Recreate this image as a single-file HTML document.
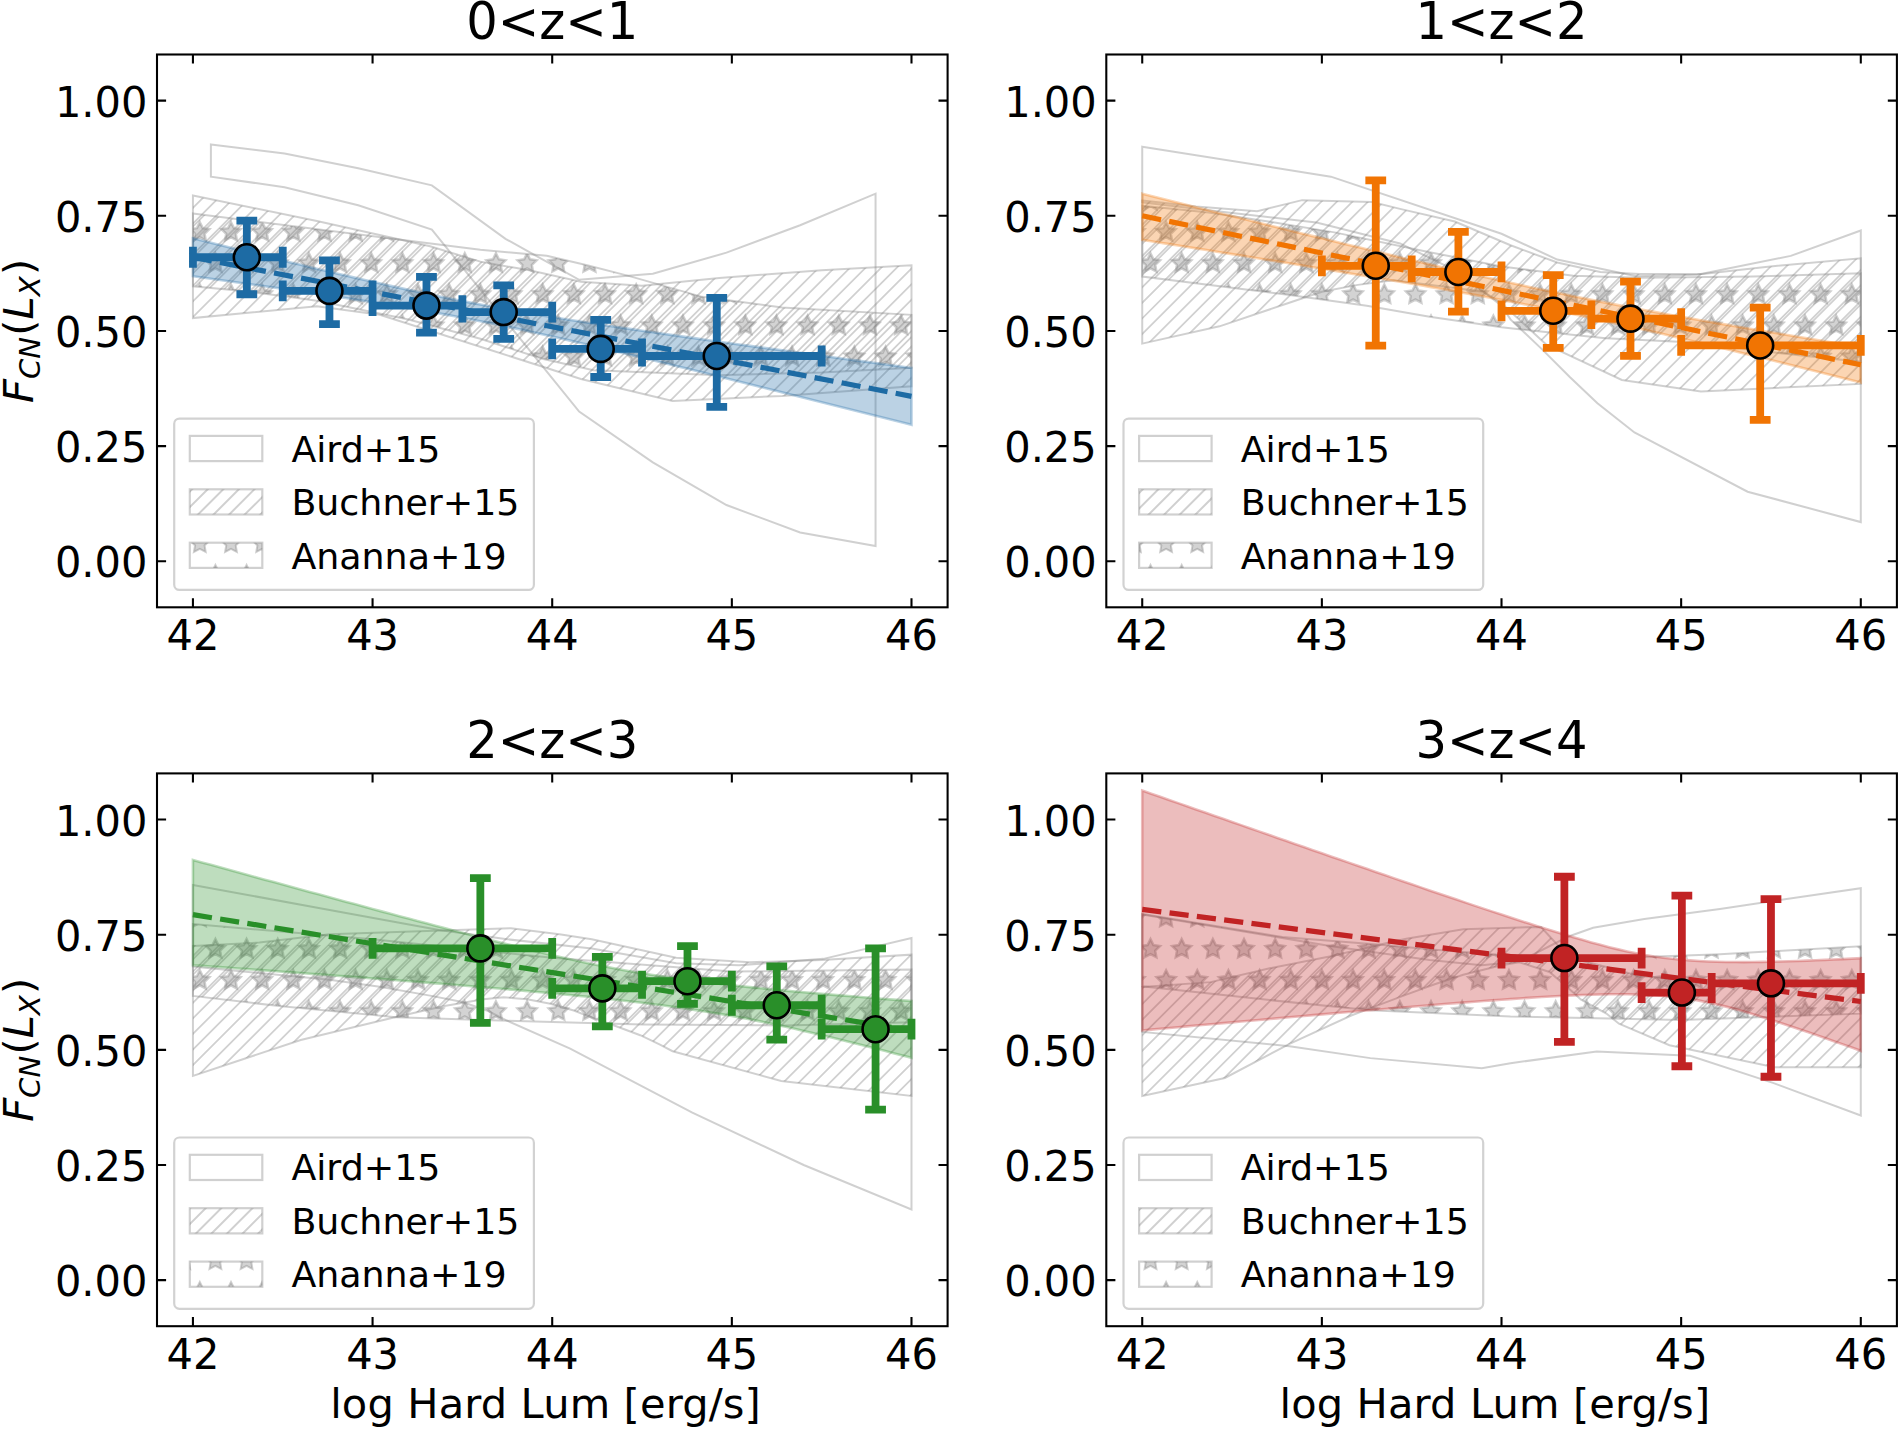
<!DOCTYPE html>
<html lang="en"><head><meta charset="utf-8"><title>F_CN(L_X) vs log Hard Lum</title>
<style>html,body{margin:0;padding:0;background:#fff}svg{display:block}text{font-family:"DejaVu Sans","Liberation Sans",sans-serif;fill:#000}</style>
</head><body>
<svg width="1900" height="1430" viewBox="0 0 1900 1430">
<rect width="1900" height="1430" fill="#fff"/>
<g id="panel0">
<clipPath id="c0"><rect x="157" y="54.5" width="790.6" height="552.8"/></clipPath>
<g clip-path="url(#c0)">
<polygon points="210.89,144.4 284.54,153.61 358.2,168.35 431.85,185.39 505.5,238.82 579.15,279.81 652.81,273.83 726.46,252.64 800.11,225.23 875.56,193.68 875.56,546.04 800.11,532.45 726.46,505.05 652.81,462.44 579.15,411.54 505.5,320.58 431.85,229.61 358.2,205.2 284.54,187.23 210.89,176.64" fill="none" stroke="rgb(128,128,128)" stroke-opacity="0.37" stroke-width="2.0" stroke-linejoin="miter"/>
<clipPath id="c0b"><polygon points="192.93,195.52 316.88,221.04 430.05,246.33 480.35,261.62 530.65,270.6 580.95,281.84 642.03,285.8 719.27,277.97 821.67,270.14 911.49,265.21 911.49,386.21 782.15,395.88 672.57,400.95 580.95,378.98 485.74,348.44 379.75,314.82 316.88,306.3 192.93,318.04"/></clipPath>
<path clip-path="url(#c0b)" d="M190.93,163.15 L913.49,-559.41 M190.93,178.74 L913.49,-543.82 M190.93,194.32 L913.49,-528.24 M190.93,209.91 L913.49,-512.65 M190.93,225.49 L913.49,-497.07 M190.93,241.08 L913.49,-481.48 M190.93,256.66 L913.49,-465.9 M190.93,272.25 L913.49,-450.31 M190.93,287.83 L913.49,-434.73 M190.93,303.42 L913.49,-419.14 M190.93,319 L913.49,-403.56 M190.93,334.59 L913.49,-387.97 M190.93,350.17 L913.49,-372.39 M190.93,365.76 L913.49,-356.8 M190.93,381.34 L913.49,-341.22 M190.93,396.93 L913.49,-325.63 M190.93,412.51 L913.49,-310.05 M190.93,428.1 L913.49,-294.46 M190.93,443.68 L913.49,-278.88 M190.93,459.27 L913.49,-263.29 M190.93,474.85 L913.49,-247.71 M190.93,490.44 L913.49,-232.12 M190.93,506.02 L913.49,-216.54 M190.93,521.61 L913.49,-200.95 M190.93,537.19 L913.49,-185.37 M190.93,552.78 L913.49,-169.78 M190.93,568.36 L913.49,-154.2 M190.93,583.95 L913.49,-138.61 M190.93,599.53 L913.49,-123.03 M190.93,615.12 L913.49,-107.44 M190.93,630.7 L913.49,-91.86 M190.93,646.29 L913.49,-76.27 M190.93,661.87 L913.49,-60.69 M190.93,677.46 L913.49,-45.1 M190.93,693.04 L913.49,-29.52 M190.93,708.63 L913.49,-13.93 M190.93,724.21 L913.49,1.65 M190.93,739.8 L913.49,17.24 M190.93,755.38 L913.49,32.82 M190.93,770.97 L913.49,48.41 M190.93,786.55 L913.49,63.99 M190.93,802.14 L913.49,79.58 M190.93,817.72 L913.49,95.16 M190.93,833.31 L913.49,110.75 M190.93,848.89 L913.49,126.33 M190.93,864.48 L913.49,141.92 M190.93,880.06 L913.49,157.5 M190.93,895.65 L913.49,173.09 M190.93,911.23 L913.49,188.67 M190.93,926.82 L913.49,204.26 M190.93,942.4 L913.49,219.84 M190.93,957.99 L913.49,235.43 M190.93,973.57 L913.49,251.01 M190.93,989.16 L913.49,266.6 M190.93,1004.74 L913.49,282.18 M190.93,1020.33 L913.49,297.77 M190.93,1035.91 L913.49,313.35 M190.93,1051.5 L913.49,328.94 M190.93,1067.08 L913.49,344.52 M190.93,1082.67 L913.49,360.11 M190.93,1098.25 L913.49,375.69 M190.93,1113.84 L913.49,391.28 M190.93,1129.42 L913.49,406.86 M190.93,1145.01 L913.49,422.45" fill="none" stroke="rgb(128,128,128)" stroke-opacity="0.37" stroke-width="1.75"/>
<polygon points="192.93,195.52 316.88,221.04 430.05,246.33 480.35,261.62 530.65,270.6 580.95,281.84 642.03,285.8 719.27,277.97 821.67,270.14 911.49,265.21 911.49,386.21 782.15,395.88 672.57,400.95 580.95,378.98 485.74,348.44 379.75,314.82 316.88,306.3 192.93,318.04" fill="none" stroke="rgb(128,128,128)" stroke-opacity="0.37" stroke-width="2.0"/>
<clipPath id="c0a"><polygon points="192.93,213.49 480.35,249.64 546.82,255.86 588.14,265.53 629.45,276.13 702.21,296.86 782.15,307.45 911.49,314.82 911.49,367.79 821.67,372.39 719.27,375.34 593.53,370.28 543.23,359.04 480.35,338.77 408.5,319.42 318.68,301 282.75,295.93 237.84,290.41 192.93,286.26"/></clipPath>
<g clip-path="url(#c0b)"><g clip-path="url(#c0a)"><path d="M190.93,165.94 L913.49,-556.62 M190.93,181.58 L913.49,-540.98 M190.93,197.22 L913.49,-525.34 M190.93,212.86 L913.49,-509.7 M190.93,228.51 L913.49,-494.05 M190.93,244.15 L913.49,-478.41 M190.93,259.79 L913.49,-462.77 M190.93,275.43 L913.49,-447.13 M190.93,291.07 L913.49,-431.49 M190.93,306.72 L913.49,-415.84 M190.93,322.36 L913.49,-400.2 M190.93,338 L913.49,-384.56 M190.93,353.64 L913.49,-368.92 M190.93,369.29 L913.49,-353.27 M190.93,384.93 L913.49,-337.63 M190.93,400.57 L913.49,-321.99 M190.93,416.21 L913.49,-306.35 M190.93,431.86 L913.49,-290.7 M190.93,447.5 L913.49,-275.06 M190.93,463.14 L913.49,-259.42 M190.93,478.78 L913.49,-243.78 M190.93,494.43 L913.49,-228.13 M190.93,510.07 L913.49,-212.49 M190.93,525.71 L913.49,-196.85 M190.93,541.35 L913.49,-181.21 M190.93,556.99 L913.49,-165.57 M190.93,572.64 L913.49,-149.92 M190.93,588.28 L913.49,-134.28 M190.93,603.92 L913.49,-118.64 M190.93,619.56 L913.49,-103 M190.93,635.21 L913.49,-87.35 M190.93,650.85 L913.49,-71.71 M190.93,666.49 L913.49,-56.07 M190.93,682.13 L913.49,-40.43 M190.93,697.78 L913.49,-24.78 M190.93,713.42 L913.49,-9.14 M190.93,729.06 L913.49,6.5 M190.93,744.7 L913.49,22.14 M190.93,760.35 L913.49,37.79 M190.93,775.99 L913.49,53.43 M190.93,791.63 L913.49,69.07 M190.93,807.27 L913.49,84.71 M190.93,822.91 L913.49,100.35 M190.93,838.56 L913.49,116 M190.93,854.2 L913.49,131.64 M190.93,869.84 L913.49,147.28 M190.93,885.48 L913.49,162.92 M190.93,901.13 L913.49,178.57 M190.93,916.77 L913.49,194.21 M190.93,932.41 L913.49,209.85 M190.93,948.05 L913.49,225.49 M190.93,963.7 L913.49,241.14 M190.93,979.34 L913.49,256.78 M190.93,994.98 L913.49,272.42 M190.93,1010.62 L913.49,288.06 M190.93,1026.27 L913.49,303.71 M190.93,1041.91 L913.49,319.35 M190.93,1057.55 L913.49,334.99 M190.93,1073.19 L913.49,350.63 M190.93,1088.83 L913.49,366.27 M190.93,1104.48 L913.49,381.92 M190.93,1120.12 L913.49,397.56 M190.93,1135.76 L913.49,413.2 M190.93,1151.4 L913.49,428.84" fill="none" stroke="rgb(128,128,128)" stroke-opacity="0.37" stroke-width="1.75"/></g></g>
<path clip-path="url(#c0a)" d="M137.47,159.85L140.41,165.8L146.99,166.76L142.23,171.4L143.35,177.94L137.47,174.85L131.6,177.94L132.72,171.4L127.96,166.76L134.54,165.8ZM168.64,159.85L171.58,165.8L178.16,166.76L173.4,171.4L174.52,177.94L168.64,174.85L162.77,177.94L163.89,171.4L159.13,166.76L165.71,165.8ZM199.81,159.85L202.75,165.8L209.33,166.76L204.57,171.4L205.69,177.94L199.81,174.85L193.94,177.94L195.06,171.4L190.3,166.76L196.88,165.8ZM230.99,159.85L233.92,165.8L240.5,166.76L235.74,171.4L236.86,177.94L230.99,174.85L225.11,177.94L226.23,171.4L221.47,166.76L228.05,165.8ZM262.15,159.85L265.09,165.8L271.67,166.76L266.91,171.4L268.03,177.94L262.15,174.85L256.28,177.94L257.4,171.4L252.64,166.76L259.22,165.8ZM293.33,159.85L296.26,165.8L302.84,166.76L298.08,171.4L299.2,177.94L293.33,174.85L287.45,177.94L288.57,171.4L283.81,166.76L290.39,165.8ZM324.5,159.85L327.43,165.8L334.01,166.76L329.25,171.4L330.37,177.94L324.5,174.85L318.62,177.94L319.74,171.4L314.98,166.76L321.56,165.8ZM355.66,159.85L358.6,165.8L365.18,166.76L360.42,171.4L361.54,177.94L355.66,174.85L349.79,177.94L350.91,171.4L346.15,166.76L352.73,165.8ZM386.84,159.85L389.77,165.8L396.35,166.76L391.59,171.4L392.71,177.94L386.84,174.85L380.96,177.94L382.08,171.4L377.32,166.76L383.9,165.8ZM418,159.85L420.94,165.8L427.52,166.76L422.76,171.4L423.88,177.94L418,174.85L412.13,177.94L413.25,171.4L408.49,166.76L415.07,165.8ZM449.17,159.85L452.11,165.8L458.69,166.76L453.93,171.4L455.05,177.94L449.17,174.85L443.3,177.94L444.42,171.4L439.66,166.76L446.24,165.8ZM480.35,159.85L483.28,165.8L489.86,166.76L485.1,171.4L486.22,177.94L480.35,174.85L474.47,177.94L475.59,171.4L470.83,166.76L477.41,165.8ZM511.51,159.85L514.45,165.8L521.03,166.76L516.27,171.4L517.39,177.94L511.51,174.85L505.64,177.94L506.76,171.4L502,166.76L508.58,165.8ZM542.68,159.85L545.62,165.8L552.2,166.76L547.44,171.4L548.56,177.94L542.68,174.85L536.81,177.94L537.93,171.4L533.17,166.76L539.75,165.8ZM573.86,159.85L576.79,165.8L583.37,166.76L578.61,171.4L579.73,177.94L573.86,174.85L567.98,177.94L569.1,171.4L564.34,166.76L570.92,165.8ZM605.02,159.85L607.96,165.8L614.54,166.76L609.78,171.4L610.9,177.94L605.02,174.85L599.15,177.94L600.27,171.4L595.51,166.76L602.09,165.8ZM636.2,159.85L639.13,165.8L645.71,166.76L640.95,171.4L642.07,177.94L636.2,174.85L630.32,177.94L631.44,171.4L626.68,166.76L633.26,165.8ZM667.37,159.85L670.3,165.8L676.88,166.76L672.12,171.4L673.24,177.94L667.37,174.85L661.49,177.94L662.61,171.4L657.85,166.76L664.43,165.8ZM698.54,159.85L701.47,165.8L708.05,166.76L703.29,171.4L704.41,177.94L698.54,174.85L692.66,177.94L693.78,171.4L689.02,166.76L695.6,165.8ZM729.71,159.85L732.64,165.8L739.22,166.76L734.46,171.4L735.58,177.94L729.71,174.85L723.83,177.94L724.95,171.4L720.19,166.76L726.77,165.8ZM760.88,159.85L763.81,165.8L770.39,166.76L765.63,171.4L766.75,177.94L760.88,174.85L755,177.94L756.12,171.4L751.36,166.76L757.94,165.8ZM792.05,159.85L794.98,165.8L801.56,166.76L796.8,171.4L797.92,177.94L792.05,174.85L786.17,177.94L787.29,171.4L782.53,166.76L789.11,165.8ZM823.22,159.85L826.15,165.8L832.73,166.76L827.97,171.4L829.09,177.94L823.22,174.85L817.34,177.94L818.46,171.4L813.7,166.76L820.28,165.8ZM854.38,159.85L857.32,165.8L863.9,166.76L859.14,171.4L860.26,177.94L854.38,174.85L848.51,177.94L849.63,171.4L844.87,166.76L851.45,165.8ZM885.56,159.85L888.49,165.8L895.07,166.76L890.31,171.4L891.43,177.94L885.56,174.85L879.68,177.94L880.8,171.4L876.04,166.76L882.62,165.8ZM916.73,159.85L919.66,165.8L926.24,166.76L921.48,171.4L922.6,177.94L916.73,174.85L910.85,177.94L911.97,171.4L907.21,166.76L913.79,165.8ZM947.89,159.85L950.83,165.8L957.41,166.76L952.65,171.4L953.77,177.94L947.89,174.85L942.02,177.94L943.14,171.4L938.38,166.76L944.96,165.8ZM153.06,191.02L156,196.97L162.57,197.93L157.82,202.57L158.94,209.11L153.06,206.02L147.18,209.11L148.3,202.57L143.55,197.93L150.12,196.97ZM184.23,191.02L187.17,196.97L193.74,197.93L188.99,202.57L190.11,209.11L184.23,206.02L178.35,209.11L179.47,202.57L174.72,197.93L181.29,196.97ZM215.4,191.02L218.34,196.97L224.91,197.93L220.16,202.57L221.28,209.11L215.4,206.02L209.52,209.11L210.64,202.57L205.89,197.93L212.46,196.97ZM246.57,191.02L249.51,196.97L256.08,197.93L251.33,202.57L252.45,209.11L246.57,206.02L240.69,209.11L241.81,202.57L237.06,197.93L243.63,196.97ZM277.74,191.02L280.68,196.97L287.25,197.93L282.5,202.57L283.62,209.11L277.74,206.02L271.86,209.11L272.98,202.57L268.23,197.93L274.8,196.97ZM308.91,191.02L311.85,196.97L318.42,197.93L313.67,202.57L314.79,209.11L308.91,206.02L303.03,209.11L304.15,202.57L299.4,197.93L305.97,196.97ZM340.08,191.02L343.02,196.97L349.59,197.93L344.84,202.57L345.96,209.11L340.08,206.02L334.2,209.11L335.32,202.57L330.57,197.93L337.14,196.97ZM371.25,191.02L374.19,196.97L380.76,197.93L376.01,202.57L377.13,209.11L371.25,206.02L365.37,209.11L366.49,202.57L361.74,197.93L368.31,196.97ZM402.42,191.02L405.36,196.97L411.93,197.93L407.18,202.57L408.3,209.11L402.42,206.02L396.54,209.11L397.66,202.57L392.91,197.93L399.48,196.97ZM433.59,191.02L436.53,196.97L443.1,197.93L438.35,202.57L439.47,209.11L433.59,206.02L427.71,209.11L428.83,202.57L424.08,197.93L430.65,196.97ZM464.76,191.02L467.7,196.97L474.27,197.93L469.52,202.57L470.64,209.11L464.76,206.02L458.88,209.11L460,202.57L455.25,197.93L461.82,196.97ZM495.93,191.02L498.87,196.97L505.44,197.93L500.69,202.57L501.81,209.11L495.93,206.02L490.05,209.11L491.17,202.57L486.42,197.93L492.99,196.97ZM527.1,191.02L530.04,196.97L536.61,197.93L531.86,202.57L532.98,209.11L527.1,206.02L521.22,209.11L522.34,202.57L517.59,197.93L524.16,196.97ZM558.27,191.02L561.21,196.97L567.78,197.93L563.03,202.57L564.15,209.11L558.27,206.02L552.39,209.11L553.51,202.57L548.76,197.93L555.33,196.97ZM589.44,191.02L592.38,196.97L598.95,197.93L594.2,202.57L595.32,209.11L589.44,206.02L583.56,209.11L584.68,202.57L579.93,197.93L586.5,196.97ZM620.61,191.02L623.55,196.97L630.12,197.93L625.37,202.57L626.49,209.11L620.61,206.02L614.73,209.11L615.85,202.57L611.1,197.93L617.67,196.97ZM651.78,191.02L654.72,196.97L661.29,197.93L656.54,202.57L657.66,209.11L651.78,206.02L645.9,209.11L647.02,202.57L642.27,197.93L648.84,196.97ZM682.95,191.02L685.89,196.97L692.46,197.93L687.71,202.57L688.83,209.11L682.95,206.02L677.07,209.11L678.19,202.57L673.44,197.93L680.01,196.97ZM714.12,191.02L717.06,196.97L723.63,197.93L718.88,202.57L720,209.11L714.12,206.02L708.24,209.11L709.36,202.57L704.61,197.93L711.18,196.97ZM745.29,191.02L748.23,196.97L754.8,197.93L750.05,202.57L751.17,209.11L745.29,206.02L739.41,209.11L740.53,202.57L735.78,197.93L742.35,196.97ZM776.46,191.02L779.4,196.97L785.97,197.93L781.22,202.57L782.34,209.11L776.46,206.02L770.58,209.11L771.7,202.57L766.95,197.93L773.52,196.97ZM807.63,191.02L810.57,196.97L817.14,197.93L812.39,202.57L813.51,209.11L807.63,206.02L801.75,209.11L802.87,202.57L798.12,197.93L804.69,196.97ZM838.8,191.02L841.74,196.97L848.31,197.93L843.56,202.57L844.68,209.11L838.8,206.02L832.92,209.11L834.04,202.57L829.29,197.93L835.86,196.97ZM869.97,191.02L872.91,196.97L879.48,197.93L874.73,202.57L875.85,209.11L869.97,206.02L864.09,209.11L865.21,202.57L860.46,197.93L867.03,196.97ZM901.14,191.02L904.08,196.97L910.65,197.93L905.9,202.57L907.02,209.11L901.14,206.02L895.26,209.11L896.38,202.57L891.63,197.93L898.2,196.97ZM932.31,191.02L935.25,196.97L941.82,197.93L937.07,202.57L938.19,209.11L932.31,206.02L926.43,209.11L927.55,202.57L922.8,197.93L929.37,196.97ZM963.48,191.02L966.42,196.97L972.99,197.93L968.24,202.57L969.36,209.11L963.48,206.02L957.6,209.11L958.72,202.57L953.97,197.93L960.54,196.97ZM137.47,222.19L140.41,228.14L146.99,229.1L142.23,233.74L143.35,240.28L137.47,237.19L131.6,240.28L132.72,233.74L127.96,229.1L134.54,228.14ZM168.64,222.19L171.58,228.14L178.16,229.1L173.4,233.74L174.52,240.28L168.64,237.19L162.77,240.28L163.89,233.74L159.13,229.1L165.71,228.14ZM199.81,222.19L202.75,228.14L209.33,229.1L204.57,233.74L205.69,240.28L199.81,237.19L193.94,240.28L195.06,233.74L190.3,229.1L196.88,228.14ZM230.99,222.19L233.92,228.14L240.5,229.1L235.74,233.74L236.86,240.28L230.99,237.19L225.11,240.28L226.23,233.74L221.47,229.1L228.05,228.14ZM262.15,222.19L265.09,228.14L271.67,229.1L266.91,233.74L268.03,240.28L262.15,237.19L256.28,240.28L257.4,233.74L252.64,229.1L259.22,228.14ZM293.33,222.19L296.26,228.14L302.84,229.1L298.08,233.74L299.2,240.28L293.33,237.19L287.45,240.28L288.57,233.74L283.81,229.1L290.39,228.14ZM324.5,222.19L327.43,228.14L334.01,229.1L329.25,233.74L330.37,240.28L324.5,237.19L318.62,240.28L319.74,233.74L314.98,229.1L321.56,228.14ZM355.66,222.19L358.6,228.14L365.18,229.1L360.42,233.74L361.54,240.28L355.66,237.19L349.79,240.28L350.91,233.74L346.15,229.1L352.73,228.14ZM386.84,222.19L389.77,228.14L396.35,229.1L391.59,233.74L392.71,240.28L386.84,237.19L380.96,240.28L382.08,233.74L377.32,229.1L383.9,228.14ZM418,222.19L420.94,228.14L427.52,229.1L422.76,233.74L423.88,240.28L418,237.19L412.13,240.28L413.25,233.74L408.49,229.1L415.07,228.14ZM449.17,222.19L452.11,228.14L458.69,229.1L453.93,233.74L455.05,240.28L449.17,237.19L443.3,240.28L444.42,233.74L439.66,229.1L446.24,228.14ZM480.35,222.19L483.28,228.14L489.86,229.1L485.1,233.74L486.22,240.28L480.35,237.19L474.47,240.28L475.59,233.74L470.83,229.1L477.41,228.14ZM511.51,222.19L514.45,228.14L521.03,229.1L516.27,233.74L517.39,240.28L511.51,237.19L505.64,240.28L506.76,233.74L502,229.1L508.58,228.14ZM542.68,222.19L545.62,228.14L552.2,229.1L547.44,233.74L548.56,240.28L542.68,237.19L536.81,240.28L537.93,233.74L533.17,229.1L539.75,228.14ZM573.86,222.19L576.79,228.14L583.37,229.1L578.61,233.74L579.73,240.28L573.86,237.19L567.98,240.28L569.1,233.74L564.34,229.1L570.92,228.14ZM605.02,222.19L607.96,228.14L614.54,229.1L609.78,233.74L610.9,240.28L605.02,237.19L599.15,240.28L600.27,233.74L595.51,229.1L602.09,228.14ZM636.2,222.19L639.13,228.14L645.71,229.1L640.95,233.74L642.07,240.28L636.2,237.19L630.32,240.28L631.44,233.74L626.68,229.1L633.26,228.14ZM667.37,222.19L670.3,228.14L676.88,229.1L672.12,233.74L673.24,240.28L667.37,237.19L661.49,240.28L662.61,233.74L657.85,229.1L664.43,228.14ZM698.54,222.19L701.47,228.14L708.05,229.1L703.29,233.74L704.41,240.28L698.54,237.19L692.66,240.28L693.78,233.74L689.02,229.1L695.6,228.14ZM729.71,222.19L732.64,228.14L739.22,229.1L734.46,233.74L735.58,240.28L729.71,237.19L723.83,240.28L724.95,233.74L720.19,229.1L726.77,228.14ZM760.88,222.19L763.81,228.14L770.39,229.1L765.63,233.74L766.75,240.28L760.88,237.19L755,240.28L756.12,233.74L751.36,229.1L757.94,228.14ZM792.05,222.19L794.98,228.14L801.56,229.1L796.8,233.74L797.92,240.28L792.05,237.19L786.17,240.28L787.29,233.74L782.53,229.1L789.11,228.14ZM823.22,222.19L826.15,228.14L832.73,229.1L827.97,233.74L829.09,240.28L823.22,237.19L817.34,240.28L818.46,233.74L813.7,229.1L820.28,228.14ZM854.38,222.19L857.32,228.14L863.9,229.1L859.14,233.74L860.26,240.28L854.38,237.19L848.51,240.28L849.63,233.74L844.87,229.1L851.45,228.14ZM885.56,222.19L888.49,228.14L895.07,229.1L890.31,233.74L891.43,240.28L885.56,237.19L879.68,240.28L880.8,233.74L876.04,229.1L882.62,228.14ZM916.73,222.19L919.66,228.14L926.24,229.1L921.48,233.74L922.6,240.28L916.73,237.19L910.85,240.28L911.97,233.74L907.21,229.1L913.79,228.14ZM947.89,222.19L950.83,228.14L957.41,229.1L952.65,233.74L953.77,240.28L947.89,237.19L942.02,240.28L943.14,233.74L938.38,229.1L944.96,228.14ZM153.06,253.36L156,259.31L162.57,260.27L157.82,264.91L158.94,271.45L153.06,268.36L147.18,271.45L148.3,264.91L143.55,260.27L150.12,259.31ZM184.23,253.36L187.17,259.31L193.74,260.27L188.99,264.91L190.11,271.45L184.23,268.36L178.35,271.45L179.47,264.91L174.72,260.27L181.29,259.31ZM215.4,253.36L218.34,259.31L224.91,260.27L220.16,264.91L221.28,271.45L215.4,268.36L209.52,271.45L210.64,264.91L205.89,260.27L212.46,259.31ZM246.57,253.36L249.51,259.31L256.08,260.27L251.33,264.91L252.45,271.45L246.57,268.36L240.69,271.45L241.81,264.91L237.06,260.27L243.63,259.31ZM277.74,253.36L280.68,259.31L287.25,260.27L282.5,264.91L283.62,271.45L277.74,268.36L271.86,271.45L272.98,264.91L268.23,260.27L274.8,259.31ZM308.91,253.36L311.85,259.31L318.42,260.27L313.67,264.91L314.79,271.45L308.91,268.36L303.03,271.45L304.15,264.91L299.4,260.27L305.97,259.31ZM340.08,253.36L343.02,259.31L349.59,260.27L344.84,264.91L345.96,271.45L340.08,268.36L334.2,271.45L335.32,264.91L330.57,260.27L337.14,259.31ZM371.25,253.36L374.19,259.31L380.76,260.27L376.01,264.91L377.13,271.45L371.25,268.36L365.37,271.45L366.49,264.91L361.74,260.27L368.31,259.31ZM402.42,253.36L405.36,259.31L411.93,260.27L407.18,264.91L408.3,271.45L402.42,268.36L396.54,271.45L397.66,264.91L392.91,260.27L399.48,259.31ZM433.59,253.36L436.53,259.31L443.1,260.27L438.35,264.91L439.47,271.45L433.59,268.36L427.71,271.45L428.83,264.91L424.08,260.27L430.65,259.31ZM464.76,253.36L467.7,259.31L474.27,260.27L469.52,264.91L470.64,271.45L464.76,268.36L458.88,271.45L460,264.91L455.25,260.27L461.82,259.31ZM495.93,253.36L498.87,259.31L505.44,260.27L500.69,264.91L501.81,271.45L495.93,268.36L490.05,271.45L491.17,264.91L486.42,260.27L492.99,259.31ZM527.1,253.36L530.04,259.31L536.61,260.27L531.86,264.91L532.98,271.45L527.1,268.36L521.22,271.45L522.34,264.91L517.59,260.27L524.16,259.31ZM558.27,253.36L561.21,259.31L567.78,260.27L563.03,264.91L564.15,271.45L558.27,268.36L552.39,271.45L553.51,264.91L548.76,260.27L555.33,259.31ZM589.44,253.36L592.38,259.31L598.95,260.27L594.2,264.91L595.32,271.45L589.44,268.36L583.56,271.45L584.68,264.91L579.93,260.27L586.5,259.31ZM620.61,253.36L623.55,259.31L630.12,260.27L625.37,264.91L626.49,271.45L620.61,268.36L614.73,271.45L615.85,264.91L611.1,260.27L617.67,259.31ZM651.78,253.36L654.72,259.31L661.29,260.27L656.54,264.91L657.66,271.45L651.78,268.36L645.9,271.45L647.02,264.91L642.27,260.27L648.84,259.31ZM682.95,253.36L685.89,259.31L692.46,260.27L687.71,264.91L688.83,271.45L682.95,268.36L677.07,271.45L678.19,264.91L673.44,260.27L680.01,259.31ZM714.12,253.36L717.06,259.31L723.63,260.27L718.88,264.91L720,271.45L714.12,268.36L708.24,271.45L709.36,264.91L704.61,260.27L711.18,259.31ZM745.29,253.36L748.23,259.31L754.8,260.27L750.05,264.91L751.17,271.45L745.29,268.36L739.41,271.45L740.53,264.91L735.78,260.27L742.35,259.31ZM776.46,253.36L779.4,259.31L785.97,260.27L781.22,264.91L782.34,271.45L776.46,268.36L770.58,271.45L771.7,264.91L766.95,260.27L773.52,259.31ZM807.63,253.36L810.57,259.31L817.14,260.27L812.39,264.91L813.51,271.45L807.63,268.36L801.75,271.45L802.87,264.91L798.12,260.27L804.69,259.31ZM838.8,253.36L841.74,259.31L848.31,260.27L843.56,264.91L844.68,271.45L838.8,268.36L832.92,271.45L834.04,264.91L829.29,260.27L835.86,259.31ZM869.97,253.36L872.91,259.31L879.48,260.27L874.73,264.91L875.85,271.45L869.97,268.36L864.09,271.45L865.21,264.91L860.46,260.27L867.03,259.31ZM901.14,253.36L904.08,259.31L910.65,260.27L905.9,264.91L907.02,271.45L901.14,268.36L895.26,271.45L896.38,264.91L891.63,260.27L898.2,259.31ZM932.31,253.36L935.25,259.31L941.82,260.27L937.07,264.91L938.19,271.45L932.31,268.36L926.43,271.45L927.55,264.91L922.8,260.27L929.37,259.31ZM963.48,253.36L966.42,259.31L972.99,260.27L968.24,264.91L969.36,271.45L963.48,268.36L957.6,271.45L958.72,264.91L953.97,260.27L960.54,259.31ZM137.47,284.53L140.41,290.48L146.99,291.44L142.23,296.08L143.35,302.62L137.47,299.53L131.6,302.62L132.72,296.08L127.96,291.44L134.54,290.48ZM168.64,284.53L171.58,290.48L178.16,291.44L173.4,296.08L174.52,302.62L168.64,299.53L162.77,302.62L163.89,296.08L159.13,291.44L165.71,290.48ZM199.81,284.53L202.75,290.48L209.33,291.44L204.57,296.08L205.69,302.62L199.81,299.53L193.94,302.62L195.06,296.08L190.3,291.44L196.88,290.48ZM230.99,284.53L233.92,290.48L240.5,291.44L235.74,296.08L236.86,302.62L230.99,299.53L225.11,302.62L226.23,296.08L221.47,291.44L228.05,290.48ZM262.15,284.53L265.09,290.48L271.67,291.44L266.91,296.08L268.03,302.62L262.15,299.53L256.28,302.62L257.4,296.08L252.64,291.44L259.22,290.48ZM293.33,284.53L296.26,290.48L302.84,291.44L298.08,296.08L299.2,302.62L293.33,299.53L287.45,302.62L288.57,296.08L283.81,291.44L290.39,290.48ZM324.5,284.53L327.43,290.48L334.01,291.44L329.25,296.08L330.37,302.62L324.5,299.53L318.62,302.62L319.74,296.08L314.98,291.44L321.56,290.48ZM355.66,284.53L358.6,290.48L365.18,291.44L360.42,296.08L361.54,302.62L355.66,299.53L349.79,302.62L350.91,296.08L346.15,291.44L352.73,290.48ZM386.84,284.53L389.77,290.48L396.35,291.44L391.59,296.08L392.71,302.62L386.84,299.53L380.96,302.62L382.08,296.08L377.32,291.44L383.9,290.48ZM418,284.53L420.94,290.48L427.52,291.44L422.76,296.08L423.88,302.62L418,299.53L412.13,302.62L413.25,296.08L408.49,291.44L415.07,290.48ZM449.17,284.53L452.11,290.48L458.69,291.44L453.93,296.08L455.05,302.62L449.17,299.53L443.3,302.62L444.42,296.08L439.66,291.44L446.24,290.48ZM480.35,284.53L483.28,290.48L489.86,291.44L485.1,296.08L486.22,302.62L480.35,299.53L474.47,302.62L475.59,296.08L470.83,291.44L477.41,290.48ZM511.51,284.53L514.45,290.48L521.03,291.44L516.27,296.08L517.39,302.62L511.51,299.53L505.64,302.62L506.76,296.08L502,291.44L508.58,290.48ZM542.68,284.53L545.62,290.48L552.2,291.44L547.44,296.08L548.56,302.62L542.68,299.53L536.81,302.62L537.93,296.08L533.17,291.44L539.75,290.48ZM573.86,284.53L576.79,290.48L583.37,291.44L578.61,296.08L579.73,302.62L573.86,299.53L567.98,302.62L569.1,296.08L564.34,291.44L570.92,290.48ZM605.02,284.53L607.96,290.48L614.54,291.44L609.78,296.08L610.9,302.62L605.02,299.53L599.15,302.62L600.27,296.08L595.51,291.44L602.09,290.48ZM636.2,284.53L639.13,290.48L645.71,291.44L640.95,296.08L642.07,302.62L636.2,299.53L630.32,302.62L631.44,296.08L626.68,291.44L633.26,290.48ZM667.37,284.53L670.3,290.48L676.88,291.44L672.12,296.08L673.24,302.62L667.37,299.53L661.49,302.62L662.61,296.08L657.85,291.44L664.43,290.48ZM698.54,284.53L701.47,290.48L708.05,291.44L703.29,296.08L704.41,302.62L698.54,299.53L692.66,302.62L693.78,296.08L689.02,291.44L695.6,290.48ZM729.71,284.53L732.64,290.48L739.22,291.44L734.46,296.08L735.58,302.62L729.71,299.53L723.83,302.62L724.95,296.08L720.19,291.44L726.77,290.48ZM760.88,284.53L763.81,290.48L770.39,291.44L765.63,296.08L766.75,302.62L760.88,299.53L755,302.62L756.12,296.08L751.36,291.44L757.94,290.48ZM792.05,284.53L794.98,290.48L801.56,291.44L796.8,296.08L797.92,302.62L792.05,299.53L786.17,302.62L787.29,296.08L782.53,291.44L789.11,290.48ZM823.22,284.53L826.15,290.48L832.73,291.44L827.97,296.08L829.09,302.62L823.22,299.53L817.34,302.62L818.46,296.08L813.7,291.44L820.28,290.48ZM854.38,284.53L857.32,290.48L863.9,291.44L859.14,296.08L860.26,302.62L854.38,299.53L848.51,302.62L849.63,296.08L844.87,291.44L851.45,290.48ZM885.56,284.53L888.49,290.48L895.07,291.44L890.31,296.08L891.43,302.62L885.56,299.53L879.68,302.62L880.8,296.08L876.04,291.44L882.62,290.48ZM916.73,284.53L919.66,290.48L926.24,291.44L921.48,296.08L922.6,302.62L916.73,299.53L910.85,302.62L911.97,296.08L907.21,291.44L913.79,290.48ZM947.89,284.53L950.83,290.48L957.41,291.44L952.65,296.08L953.77,302.62L947.89,299.53L942.02,302.62L943.14,296.08L938.38,291.44L944.96,290.48ZM153.06,315.7L156,321.65L162.57,322.61L157.82,327.25L158.94,333.79L153.06,330.7L147.18,333.79L148.3,327.25L143.55,322.61L150.12,321.65ZM184.23,315.7L187.17,321.65L193.74,322.61L188.99,327.25L190.11,333.79L184.23,330.7L178.35,333.79L179.47,327.25L174.72,322.61L181.29,321.65ZM215.4,315.7L218.34,321.65L224.91,322.61L220.16,327.25L221.28,333.79L215.4,330.7L209.52,333.79L210.64,327.25L205.89,322.61L212.46,321.65ZM246.57,315.7L249.51,321.65L256.08,322.61L251.33,327.25L252.45,333.79L246.57,330.7L240.69,333.79L241.81,327.25L237.06,322.61L243.63,321.65ZM277.74,315.7L280.68,321.65L287.25,322.61L282.5,327.25L283.62,333.79L277.74,330.7L271.86,333.79L272.98,327.25L268.23,322.61L274.8,321.65ZM308.91,315.7L311.85,321.65L318.42,322.61L313.67,327.25L314.79,333.79L308.91,330.7L303.03,333.79L304.15,327.25L299.4,322.61L305.97,321.65ZM340.08,315.7L343.02,321.65L349.59,322.61L344.84,327.25L345.96,333.79L340.08,330.7L334.2,333.79L335.32,327.25L330.57,322.61L337.14,321.65ZM371.25,315.7L374.19,321.65L380.76,322.61L376.01,327.25L377.13,333.79L371.25,330.7L365.37,333.79L366.49,327.25L361.74,322.61L368.31,321.65ZM402.42,315.7L405.36,321.65L411.93,322.61L407.18,327.25L408.3,333.79L402.42,330.7L396.54,333.79L397.66,327.25L392.91,322.61L399.48,321.65ZM433.59,315.7L436.53,321.65L443.1,322.61L438.35,327.25L439.47,333.79L433.59,330.7L427.71,333.79L428.83,327.25L424.08,322.61L430.65,321.65ZM464.76,315.7L467.7,321.65L474.27,322.61L469.52,327.25L470.64,333.79L464.76,330.7L458.88,333.79L460,327.25L455.25,322.61L461.82,321.65ZM495.93,315.7L498.87,321.65L505.44,322.61L500.69,327.25L501.81,333.79L495.93,330.7L490.05,333.79L491.17,327.25L486.42,322.61L492.99,321.65ZM527.1,315.7L530.04,321.65L536.61,322.61L531.86,327.25L532.98,333.79L527.1,330.7L521.22,333.79L522.34,327.25L517.59,322.61L524.16,321.65ZM558.27,315.7L561.21,321.65L567.78,322.61L563.03,327.25L564.15,333.79L558.27,330.7L552.39,333.79L553.51,327.25L548.76,322.61L555.33,321.65ZM589.44,315.7L592.38,321.65L598.95,322.61L594.2,327.25L595.32,333.79L589.44,330.7L583.56,333.79L584.68,327.25L579.93,322.61L586.5,321.65ZM620.61,315.7L623.55,321.65L630.12,322.61L625.37,327.25L626.49,333.79L620.61,330.7L614.73,333.79L615.85,327.25L611.1,322.61L617.67,321.65ZM651.78,315.7L654.72,321.65L661.29,322.61L656.54,327.25L657.66,333.79L651.78,330.7L645.9,333.79L647.02,327.25L642.27,322.61L648.84,321.65ZM682.95,315.7L685.89,321.65L692.46,322.61L687.71,327.25L688.83,333.79L682.95,330.7L677.07,333.79L678.19,327.25L673.44,322.61L680.01,321.65ZM714.12,315.7L717.06,321.65L723.63,322.61L718.88,327.25L720,333.79L714.12,330.7L708.24,333.79L709.36,327.25L704.61,322.61L711.18,321.65ZM745.29,315.7L748.23,321.65L754.8,322.61L750.05,327.25L751.17,333.79L745.29,330.7L739.41,333.79L740.53,327.25L735.78,322.61L742.35,321.65ZM776.46,315.7L779.4,321.65L785.97,322.61L781.22,327.25L782.34,333.79L776.46,330.7L770.58,333.79L771.7,327.25L766.95,322.61L773.52,321.65ZM807.63,315.7L810.57,321.65L817.14,322.61L812.39,327.25L813.51,333.79L807.63,330.7L801.75,333.79L802.87,327.25L798.12,322.61L804.69,321.65ZM838.8,315.7L841.74,321.65L848.31,322.61L843.56,327.25L844.68,333.79L838.8,330.7L832.92,333.79L834.04,327.25L829.29,322.61L835.86,321.65ZM869.97,315.7L872.91,321.65L879.48,322.61L874.73,327.25L875.85,333.79L869.97,330.7L864.09,333.79L865.21,327.25L860.46,322.61L867.03,321.65ZM901.14,315.7L904.08,321.65L910.65,322.61L905.9,327.25L907.02,333.79L901.14,330.7L895.26,333.79L896.38,327.25L891.63,322.61L898.2,321.65ZM932.31,315.7L935.25,321.65L941.82,322.61L937.07,327.25L938.19,333.79L932.31,330.7L926.43,333.79L927.55,327.25L922.8,322.61L929.37,321.65ZM963.48,315.7L966.42,321.65L972.99,322.61L968.24,327.25L969.36,333.79L963.48,330.7L957.6,333.79L958.72,327.25L953.97,322.61L960.54,321.65ZM137.47,346.87L140.41,352.82L146.99,353.78L142.23,358.42L143.35,364.96L137.47,361.87L131.6,364.96L132.72,358.42L127.96,353.78L134.54,352.82ZM168.64,346.87L171.58,352.82L178.16,353.78L173.4,358.42L174.52,364.96L168.64,361.87L162.77,364.96L163.89,358.42L159.13,353.78L165.71,352.82ZM199.81,346.87L202.75,352.82L209.33,353.78L204.57,358.42L205.69,364.96L199.81,361.87L193.94,364.96L195.06,358.42L190.3,353.78L196.88,352.82ZM230.99,346.87L233.92,352.82L240.5,353.78L235.74,358.42L236.86,364.96L230.99,361.87L225.11,364.96L226.23,358.42L221.47,353.78L228.05,352.82ZM262.15,346.87L265.09,352.82L271.67,353.78L266.91,358.42L268.03,364.96L262.15,361.87L256.28,364.96L257.4,358.42L252.64,353.78L259.22,352.82ZM293.33,346.87L296.26,352.82L302.84,353.78L298.08,358.42L299.2,364.96L293.33,361.87L287.45,364.96L288.57,358.42L283.81,353.78L290.39,352.82ZM324.5,346.87L327.43,352.82L334.01,353.78L329.25,358.42L330.37,364.96L324.5,361.87L318.62,364.96L319.74,358.42L314.98,353.78L321.56,352.82ZM355.66,346.87L358.6,352.82L365.18,353.78L360.42,358.42L361.54,364.96L355.66,361.87L349.79,364.96L350.91,358.42L346.15,353.78L352.73,352.82ZM386.84,346.87L389.77,352.82L396.35,353.78L391.59,358.42L392.71,364.96L386.84,361.87L380.96,364.96L382.08,358.42L377.32,353.78L383.9,352.82ZM418,346.87L420.94,352.82L427.52,353.78L422.76,358.42L423.88,364.96L418,361.87L412.13,364.96L413.25,358.42L408.49,353.78L415.07,352.82ZM449.17,346.87L452.11,352.82L458.69,353.78L453.93,358.42L455.05,364.96L449.17,361.87L443.3,364.96L444.42,358.42L439.66,353.78L446.24,352.82ZM480.35,346.87L483.28,352.82L489.86,353.78L485.1,358.42L486.22,364.96L480.35,361.87L474.47,364.96L475.59,358.42L470.83,353.78L477.41,352.82ZM511.51,346.87L514.45,352.82L521.03,353.78L516.27,358.42L517.39,364.96L511.51,361.87L505.64,364.96L506.76,358.42L502,353.78L508.58,352.82ZM542.68,346.87L545.62,352.82L552.2,353.78L547.44,358.42L548.56,364.96L542.68,361.87L536.81,364.96L537.93,358.42L533.17,353.78L539.75,352.82ZM573.86,346.87L576.79,352.82L583.37,353.78L578.61,358.42L579.73,364.96L573.86,361.87L567.98,364.96L569.1,358.42L564.34,353.78L570.92,352.82ZM605.02,346.87L607.96,352.82L614.54,353.78L609.78,358.42L610.9,364.96L605.02,361.87L599.15,364.96L600.27,358.42L595.51,353.78L602.09,352.82ZM636.2,346.87L639.13,352.82L645.71,353.78L640.95,358.42L642.07,364.96L636.2,361.87L630.32,364.96L631.44,358.42L626.68,353.78L633.26,352.82ZM667.37,346.87L670.3,352.82L676.88,353.78L672.12,358.42L673.24,364.96L667.37,361.87L661.49,364.96L662.61,358.42L657.85,353.78L664.43,352.82ZM698.54,346.87L701.47,352.82L708.05,353.78L703.29,358.42L704.41,364.96L698.54,361.87L692.66,364.96L693.78,358.42L689.02,353.78L695.6,352.82ZM729.71,346.87L732.64,352.82L739.22,353.78L734.46,358.42L735.58,364.96L729.71,361.87L723.83,364.96L724.95,358.42L720.19,353.78L726.77,352.82ZM760.88,346.87L763.81,352.82L770.39,353.78L765.63,358.42L766.75,364.96L760.88,361.87L755,364.96L756.12,358.42L751.36,353.78L757.94,352.82ZM792.05,346.87L794.98,352.82L801.56,353.78L796.8,358.42L797.92,364.96L792.05,361.87L786.17,364.96L787.29,358.42L782.53,353.78L789.11,352.82ZM823.22,346.87L826.15,352.82L832.73,353.78L827.97,358.42L829.09,364.96L823.22,361.87L817.34,364.96L818.46,358.42L813.7,353.78L820.28,352.82ZM854.38,346.87L857.32,352.82L863.9,353.78L859.14,358.42L860.26,364.96L854.38,361.87L848.51,364.96L849.63,358.42L844.87,353.78L851.45,352.82ZM885.56,346.87L888.49,352.82L895.07,353.78L890.31,358.42L891.43,364.96L885.56,361.87L879.68,364.96L880.8,358.42L876.04,353.78L882.62,352.82ZM916.73,346.87L919.66,352.82L926.24,353.78L921.48,358.42L922.6,364.96L916.73,361.87L910.85,364.96L911.97,358.42L907.21,353.78L913.79,352.82ZM947.89,346.87L950.83,352.82L957.41,353.78L952.65,358.42L953.77,364.96L947.89,361.87L942.02,364.96L943.14,358.42L938.38,353.78L944.96,352.82ZM153.06,378.04L156,383.99L162.57,384.95L157.82,389.59L158.94,396.13L153.06,393.04L147.18,396.13L148.3,389.59L143.55,384.95L150.12,383.99ZM184.23,378.04L187.17,383.99L193.74,384.95L188.99,389.59L190.11,396.13L184.23,393.04L178.35,396.13L179.47,389.59L174.72,384.95L181.29,383.99ZM215.4,378.04L218.34,383.99L224.91,384.95L220.16,389.59L221.28,396.13L215.4,393.04L209.52,396.13L210.64,389.59L205.89,384.95L212.46,383.99ZM246.57,378.04L249.51,383.99L256.08,384.95L251.33,389.59L252.45,396.13L246.57,393.04L240.69,396.13L241.81,389.59L237.06,384.95L243.63,383.99ZM277.74,378.04L280.68,383.99L287.25,384.95L282.5,389.59L283.62,396.13L277.74,393.04L271.86,396.13L272.98,389.59L268.23,384.95L274.8,383.99ZM308.91,378.04L311.85,383.99L318.42,384.95L313.67,389.59L314.79,396.13L308.91,393.04L303.03,396.13L304.15,389.59L299.4,384.95L305.97,383.99ZM340.08,378.04L343.02,383.99L349.59,384.95L344.84,389.59L345.96,396.13L340.08,393.04L334.2,396.13L335.32,389.59L330.57,384.95L337.14,383.99ZM371.25,378.04L374.19,383.99L380.76,384.95L376.01,389.59L377.13,396.13L371.25,393.04L365.37,396.13L366.49,389.59L361.74,384.95L368.31,383.99ZM402.42,378.04L405.36,383.99L411.93,384.95L407.18,389.59L408.3,396.13L402.42,393.04L396.54,396.13L397.66,389.59L392.91,384.95L399.48,383.99ZM433.59,378.04L436.53,383.99L443.1,384.95L438.35,389.59L439.47,396.13L433.59,393.04L427.71,396.13L428.83,389.59L424.08,384.95L430.65,383.99ZM464.76,378.04L467.7,383.99L474.27,384.95L469.52,389.59L470.64,396.13L464.76,393.04L458.88,396.13L460,389.59L455.25,384.95L461.82,383.99ZM495.93,378.04L498.87,383.99L505.44,384.95L500.69,389.59L501.81,396.13L495.93,393.04L490.05,396.13L491.17,389.59L486.42,384.95L492.99,383.99ZM527.1,378.04L530.04,383.99L536.61,384.95L531.86,389.59L532.98,396.13L527.1,393.04L521.22,396.13L522.34,389.59L517.59,384.95L524.16,383.99ZM558.27,378.04L561.21,383.99L567.78,384.95L563.03,389.59L564.15,396.13L558.27,393.04L552.39,396.13L553.51,389.59L548.76,384.95L555.33,383.99ZM589.44,378.04L592.38,383.99L598.95,384.95L594.2,389.59L595.32,396.13L589.44,393.04L583.56,396.13L584.68,389.59L579.93,384.95L586.5,383.99ZM620.61,378.04L623.55,383.99L630.12,384.95L625.37,389.59L626.49,396.13L620.61,393.04L614.73,396.13L615.85,389.59L611.1,384.95L617.67,383.99ZM651.78,378.04L654.72,383.99L661.29,384.95L656.54,389.59L657.66,396.13L651.78,393.04L645.9,396.13L647.02,389.59L642.27,384.95L648.84,383.99ZM682.95,378.04L685.89,383.99L692.46,384.95L687.71,389.59L688.83,396.13L682.95,393.04L677.07,396.13L678.19,389.59L673.44,384.95L680.01,383.99ZM714.12,378.04L717.06,383.99L723.63,384.95L718.88,389.59L720,396.13L714.12,393.04L708.24,396.13L709.36,389.59L704.61,384.95L711.18,383.99ZM745.29,378.04L748.23,383.99L754.8,384.95L750.05,389.59L751.17,396.13L745.29,393.04L739.41,396.13L740.53,389.59L735.78,384.95L742.35,383.99ZM776.46,378.04L779.4,383.99L785.97,384.95L781.22,389.59L782.34,396.13L776.46,393.04L770.58,396.13L771.7,389.59L766.95,384.95L773.52,383.99ZM807.63,378.04L810.57,383.99L817.14,384.95L812.39,389.59L813.51,396.13L807.63,393.04L801.75,396.13L802.87,389.59L798.12,384.95L804.69,383.99ZM838.8,378.04L841.74,383.99L848.31,384.95L843.56,389.59L844.68,396.13L838.8,393.04L832.92,396.13L834.04,389.59L829.29,384.95L835.86,383.99ZM869.97,378.04L872.91,383.99L879.48,384.95L874.73,389.59L875.85,396.13L869.97,393.04L864.09,396.13L865.21,389.59L860.46,384.95L867.03,383.99ZM901.14,378.04L904.08,383.99L910.65,384.95L905.9,389.59L907.02,396.13L901.14,393.04L895.26,396.13L896.38,389.59L891.63,384.95L898.2,383.99ZM932.31,378.04L935.25,383.99L941.82,384.95L937.07,389.59L938.19,396.13L932.31,393.04L926.43,396.13L927.55,389.59L922.8,384.95L929.37,383.99ZM963.48,378.04L966.42,383.99L972.99,384.95L968.24,389.59L969.36,396.13L963.48,393.04L957.6,396.13L958.72,389.59L953.97,384.95L960.54,383.99ZM137.47,409.21L140.41,415.16L146.99,416.12L142.23,420.76L143.35,427.3L137.47,424.21L131.6,427.3L132.72,420.76L127.96,416.12L134.54,415.16ZM168.64,409.21L171.58,415.16L178.16,416.12L173.4,420.76L174.52,427.3L168.64,424.21L162.77,427.3L163.89,420.76L159.13,416.12L165.71,415.16ZM199.81,409.21L202.75,415.16L209.33,416.12L204.57,420.76L205.69,427.3L199.81,424.21L193.94,427.3L195.06,420.76L190.3,416.12L196.88,415.16ZM230.99,409.21L233.92,415.16L240.5,416.12L235.74,420.76L236.86,427.3L230.99,424.21L225.11,427.3L226.23,420.76L221.47,416.12L228.05,415.16ZM262.15,409.21L265.09,415.16L271.67,416.12L266.91,420.76L268.03,427.3L262.15,424.21L256.28,427.3L257.4,420.76L252.64,416.12L259.22,415.16ZM293.33,409.21L296.26,415.16L302.84,416.12L298.08,420.76L299.2,427.3L293.33,424.21L287.45,427.3L288.57,420.76L283.81,416.12L290.39,415.16ZM324.5,409.21L327.43,415.16L334.01,416.12L329.25,420.76L330.37,427.3L324.5,424.21L318.62,427.3L319.74,420.76L314.98,416.12L321.56,415.16ZM355.66,409.21L358.6,415.16L365.18,416.12L360.42,420.76L361.54,427.3L355.66,424.21L349.79,427.3L350.91,420.76L346.15,416.12L352.73,415.16ZM386.84,409.21L389.77,415.16L396.35,416.12L391.59,420.76L392.71,427.3L386.84,424.21L380.96,427.3L382.08,420.76L377.32,416.12L383.9,415.16ZM418,409.21L420.94,415.16L427.52,416.12L422.76,420.76L423.88,427.3L418,424.21L412.13,427.3L413.25,420.76L408.49,416.12L415.07,415.16ZM449.17,409.21L452.11,415.16L458.69,416.12L453.93,420.76L455.05,427.3L449.17,424.21L443.3,427.3L444.42,420.76L439.66,416.12L446.24,415.16ZM480.35,409.21L483.28,415.16L489.86,416.12L485.1,420.76L486.22,427.3L480.35,424.21L474.47,427.3L475.59,420.76L470.83,416.12L477.41,415.16ZM511.51,409.21L514.45,415.16L521.03,416.12L516.27,420.76L517.39,427.3L511.51,424.21L505.64,427.3L506.76,420.76L502,416.12L508.58,415.16ZM542.68,409.21L545.62,415.16L552.2,416.12L547.44,420.76L548.56,427.3L542.68,424.21L536.81,427.3L537.93,420.76L533.17,416.12L539.75,415.16ZM573.86,409.21L576.79,415.16L583.37,416.12L578.61,420.76L579.73,427.3L573.86,424.21L567.98,427.3L569.1,420.76L564.34,416.12L570.92,415.16ZM605.02,409.21L607.96,415.16L614.54,416.12L609.78,420.76L610.9,427.3L605.02,424.21L599.15,427.3L600.27,420.76L595.51,416.12L602.09,415.16ZM636.2,409.21L639.13,415.16L645.71,416.12L640.95,420.76L642.07,427.3L636.2,424.21L630.32,427.3L631.44,420.76L626.68,416.12L633.26,415.16ZM667.37,409.21L670.3,415.16L676.88,416.12L672.12,420.76L673.24,427.3L667.37,424.21L661.49,427.3L662.61,420.76L657.85,416.12L664.43,415.16ZM698.54,409.21L701.47,415.16L708.05,416.12L703.29,420.76L704.41,427.3L698.54,424.21L692.66,427.3L693.78,420.76L689.02,416.12L695.6,415.16ZM729.71,409.21L732.64,415.16L739.22,416.12L734.46,420.76L735.58,427.3L729.71,424.21L723.83,427.3L724.95,420.76L720.19,416.12L726.77,415.16ZM760.88,409.21L763.81,415.16L770.39,416.12L765.63,420.76L766.75,427.3L760.88,424.21L755,427.3L756.12,420.76L751.36,416.12L757.94,415.16ZM792.05,409.21L794.98,415.16L801.56,416.12L796.8,420.76L797.92,427.3L792.05,424.21L786.17,427.3L787.29,420.76L782.53,416.12L789.11,415.16ZM823.22,409.21L826.15,415.16L832.73,416.12L827.97,420.76L829.09,427.3L823.22,424.21L817.34,427.3L818.46,420.76L813.7,416.12L820.28,415.16ZM854.38,409.21L857.32,415.16L863.9,416.12L859.14,420.76L860.26,427.3L854.38,424.21L848.51,427.3L849.63,420.76L844.87,416.12L851.45,415.16ZM885.56,409.21L888.49,415.16L895.07,416.12L890.31,420.76L891.43,427.3L885.56,424.21L879.68,427.3L880.8,420.76L876.04,416.12L882.62,415.16ZM916.73,409.21L919.66,415.16L926.24,416.12L921.48,420.76L922.6,427.3L916.73,424.21L910.85,427.3L911.97,420.76L907.21,416.12L913.79,415.16ZM947.89,409.21L950.83,415.16L957.41,416.12L952.65,420.76L953.77,427.3L947.89,424.21L942.02,427.3L943.14,420.76L938.38,416.12L944.96,415.16Z" fill="rgb(128,128,128)" fill-opacity="0.35" stroke="rgb(128,128,128)" stroke-opacity="0.37" stroke-width="2.5" stroke-linejoin="miter"/>
<polygon points="192.93,213.49 480.35,249.64 546.82,255.86 588.14,265.53 629.45,276.13 702.21,296.86 782.15,307.45 911.49,314.82 911.49,367.79 821.67,372.39 719.27,375.34 593.53,370.28 543.23,359.04 480.35,338.77 408.5,319.42 318.68,301 282.75,295.93 237.84,290.41 192.93,286.26" fill="none" stroke="rgb(128,128,128)" stroke-opacity="0.37" stroke-width="2.0"/>
<polygon points="192.93,238.31 201.91,240.54 210.89,242.77 219.87,245 228.86,247.22 237.84,249.44 246.82,251.66 255.8,253.87 264.78,256.07 273.77,258.27 282.75,260.46 291.73,262.64 300.71,264.82 309.69,266.98 318.68,269.14 327.66,271.28 336.64,273.42 345.62,275.54 354.6,277.64 363.59,279.73 372.57,281.8 381.55,283.85 390.53,285.88 399.51,287.89 408.5,289.87 417.48,291.82 426.46,293.75 435.44,295.64 444.42,297.5 453.41,299.32 462.39,301.1 471.37,302.85 480.35,304.57 489.33,306.24 498.32,307.88 507.3,309.49 516.28,311.06 525.26,312.61 534.24,314.12 543.23,315.61 552.21,317.07 561.19,318.51 570.17,319.93 579.15,321.32 588.14,322.71 597.12,324.07 606.1,325.42 615.08,326.76 624.06,328.09 633.05,329.41 642.03,330.72 651.01,332.01 659.99,333.31 668.97,334.59 677.96,335.87 686.94,337.14 695.92,338.41 704.9,339.67 713.88,340.92 722.87,342.18 731.85,343.43 740.83,344.67 749.81,345.91 758.79,347.15 767.78,348.39 776.76,349.62 785.74,350.85 794.72,352.08 803.7,353.31 812.69,354.54 821.67,355.76 830.65,356.98 839.63,358.2 848.61,359.42 857.6,360.64 866.58,361.85 875.56,363.07 884.54,364.28 893.52,365.49 902.51,366.71 911.49,367.92 911.49,424.77 902.51,422.51 893.52,420.24 884.54,417.98 875.56,415.71 866.58,413.45 857.6,411.19 848.61,408.93 839.63,406.67 830.65,404.41 821.67,402.16 812.69,399.9 803.7,397.65 794.72,395.4 785.74,393.15 776.76,390.9 767.78,388.66 758.79,386.42 749.81,384.18 740.83,381.95 731.85,379.71 722.87,377.49 713.88,375.26 704.9,373.04 695.92,370.82 686.94,368.61 677.96,366.41 668.97,364.21 659.99,362.01 651.01,359.83 642.03,357.65 633.05,355.48 624.06,353.32 615.08,351.17 606.1,349.03 597.12,346.91 588.14,344.79 579.15,342.7 570.17,340.62 561.19,338.56 552.21,336.52 543.23,334.5 534.24,332.51 525.26,330.55 516.28,328.61 507.3,326.71 498.32,324.84 489.33,323 480.35,321.2 471.37,319.44 462.39,317.71 453.41,316.02 444.42,314.36 435.44,312.74 426.46,311.16 417.48,309.6 408.5,308.08 399.51,306.58 390.53,305.11 381.55,303.66 372.57,302.24 363.59,300.83 354.6,299.44 345.62,298.07 336.64,296.71 327.66,295.37 318.68,294.04 309.69,292.71 300.71,291.4 291.73,290.1 282.75,288.81 273.77,287.52 264.78,286.24 255.8,284.96 246.82,283.7 237.84,282.43 228.86,281.17 219.87,279.92 210.89,278.67 201.91,277.42 192.93,276.18" fill="#1d6ba4" fill-opacity="0.3" stroke="#1d6ba4" stroke-opacity="0.3" stroke-width="2.6"/>
<line x1="192.93" y1="257.24" x2="911.49" y2="396.35" stroke="#1d6ba4" stroke-width="5.19" stroke-dasharray="19.22 8.31"/>
<path d="M192.93,257.24 H282.75 M246.82,294.23 V220.58 M192.93,246.86 V267.63 M282.75,246.86 V267.63 M236.43,294.23 H257.21 M236.43,220.58 H257.21 M282.75,290.87 H372.57 M329.45,324.03 V260.47 M282.75,280.48 V301.26 M372.57,280.48 V301.26 M319.07,324.03 H339.84 M319.07,260.47 H339.84 M372.57,305.61 H462.39 M426.46,332.55 V276.82 M372.57,295.22 V315.99 M462.39,295.22 V315.99 M416.07,332.55 H436.85 M416.07,276.82 H436.85 M462.39,312.06 H552.21 M503.71,338.86 V285.34 M462.39,301.67 V322.44 M552.21,301.67 V322.44 M493.32,338.86 H514.09 M493.32,285.34 H514.09 M552.21,348.9 H642.03 M600.71,377 V319.89 M552.21,338.52 V359.29 M642.03,338.52 V359.29 M590.32,377 H611.1 M590.32,319.89 H611.1 M642.03,356 H821.67 M716.76,406.94 V297.96 M642.03,345.61 V366.38 M821.67,345.61 V366.38 M706.37,406.94 H727.15 M706.37,297.96 H727.15" fill="none" stroke="#1d6ba4" stroke-width="7.79"/>
<circle cx="246.82" cy="257.24" r="12.98" fill="#1d6ba4" stroke="#000" stroke-width="2.6"/>
<circle cx="329.45" cy="290.87" r="12.98" fill="#1d6ba4" stroke="#000" stroke-width="2.6"/>
<circle cx="426.46" cy="305.61" r="12.98" fill="#1d6ba4" stroke="#000" stroke-width="2.6"/>
<circle cx="503.71" cy="312.06" r="12.98" fill="#1d6ba4" stroke="#000" stroke-width="2.6"/>
<circle cx="600.71" cy="348.9" r="12.98" fill="#1d6ba4" stroke="#000" stroke-width="2.6"/>
<circle cx="716.76" cy="356" r="12.98" fill="#1d6ba4" stroke="#000" stroke-width="2.6"/>
</g>
<rect x="174.2" y="418.6" width="359.7" height="171.3" rx="5.2" ry="5.2" fill="#fff" fill-opacity="0.8" stroke="#cacaca" stroke-opacity="0.85" stroke-width="2.2"/>
<rect x="189.8" y="435.9" width="72.5" height="25.2" fill="none" stroke="rgb(128,128,128)" stroke-opacity="0.37" stroke-width="2.2"/>
<text x="291.39" y="461.5" font-size="36.36">Aird+15</text>
<clipPath id="c0h1"><rect x="189.8" y="489.3" width="72.5" height="25.2"/></clipPath>
<path clip-path="url(#c0h1)" d="M187.8,462.39 L264.3,385.89 M187.8,477.98 L264.3,401.48 M187.8,493.56 L264.3,417.06 M187.8,509.15 L264.3,432.65 M187.8,524.73 L264.3,448.23 M187.8,540.32 L264.3,463.82 M187.8,555.9 L264.3,479.4 M187.8,571.49 L264.3,494.99 M187.8,587.07 L264.3,510.57 M187.8,602.66 L264.3,526.16 M187.8,618.24 L264.3,541.74" fill="none" stroke="rgb(128,128,128)" stroke-opacity="0.37" stroke-width="2.0"/>
<rect x="189.8" y="489.3" width="72.5" height="25.2" fill="none" stroke="rgb(128,128,128)" stroke-opacity="0.37" stroke-width="2.2"/>
<text x="291.39" y="515" font-size="36.36">Buchner+15</text>
<clipPath id="c0h2"><rect x="189.8" y="542.7" width="72.5" height="25.2"/></clipPath>
<path clip-path="url(#c0h2)" d="M137.47,471.55L140.41,477.5L146.99,478.46L142.23,483.1L143.35,489.64L137.47,486.55L131.6,489.64L132.72,483.1L127.96,478.46L134.54,477.5ZM168.64,471.55L171.58,477.5L178.16,478.46L173.4,483.1L174.52,489.64L168.64,486.55L162.77,489.64L163.89,483.1L159.13,478.46L165.71,477.5ZM199.81,471.55L202.75,477.5L209.33,478.46L204.57,483.1L205.69,489.64L199.81,486.55L193.94,489.64L195.06,483.1L190.3,478.46L196.88,477.5ZM230.99,471.55L233.92,477.5L240.5,478.46L235.74,483.1L236.86,489.64L230.99,486.55L225.11,489.64L226.23,483.1L221.47,478.46L228.05,477.5ZM262.15,471.55L265.09,477.5L271.67,478.46L266.91,483.1L268.03,489.64L262.15,486.55L256.28,489.64L257.4,483.1L252.64,478.46L259.22,477.5ZM293.33,471.55L296.26,477.5L302.84,478.46L298.08,483.1L299.2,489.64L293.33,486.55L287.45,489.64L288.57,483.1L283.81,478.46L290.39,477.5ZM324.5,471.55L327.43,477.5L334.01,478.46L329.25,483.1L330.37,489.64L324.5,486.55L318.62,489.64L319.74,483.1L314.98,478.46L321.56,477.5ZM153.06,502.72L156,508.67L162.57,509.63L157.82,514.27L158.94,520.81L153.06,517.72L147.18,520.81L148.3,514.27L143.55,509.63L150.12,508.67ZM184.23,502.72L187.17,508.67L193.74,509.63L188.99,514.27L190.11,520.81L184.23,517.72L178.35,520.81L179.47,514.27L174.72,509.63L181.29,508.67ZM215.4,502.72L218.34,508.67L224.91,509.63L220.16,514.27L221.28,520.81L215.4,517.72L209.52,520.81L210.64,514.27L205.89,509.63L212.46,508.67ZM246.57,502.72L249.51,508.67L256.08,509.63L251.33,514.27L252.45,520.81L246.57,517.72L240.69,520.81L241.81,514.27L237.06,509.63L243.63,508.67ZM277.74,502.72L280.68,508.67L287.25,509.63L282.5,514.27L283.62,520.81L277.74,517.72L271.86,520.81L272.98,514.27L268.23,509.63L274.8,508.67ZM308.91,502.72L311.85,508.67L318.42,509.63L313.67,514.27L314.79,520.81L308.91,517.72L303.03,520.81L304.15,514.27L299.4,509.63L305.97,508.67ZM137.47,533.89L140.41,539.84L146.99,540.8L142.23,545.44L143.35,551.98L137.47,548.89L131.6,551.98L132.72,545.44L127.96,540.8L134.54,539.84ZM168.64,533.89L171.58,539.84L178.16,540.8L173.4,545.44L174.52,551.98L168.64,548.89L162.77,551.98L163.89,545.44L159.13,540.8L165.71,539.84ZM199.81,533.89L202.75,539.84L209.33,540.8L204.57,545.44L205.69,551.98L199.81,548.89L193.94,551.98L195.06,545.44L190.3,540.8L196.88,539.84ZM230.99,533.89L233.92,539.84L240.5,540.8L235.74,545.44L236.86,551.98L230.99,548.89L225.11,551.98L226.23,545.44L221.47,540.8L228.05,539.84ZM262.15,533.89L265.09,539.84L271.67,540.8L266.91,545.44L268.03,551.98L262.15,548.89L256.28,551.98L257.4,545.44L252.64,540.8L259.22,539.84ZM293.33,533.89L296.26,539.84L302.84,540.8L298.08,545.44L299.2,551.98L293.33,548.89L287.45,551.98L288.57,545.44L283.81,540.8L290.39,539.84ZM324.5,533.89L327.43,539.84L334.01,540.8L329.25,545.44L330.37,551.98L324.5,548.89L318.62,551.98L319.74,545.44L314.98,540.8L321.56,539.84ZM153.06,565.06L156,571.01L162.57,571.97L157.82,576.61L158.94,583.15L153.06,580.06L147.18,583.15L148.3,576.61L143.55,571.97L150.12,571.01ZM184.23,565.06L187.17,571.01L193.74,571.97L188.99,576.61L190.11,583.15L184.23,580.06L178.35,583.15L179.47,576.61L174.72,571.97L181.29,571.01ZM215.4,565.06L218.34,571.01L224.91,571.97L220.16,576.61L221.28,583.15L215.4,580.06L209.52,583.15L210.64,576.61L205.89,571.97L212.46,571.01ZM246.57,565.06L249.51,571.01L256.08,571.97L251.33,576.61L252.45,583.15L246.57,580.06L240.69,583.15L241.81,576.61L237.06,571.97L243.63,571.01ZM277.74,565.06L280.68,571.01L287.25,571.97L282.5,576.61L283.62,583.15L277.74,580.06L271.86,583.15L272.98,576.61L268.23,571.97L274.8,571.01ZM308.91,565.06L311.85,571.01L318.42,571.97L313.67,576.61L314.79,583.15L308.91,580.06L303.03,583.15L304.15,576.61L299.4,571.97L305.97,571.01ZM137.47,596.23L140.41,602.18L146.99,603.14L142.23,607.78L143.35,614.32L137.47,611.23L131.6,614.32L132.72,607.78L127.96,603.14L134.54,602.18ZM168.64,596.23L171.58,602.18L178.16,603.14L173.4,607.78L174.52,614.32L168.64,611.23L162.77,614.32L163.89,607.78L159.13,603.14L165.71,602.18ZM199.81,596.23L202.75,602.18L209.33,603.14L204.57,607.78L205.69,614.32L199.81,611.23L193.94,614.32L195.06,607.78L190.3,603.14L196.88,602.18ZM230.99,596.23L233.92,602.18L240.5,603.14L235.74,607.78L236.86,614.32L230.99,611.23L225.11,614.32L226.23,607.78L221.47,603.14L228.05,602.18ZM262.15,596.23L265.09,602.18L271.67,603.14L266.91,607.78L268.03,614.32L262.15,611.23L256.28,614.32L257.4,607.78L252.64,603.14L259.22,602.18ZM293.33,596.23L296.26,602.18L302.84,603.14L298.08,607.78L299.2,614.32L293.33,611.23L287.45,614.32L288.57,607.78L283.81,603.14L290.39,602.18ZM324.5,596.23L327.43,602.18L334.01,603.14L329.25,607.78L330.37,614.32L324.5,611.23L318.62,614.32L319.74,607.78L314.98,603.14L321.56,602.18Z" fill="rgb(128,128,128)" fill-opacity="0.35" stroke="rgb(128,128,128)" stroke-opacity="0.37" stroke-width="2.0"/>
<rect x="189.8" y="542.7" width="72.5" height="25.2" fill="none" stroke="rgb(128,128,128)" stroke-opacity="0.37" stroke-width="2.2"/>
<text x="291.39" y="568.5" font-size="36.36">Ananna+19</text>
<path d="M192.93,607.3 v-9.09 M192.93,54.5 v9.09 M372.57,607.3 v-9.09 M372.57,54.5 v9.09 M552.21,607.3 v-9.09 M552.21,54.5 v9.09 M731.85,607.3 v-9.09 M731.85,54.5 v9.09 M911.49,607.3 v-9.09 M911.49,54.5 v9.09 M157,561.24 h9.09 M947.6,561.24 h-9.09 M157,446.09 h9.09 M947.6,446.09 h-9.09 M157,330.94 h9.09 M947.6,330.94 h-9.09 M157,215.79 h9.09 M947.6,215.79 h-9.09 M157,100.64 h9.09 M947.6,100.64 h-9.09" fill="none" stroke="#000" stroke-width="2.08"/>
<rect x="157" y="54.5" width="790.6" height="552.8" fill="none" stroke="#000" stroke-width="2.08"/>
<text transform="translate(192.93,649.9) scale(1,1.04)" font-size="41.55" text-anchor="middle">42</text>
<text transform="translate(372.57,649.9) scale(1,1.04)" font-size="41.55" text-anchor="middle">43</text>
<text transform="translate(552.21,649.9) scale(1,1.04)" font-size="41.55" text-anchor="middle">44</text>
<text transform="translate(731.85,649.9) scale(1,1.04)" font-size="41.55" text-anchor="middle">45</text>
<text transform="translate(911.49,649.9) scale(1,1.04)" font-size="41.55" text-anchor="middle">46</text>
<text transform="translate(147.41,577.24) scale(1,1.04)" font-size="41.55" text-anchor="end">0.00</text>
<text transform="translate(147.41,462.09) scale(1,1.04)" font-size="41.55" text-anchor="end">0.25</text>
<text transform="translate(147.41,346.94) scale(1,1.04)" font-size="41.55" text-anchor="end">0.50</text>
<text transform="translate(147.41,231.79) scale(1,1.04)" font-size="41.55" text-anchor="end">0.75</text>
<text transform="translate(147.41,116.64) scale(1,1.04)" font-size="41.55" text-anchor="end">1.00</text>
<text transform="translate(552.3,39.3) scale(1,1.05)" font-size="49.56" text-anchor="middle">0&lt;z&lt;1</text>
<text transform="translate(33.3,330.9) rotate(-90)" font-size="41.55" text-anchor="middle"><tspan font-style="italic">F</tspan><tspan font-style="italic" font-size="29.08" dy="6.8">CN</tspan><tspan dy="-6.8" dx="1.3">(</tspan><tspan font-style="italic">L</tspan><tspan font-style="italic" font-size="29.08" dy="6.8">X</tspan><tspan dy="-6.8" dx="1.3">)</tspan></text>
</g>
<g id="panel1">
<clipPath id="c1"><rect x="1106.3" y="54.5" width="790.6" height="552.8"/></clipPath>
<g clip-path="url(#c1)">
<polygon points="1142.23,146.7 1330.85,176.64 1501.51,233.75 1557.2,259.55 1636.24,276.13 1697.32,274.75 1790.73,255.86 1860.79,230.53 1860.79,522.09 1747.61,491.69 1634.44,432.46 1597.44,403.25 1569.77,377 1542.11,349.36 1510.49,319.42 1501.51,305.61 1456.6,271.06 1400.01,243.43 1316.48,222.56 1230.25,212.66 1142.23,202.43" fill="none" stroke="rgb(128,128,128)" stroke-opacity="0.37" stroke-width="2.0" stroke-linejoin="miter"/>
<clipPath id="c1b"><polygon points="1142.23,200.59 1196.12,206.58 1257.2,211.18 1302.11,200.13 1372.17,201.97 1400.01,208.88 1454.8,221.55 1510.49,245.27 1557.2,262.54 1600.31,271.98 1639.83,273.96 1702.7,273.96 1765.58,266.92 1860.79,258.26 1860.79,383.91 1700.91,391.51 1621.87,379.95 1546.42,344.76 1501.51,303.3 1483.54,291.79 1393.72,280.27 1357.8,284.88 1321.87,291.79 1287.74,303.3 1219.47,326.33 1142.23,343.61"/></clipPath>
<path clip-path="url(#c1b)" d="M1140.23,180.12 L1862.79,-542.44 M1140.23,195.71 L1862.79,-526.85 M1140.23,211.29 L1862.79,-511.27 M1140.23,226.88 L1862.79,-495.68 M1140.23,242.46 L1862.79,-480.1 M1140.23,258.05 L1862.79,-464.51 M1140.23,273.63 L1862.79,-448.93 M1140.23,289.22 L1862.79,-433.34 M1140.23,304.8 L1862.79,-417.76 M1140.23,320.39 L1862.79,-402.17 M1140.23,335.97 L1862.79,-386.59 M1140.23,351.56 L1862.79,-371 M1140.23,367.14 L1862.79,-355.42 M1140.23,382.73 L1862.79,-339.83 M1140.23,398.31 L1862.79,-324.25 M1140.23,413.9 L1862.79,-308.66 M1140.23,429.48 L1862.79,-293.08 M1140.23,445.07 L1862.79,-277.49 M1140.23,460.65 L1862.79,-261.91 M1140.23,476.24 L1862.79,-246.32 M1140.23,491.82 L1862.79,-230.74 M1140.23,507.41 L1862.79,-215.15 M1140.23,522.99 L1862.79,-199.57 M1140.23,538.58 L1862.79,-183.98 M1140.23,554.16 L1862.79,-168.4 M1140.23,569.75 L1862.79,-152.81 M1140.23,585.33 L1862.79,-137.23 M1140.23,600.92 L1862.79,-121.64 M1140.23,616.5 L1862.79,-106.06 M1140.23,632.09 L1862.79,-90.47 M1140.23,647.67 L1862.79,-74.89 M1140.23,663.26 L1862.79,-59.3 M1140.23,678.84 L1862.79,-43.72 M1140.23,694.43 L1862.79,-28.13 M1140.23,710.01 L1862.79,-12.55 M1140.23,725.6 L1862.79,3.04 M1140.23,741.18 L1862.79,18.62 M1140.23,756.77 L1862.79,34.21 M1140.23,772.35 L1862.79,49.79 M1140.23,787.94 L1862.79,65.38 M1140.23,803.52 L1862.79,80.96 M1140.23,819.11 L1862.79,96.55 M1140.23,834.69 L1862.79,112.13 M1140.23,850.28 L1862.79,127.72 M1140.23,865.86 L1862.79,143.3 M1140.23,881.45 L1862.79,158.89 M1140.23,897.03 L1862.79,174.47 M1140.23,912.62 L1862.79,190.06 M1140.23,928.2 L1862.79,205.64 M1140.23,943.79 L1862.79,221.23 M1140.23,959.37 L1862.79,236.81 M1140.23,974.96 L1862.79,252.4 M1140.23,990.54 L1862.79,267.98 M1140.23,1006.13 L1862.79,283.57 M1140.23,1021.71 L1862.79,299.15 M1140.23,1037.3 L1862.79,314.74 M1140.23,1052.88 L1862.79,330.32 M1140.23,1068.47 L1862.79,345.91 M1140.23,1084.05 L1862.79,361.49 M1140.23,1099.64 L1862.79,377.08 M1140.23,1115.22 L1862.79,392.66 M1140.23,1130.81 L1862.79,408.25 M1140.23,1146.39 L1862.79,423.83" fill="none" stroke="rgb(128,128,128)" stroke-opacity="0.37" stroke-width="1.75"/>
<polygon points="1142.23,200.59 1196.12,206.58 1257.2,211.18 1302.11,200.13 1372.17,201.97 1400.01,208.88 1454.8,221.55 1510.49,245.27 1557.2,262.54 1600.31,271.98 1639.83,273.96 1702.7,273.96 1765.58,266.92 1860.79,258.26 1860.79,383.91 1700.91,391.51 1621.87,379.95 1546.42,344.76 1501.51,303.3 1483.54,291.79 1393.72,280.27 1357.8,284.88 1321.87,291.79 1287.74,303.3 1219.47,326.33 1142.23,343.61" fill="none" stroke="rgb(128,128,128)" stroke-opacity="0.37" stroke-width="2.0"/>
<clipPath id="c1a"><polygon points="1142.23,205.66 1208.69,212.57 1271.57,222.01 1334.44,232.37 1429.65,252.18 1501.51,266.46 1573.36,275.67 1639.83,277.83 1753,276.59 1860.79,273.36 1860.79,361.8 1772.76,352.36 1699.11,342.69 1605.7,338.31 1501.51,327.35 1429.65,316.75 1366.78,305.75 1287.74,294.69 1142.23,276.59"/></clipPath>
<g clip-path="url(#c1b)"><g clip-path="url(#c1a)"><path d="M1140.23,167.84 L1862.79,-554.72 M1140.23,183.42 L1862.79,-539.14 M1140.23,199.01 L1862.79,-523.55 M1140.23,214.59 L1862.79,-507.97 M1140.23,230.18 L1862.79,-492.38 M1140.23,245.76 L1862.79,-476.8 M1140.23,261.35 L1862.79,-461.21 M1140.23,276.93 L1862.79,-445.63 M1140.23,292.52 L1862.79,-430.04 M1140.23,308.1 L1862.79,-414.46 M1140.23,323.69 L1862.79,-398.87 M1140.23,339.27 L1862.79,-383.29 M1140.23,354.86 L1862.79,-367.7 M1140.23,370.44 L1862.79,-352.12 M1140.23,386.03 L1862.79,-336.53 M1140.23,401.61 L1862.79,-320.95 M1140.23,417.2 L1862.79,-305.36 M1140.23,432.78 L1862.79,-289.78 M1140.23,448.37 L1862.79,-274.19 M1140.23,463.95 L1862.79,-258.61 M1140.23,479.54 L1862.79,-243.02 M1140.23,495.12 L1862.79,-227.44 M1140.23,510.71 L1862.79,-211.85 M1140.23,526.29 L1862.79,-196.27 M1140.23,541.88 L1862.79,-180.68 M1140.23,557.46 L1862.79,-165.1 M1140.23,573.05 L1862.79,-149.51 M1140.23,588.63 L1862.79,-133.93 M1140.23,604.22 L1862.79,-118.34 M1140.23,619.8 L1862.79,-102.76 M1140.23,635.39 L1862.79,-87.17 M1140.23,650.97 L1862.79,-71.59 M1140.23,666.56 L1862.79,-56 M1140.23,682.14 L1862.79,-40.42 M1140.23,697.73 L1862.79,-24.83 M1140.23,713.31 L1862.79,-9.25 M1140.23,728.9 L1862.79,6.34 M1140.23,744.48 L1862.79,21.92 M1140.23,760.07 L1862.79,37.51 M1140.23,775.65 L1862.79,53.09 M1140.23,791.24 L1862.79,68.68 M1140.23,806.82 L1862.79,84.26 M1140.23,822.41 L1862.79,99.85 M1140.23,837.99 L1862.79,115.43 M1140.23,853.58 L1862.79,131.02 M1140.23,869.16 L1862.79,146.6 M1140.23,884.75 L1862.79,162.19 M1140.23,900.33 L1862.79,177.77 M1140.23,915.92 L1862.79,193.36 M1140.23,931.5 L1862.79,208.94 M1140.23,947.09 L1862.79,224.53 M1140.23,962.67 L1862.79,240.11 M1140.23,978.26 L1862.79,255.7 M1140.23,993.84 L1862.79,271.28 M1140.23,1009.43 L1862.79,286.87 M1140.23,1025.01 L1862.79,302.45 M1140.23,1040.6 L1862.79,318.04 M1140.23,1056.18 L1862.79,333.62 M1140.23,1071.77 L1862.79,349.21 M1140.23,1087.35 L1862.79,364.79 M1140.23,1102.94 L1862.79,380.38 M1140.23,1118.52 L1862.79,395.96 M1140.23,1134.11 L1862.79,411.55" fill="none" stroke="rgb(128,128,128)" stroke-opacity="0.37" stroke-width="1.75"/></g></g>
<path clip-path="url(#c1a)" d="M1103.75,159.85L1106.68,165.8L1113.26,166.76L1108.5,171.4L1109.62,177.94L1103.75,174.85L1097.87,177.94L1098.99,171.4L1094.23,166.76L1100.81,165.8ZM1134.91,159.85L1137.85,165.8L1144.43,166.76L1139.67,171.4L1140.79,177.94L1134.91,174.85L1129.04,177.94L1130.16,171.4L1125.4,166.76L1131.98,165.8ZM1166.09,159.85L1169.02,165.8L1175.6,166.76L1170.84,171.4L1171.96,177.94L1166.09,174.85L1160.21,177.94L1161.33,171.4L1156.57,166.76L1163.15,165.8ZM1197.26,159.85L1200.19,165.8L1206.77,166.76L1202.01,171.4L1203.13,177.94L1197.26,174.85L1191.38,177.94L1192.5,171.4L1187.74,166.76L1194.32,165.8ZM1228.42,159.85L1231.36,165.8L1237.94,166.76L1233.18,171.4L1234.3,177.94L1228.42,174.85L1222.55,177.94L1223.67,171.4L1218.91,166.76L1225.49,165.8ZM1259.6,159.85L1262.53,165.8L1269.11,166.76L1264.35,171.4L1265.47,177.94L1259.6,174.85L1253.72,177.94L1254.84,171.4L1250.08,166.76L1256.66,165.8ZM1290.77,159.85L1293.7,165.8L1300.28,166.76L1295.52,171.4L1296.64,177.94L1290.77,174.85L1284.89,177.94L1286.01,171.4L1281.25,166.76L1287.83,165.8ZM1321.93,159.85L1324.87,165.8L1331.45,166.76L1326.69,171.4L1327.81,177.94L1321.93,174.85L1316.06,177.94L1317.18,171.4L1312.42,166.76L1319,165.8ZM1353.11,159.85L1356.04,165.8L1362.62,166.76L1357.86,171.4L1358.98,177.94L1353.11,174.85L1347.23,177.94L1348.35,171.4L1343.59,166.76L1350.17,165.8ZM1384.28,159.85L1387.21,165.8L1393.79,166.76L1389.03,171.4L1390.15,177.94L1384.28,174.85L1378.4,177.94L1379.52,171.4L1374.76,166.76L1381.34,165.8ZM1415.45,159.85L1418.38,165.8L1424.96,166.76L1420.2,171.4L1421.32,177.94L1415.45,174.85L1409.57,177.94L1410.69,171.4L1405.93,166.76L1412.51,165.8ZM1446.62,159.85L1449.55,165.8L1456.13,166.76L1451.37,171.4L1452.49,177.94L1446.62,174.85L1440.74,177.94L1441.86,171.4L1437.1,166.76L1443.68,165.8ZM1477.79,159.85L1480.72,165.8L1487.3,166.76L1482.54,171.4L1483.66,177.94L1477.79,174.85L1471.91,177.94L1473.03,171.4L1468.27,166.76L1474.85,165.8ZM1508.95,159.85L1511.89,165.8L1518.47,166.76L1513.71,171.4L1514.83,177.94L1508.95,174.85L1503.08,177.94L1504.2,171.4L1499.44,166.76L1506.02,165.8ZM1540.12,159.85L1543.06,165.8L1549.64,166.76L1544.88,171.4L1546,177.94L1540.12,174.85L1534.25,177.94L1535.37,171.4L1530.61,166.76L1537.19,165.8ZM1571.3,159.85L1574.23,165.8L1580.81,166.76L1576.05,171.4L1577.17,177.94L1571.3,174.85L1565.42,177.94L1566.54,171.4L1561.78,166.76L1568.36,165.8ZM1602.47,159.85L1605.4,165.8L1611.98,166.76L1607.22,171.4L1608.34,177.94L1602.47,174.85L1596.59,177.94L1597.71,171.4L1592.95,166.76L1599.53,165.8ZM1633.63,159.85L1636.57,165.8L1643.15,166.76L1638.39,171.4L1639.51,177.94L1633.63,174.85L1627.76,177.94L1628.88,171.4L1624.12,166.76L1630.7,165.8ZM1664.81,159.85L1667.74,165.8L1674.32,166.76L1669.56,171.4L1670.68,177.94L1664.81,174.85L1658.93,177.94L1660.05,171.4L1655.29,166.76L1661.87,165.8ZM1695.97,159.85L1698.91,165.8L1705.49,166.76L1700.73,171.4L1701.85,177.94L1695.97,174.85L1690.1,177.94L1691.22,171.4L1686.46,166.76L1693.04,165.8ZM1727.14,159.85L1730.08,165.8L1736.66,166.76L1731.9,171.4L1733.02,177.94L1727.14,174.85L1721.27,177.94L1722.39,171.4L1717.63,166.76L1724.21,165.8ZM1758.32,159.85L1761.25,165.8L1767.83,166.76L1763.07,171.4L1764.19,177.94L1758.32,174.85L1752.44,177.94L1753.56,171.4L1748.8,166.76L1755.38,165.8ZM1789.49,159.85L1792.42,165.8L1799,166.76L1794.24,171.4L1795.36,177.94L1789.49,174.85L1783.61,177.94L1784.73,171.4L1779.97,166.76L1786.55,165.8ZM1820.66,159.85L1823.59,165.8L1830.17,166.76L1825.41,171.4L1826.53,177.94L1820.66,174.85L1814.78,177.94L1815.9,171.4L1811.14,166.76L1817.72,165.8ZM1851.83,159.85L1854.76,165.8L1861.34,166.76L1856.58,171.4L1857.7,177.94L1851.83,174.85L1845.95,177.94L1847.07,171.4L1842.31,166.76L1848.89,165.8ZM1883,159.85L1885.93,165.8L1892.51,166.76L1887.75,171.4L1888.87,177.94L1883,174.85L1877.12,177.94L1878.24,171.4L1873.48,166.76L1880.06,165.8ZM1914.16,159.85L1917.1,165.8L1923.68,166.76L1918.92,171.4L1920.04,177.94L1914.16,174.85L1908.29,177.94L1909.41,171.4L1904.65,166.76L1911.23,165.8ZM1088.16,191.02L1091.1,196.97L1097.67,197.93L1092.92,202.57L1094.04,209.11L1088.16,206.02L1082.28,209.11L1083.4,202.57L1078.65,197.93L1085.22,196.97ZM1119.33,191.02L1122.27,196.97L1128.84,197.93L1124.09,202.57L1125.21,209.11L1119.33,206.02L1113.45,209.11L1114.57,202.57L1109.82,197.93L1116.39,196.97ZM1150.5,191.02L1153.44,196.97L1160.01,197.93L1155.26,202.57L1156.38,209.11L1150.5,206.02L1144.62,209.11L1145.74,202.57L1140.99,197.93L1147.56,196.97ZM1181.67,191.02L1184.61,196.97L1191.18,197.93L1186.43,202.57L1187.55,209.11L1181.67,206.02L1175.79,209.11L1176.91,202.57L1172.16,197.93L1178.73,196.97ZM1212.84,191.02L1215.78,196.97L1222.35,197.93L1217.6,202.57L1218.72,209.11L1212.84,206.02L1206.96,209.11L1208.08,202.57L1203.33,197.93L1209.9,196.97ZM1244.01,191.02L1246.95,196.97L1253.52,197.93L1248.77,202.57L1249.89,209.11L1244.01,206.02L1238.13,209.11L1239.25,202.57L1234.5,197.93L1241.07,196.97ZM1275.18,191.02L1278.12,196.97L1284.69,197.93L1279.94,202.57L1281.06,209.11L1275.18,206.02L1269.3,209.11L1270.42,202.57L1265.67,197.93L1272.24,196.97ZM1306.35,191.02L1309.29,196.97L1315.86,197.93L1311.11,202.57L1312.23,209.11L1306.35,206.02L1300.47,209.11L1301.59,202.57L1296.84,197.93L1303.41,196.97ZM1337.52,191.02L1340.46,196.97L1347.03,197.93L1342.28,202.57L1343.4,209.11L1337.52,206.02L1331.64,209.11L1332.76,202.57L1328.01,197.93L1334.58,196.97ZM1368.69,191.02L1371.63,196.97L1378.2,197.93L1373.45,202.57L1374.57,209.11L1368.69,206.02L1362.81,209.11L1363.93,202.57L1359.18,197.93L1365.75,196.97ZM1399.86,191.02L1402.8,196.97L1409.37,197.93L1404.62,202.57L1405.74,209.11L1399.86,206.02L1393.98,209.11L1395.1,202.57L1390.35,197.93L1396.92,196.97ZM1431.03,191.02L1433.97,196.97L1440.54,197.93L1435.79,202.57L1436.91,209.11L1431.03,206.02L1425.15,209.11L1426.27,202.57L1421.52,197.93L1428.09,196.97ZM1462.2,191.02L1465.14,196.97L1471.71,197.93L1466.96,202.57L1468.08,209.11L1462.2,206.02L1456.32,209.11L1457.44,202.57L1452.69,197.93L1459.26,196.97ZM1493.37,191.02L1496.31,196.97L1502.88,197.93L1498.13,202.57L1499.25,209.11L1493.37,206.02L1487.49,209.11L1488.61,202.57L1483.86,197.93L1490.43,196.97ZM1524.54,191.02L1527.48,196.97L1534.05,197.93L1529.3,202.57L1530.42,209.11L1524.54,206.02L1518.66,209.11L1519.78,202.57L1515.03,197.93L1521.6,196.97ZM1555.71,191.02L1558.65,196.97L1565.22,197.93L1560.47,202.57L1561.59,209.11L1555.71,206.02L1549.83,209.11L1550.95,202.57L1546.2,197.93L1552.77,196.97ZM1586.88,191.02L1589.82,196.97L1596.39,197.93L1591.64,202.57L1592.76,209.11L1586.88,206.02L1581,209.11L1582.12,202.57L1577.37,197.93L1583.94,196.97ZM1618.05,191.02L1620.99,196.97L1627.56,197.93L1622.81,202.57L1623.93,209.11L1618.05,206.02L1612.17,209.11L1613.29,202.57L1608.54,197.93L1615.11,196.97ZM1649.22,191.02L1652.16,196.97L1658.73,197.93L1653.98,202.57L1655.1,209.11L1649.22,206.02L1643.34,209.11L1644.46,202.57L1639.71,197.93L1646.28,196.97ZM1680.39,191.02L1683.33,196.97L1689.9,197.93L1685.15,202.57L1686.27,209.11L1680.39,206.02L1674.51,209.11L1675.63,202.57L1670.88,197.93L1677.45,196.97ZM1711.56,191.02L1714.5,196.97L1721.07,197.93L1716.32,202.57L1717.44,209.11L1711.56,206.02L1705.68,209.11L1706.8,202.57L1702.05,197.93L1708.62,196.97ZM1742.73,191.02L1745.67,196.97L1752.24,197.93L1747.49,202.57L1748.61,209.11L1742.73,206.02L1736.85,209.11L1737.97,202.57L1733.22,197.93L1739.79,196.97ZM1773.9,191.02L1776.84,196.97L1783.41,197.93L1778.66,202.57L1779.78,209.11L1773.9,206.02L1768.02,209.11L1769.14,202.57L1764.39,197.93L1770.96,196.97ZM1805.07,191.02L1808.01,196.97L1814.58,197.93L1809.83,202.57L1810.95,209.11L1805.07,206.02L1799.19,209.11L1800.31,202.57L1795.56,197.93L1802.13,196.97ZM1836.24,191.02L1839.18,196.97L1845.75,197.93L1841,202.57L1842.12,209.11L1836.24,206.02L1830.36,209.11L1831.48,202.57L1826.73,197.93L1833.3,196.97ZM1867.41,191.02L1870.35,196.97L1876.92,197.93L1872.17,202.57L1873.29,209.11L1867.41,206.02L1861.53,209.11L1862.65,202.57L1857.9,197.93L1864.47,196.97ZM1898.58,191.02L1901.52,196.97L1908.09,197.93L1903.34,202.57L1904.46,209.11L1898.58,206.02L1892.7,209.11L1893.82,202.57L1889.07,197.93L1895.64,196.97ZM1103.75,222.19L1106.68,228.14L1113.26,229.1L1108.5,233.74L1109.62,240.28L1103.75,237.19L1097.87,240.28L1098.99,233.74L1094.23,229.1L1100.81,228.14ZM1134.91,222.19L1137.85,228.14L1144.43,229.1L1139.67,233.74L1140.79,240.28L1134.91,237.19L1129.04,240.28L1130.16,233.74L1125.4,229.1L1131.98,228.14ZM1166.09,222.19L1169.02,228.14L1175.6,229.1L1170.84,233.74L1171.96,240.28L1166.09,237.19L1160.21,240.28L1161.33,233.74L1156.57,229.1L1163.15,228.14ZM1197.26,222.19L1200.19,228.14L1206.77,229.1L1202.01,233.74L1203.13,240.28L1197.26,237.19L1191.38,240.28L1192.5,233.74L1187.74,229.1L1194.32,228.14ZM1228.42,222.19L1231.36,228.14L1237.94,229.1L1233.18,233.74L1234.3,240.28L1228.42,237.19L1222.55,240.28L1223.67,233.74L1218.91,229.1L1225.49,228.14ZM1259.6,222.19L1262.53,228.14L1269.11,229.1L1264.35,233.74L1265.47,240.28L1259.6,237.19L1253.72,240.28L1254.84,233.74L1250.08,229.1L1256.66,228.14ZM1290.77,222.19L1293.7,228.14L1300.28,229.1L1295.52,233.74L1296.64,240.28L1290.77,237.19L1284.89,240.28L1286.01,233.74L1281.25,229.1L1287.83,228.14ZM1321.93,222.19L1324.87,228.14L1331.45,229.1L1326.69,233.74L1327.81,240.28L1321.93,237.19L1316.06,240.28L1317.18,233.74L1312.42,229.1L1319,228.14ZM1353.11,222.19L1356.04,228.14L1362.62,229.1L1357.86,233.74L1358.98,240.28L1353.11,237.19L1347.23,240.28L1348.35,233.74L1343.59,229.1L1350.17,228.14ZM1384.28,222.19L1387.21,228.14L1393.79,229.1L1389.03,233.74L1390.15,240.28L1384.28,237.19L1378.4,240.28L1379.52,233.74L1374.76,229.1L1381.34,228.14ZM1415.45,222.19L1418.38,228.14L1424.96,229.1L1420.2,233.74L1421.32,240.28L1415.45,237.19L1409.57,240.28L1410.69,233.74L1405.93,229.1L1412.51,228.14ZM1446.62,222.19L1449.55,228.14L1456.13,229.1L1451.37,233.74L1452.49,240.28L1446.62,237.19L1440.74,240.28L1441.86,233.74L1437.1,229.1L1443.68,228.14ZM1477.79,222.19L1480.72,228.14L1487.3,229.1L1482.54,233.74L1483.66,240.28L1477.79,237.19L1471.91,240.28L1473.03,233.74L1468.27,229.1L1474.85,228.14ZM1508.95,222.19L1511.89,228.14L1518.47,229.1L1513.71,233.74L1514.83,240.28L1508.95,237.19L1503.08,240.28L1504.2,233.74L1499.44,229.1L1506.02,228.14ZM1540.12,222.19L1543.06,228.14L1549.64,229.1L1544.88,233.74L1546,240.28L1540.12,237.19L1534.25,240.28L1535.37,233.74L1530.61,229.1L1537.19,228.14ZM1571.3,222.19L1574.23,228.14L1580.81,229.1L1576.05,233.74L1577.17,240.28L1571.3,237.19L1565.42,240.28L1566.54,233.74L1561.78,229.1L1568.36,228.14ZM1602.47,222.19L1605.4,228.14L1611.98,229.1L1607.22,233.74L1608.34,240.28L1602.47,237.19L1596.59,240.28L1597.71,233.74L1592.95,229.1L1599.53,228.14ZM1633.63,222.19L1636.57,228.14L1643.15,229.1L1638.39,233.74L1639.51,240.28L1633.63,237.19L1627.76,240.28L1628.88,233.74L1624.12,229.1L1630.7,228.14ZM1664.81,222.19L1667.74,228.14L1674.32,229.1L1669.56,233.74L1670.68,240.28L1664.81,237.19L1658.93,240.28L1660.05,233.74L1655.29,229.1L1661.87,228.14ZM1695.97,222.19L1698.91,228.14L1705.49,229.1L1700.73,233.74L1701.85,240.28L1695.97,237.19L1690.1,240.28L1691.22,233.74L1686.46,229.1L1693.04,228.14ZM1727.14,222.19L1730.08,228.14L1736.66,229.1L1731.9,233.74L1733.02,240.28L1727.14,237.19L1721.27,240.28L1722.39,233.74L1717.63,229.1L1724.21,228.14ZM1758.32,222.19L1761.25,228.14L1767.83,229.1L1763.07,233.74L1764.19,240.28L1758.32,237.19L1752.44,240.28L1753.56,233.74L1748.8,229.1L1755.38,228.14ZM1789.49,222.19L1792.42,228.14L1799,229.1L1794.24,233.74L1795.36,240.28L1789.49,237.19L1783.61,240.28L1784.73,233.74L1779.97,229.1L1786.55,228.14ZM1820.66,222.19L1823.59,228.14L1830.17,229.1L1825.41,233.74L1826.53,240.28L1820.66,237.19L1814.78,240.28L1815.9,233.74L1811.14,229.1L1817.72,228.14ZM1851.83,222.19L1854.76,228.14L1861.34,229.1L1856.58,233.74L1857.7,240.28L1851.83,237.19L1845.95,240.28L1847.07,233.74L1842.31,229.1L1848.89,228.14ZM1883,222.19L1885.93,228.14L1892.51,229.1L1887.75,233.74L1888.87,240.28L1883,237.19L1877.12,240.28L1878.24,233.74L1873.48,229.1L1880.06,228.14ZM1914.16,222.19L1917.1,228.14L1923.68,229.1L1918.92,233.74L1920.04,240.28L1914.16,237.19L1908.29,240.28L1909.41,233.74L1904.65,229.1L1911.23,228.14ZM1088.16,253.36L1091.1,259.31L1097.67,260.27L1092.92,264.91L1094.04,271.45L1088.16,268.36L1082.28,271.45L1083.4,264.91L1078.65,260.27L1085.22,259.31ZM1119.33,253.36L1122.27,259.31L1128.84,260.27L1124.09,264.91L1125.21,271.45L1119.33,268.36L1113.45,271.45L1114.57,264.91L1109.82,260.27L1116.39,259.31ZM1150.5,253.36L1153.44,259.31L1160.01,260.27L1155.26,264.91L1156.38,271.45L1150.5,268.36L1144.62,271.45L1145.74,264.91L1140.99,260.27L1147.56,259.31ZM1181.67,253.36L1184.61,259.31L1191.18,260.27L1186.43,264.91L1187.55,271.45L1181.67,268.36L1175.79,271.45L1176.91,264.91L1172.16,260.27L1178.73,259.31ZM1212.84,253.36L1215.78,259.31L1222.35,260.27L1217.6,264.91L1218.72,271.45L1212.84,268.36L1206.96,271.45L1208.08,264.91L1203.33,260.27L1209.9,259.31ZM1244.01,253.36L1246.95,259.31L1253.52,260.27L1248.77,264.91L1249.89,271.45L1244.01,268.36L1238.13,271.45L1239.25,264.91L1234.5,260.27L1241.07,259.31ZM1275.18,253.36L1278.12,259.31L1284.69,260.27L1279.94,264.91L1281.06,271.45L1275.18,268.36L1269.3,271.45L1270.42,264.91L1265.67,260.27L1272.24,259.31ZM1306.35,253.36L1309.29,259.31L1315.86,260.27L1311.11,264.91L1312.23,271.45L1306.35,268.36L1300.47,271.45L1301.59,264.91L1296.84,260.27L1303.41,259.31ZM1337.52,253.36L1340.46,259.31L1347.03,260.27L1342.28,264.91L1343.4,271.45L1337.52,268.36L1331.64,271.45L1332.76,264.91L1328.01,260.27L1334.58,259.31ZM1368.69,253.36L1371.63,259.31L1378.2,260.27L1373.45,264.91L1374.57,271.45L1368.69,268.36L1362.81,271.45L1363.93,264.91L1359.18,260.27L1365.75,259.31ZM1399.86,253.36L1402.8,259.31L1409.37,260.27L1404.62,264.91L1405.74,271.45L1399.86,268.36L1393.98,271.45L1395.1,264.91L1390.35,260.27L1396.92,259.31ZM1431.03,253.36L1433.97,259.31L1440.54,260.27L1435.79,264.91L1436.91,271.45L1431.03,268.36L1425.15,271.45L1426.27,264.91L1421.52,260.27L1428.09,259.31ZM1462.2,253.36L1465.14,259.31L1471.71,260.27L1466.96,264.91L1468.08,271.45L1462.2,268.36L1456.32,271.45L1457.44,264.91L1452.69,260.27L1459.26,259.31ZM1493.37,253.36L1496.31,259.31L1502.88,260.27L1498.13,264.91L1499.25,271.45L1493.37,268.36L1487.49,271.45L1488.61,264.91L1483.86,260.27L1490.43,259.31ZM1524.54,253.36L1527.48,259.31L1534.05,260.27L1529.3,264.91L1530.42,271.45L1524.54,268.36L1518.66,271.45L1519.78,264.91L1515.03,260.27L1521.6,259.31ZM1555.71,253.36L1558.65,259.31L1565.22,260.27L1560.47,264.91L1561.59,271.45L1555.71,268.36L1549.83,271.45L1550.95,264.91L1546.2,260.27L1552.77,259.31ZM1586.88,253.36L1589.82,259.31L1596.39,260.27L1591.64,264.91L1592.76,271.45L1586.88,268.36L1581,271.45L1582.12,264.91L1577.37,260.27L1583.94,259.31ZM1618.05,253.36L1620.99,259.31L1627.56,260.27L1622.81,264.91L1623.93,271.45L1618.05,268.36L1612.17,271.45L1613.29,264.91L1608.54,260.27L1615.11,259.31ZM1649.22,253.36L1652.16,259.31L1658.73,260.27L1653.98,264.91L1655.1,271.45L1649.22,268.36L1643.34,271.45L1644.46,264.91L1639.71,260.27L1646.28,259.31ZM1680.39,253.36L1683.33,259.31L1689.9,260.27L1685.15,264.91L1686.27,271.45L1680.39,268.36L1674.51,271.45L1675.63,264.91L1670.88,260.27L1677.45,259.31ZM1711.56,253.36L1714.5,259.31L1721.07,260.27L1716.32,264.91L1717.44,271.45L1711.56,268.36L1705.68,271.45L1706.8,264.91L1702.05,260.27L1708.62,259.31ZM1742.73,253.36L1745.67,259.31L1752.24,260.27L1747.49,264.91L1748.61,271.45L1742.73,268.36L1736.85,271.45L1737.97,264.91L1733.22,260.27L1739.79,259.31ZM1773.9,253.36L1776.84,259.31L1783.41,260.27L1778.66,264.91L1779.78,271.45L1773.9,268.36L1768.02,271.45L1769.14,264.91L1764.39,260.27L1770.96,259.31ZM1805.07,253.36L1808.01,259.31L1814.58,260.27L1809.83,264.91L1810.95,271.45L1805.07,268.36L1799.19,271.45L1800.31,264.91L1795.56,260.27L1802.13,259.31ZM1836.24,253.36L1839.18,259.31L1845.75,260.27L1841,264.91L1842.12,271.45L1836.24,268.36L1830.36,271.45L1831.48,264.91L1826.73,260.27L1833.3,259.31ZM1867.41,253.36L1870.35,259.31L1876.92,260.27L1872.17,264.91L1873.29,271.45L1867.41,268.36L1861.53,271.45L1862.65,264.91L1857.9,260.27L1864.47,259.31ZM1898.58,253.36L1901.52,259.31L1908.09,260.27L1903.34,264.91L1904.46,271.45L1898.58,268.36L1892.7,271.45L1893.82,264.91L1889.07,260.27L1895.64,259.31ZM1103.75,284.53L1106.68,290.48L1113.26,291.44L1108.5,296.08L1109.62,302.62L1103.75,299.53L1097.87,302.62L1098.99,296.08L1094.23,291.44L1100.81,290.48ZM1134.91,284.53L1137.85,290.48L1144.43,291.44L1139.67,296.08L1140.79,302.62L1134.91,299.53L1129.04,302.62L1130.16,296.08L1125.4,291.44L1131.98,290.48ZM1166.09,284.53L1169.02,290.48L1175.6,291.44L1170.84,296.08L1171.96,302.62L1166.09,299.53L1160.21,302.62L1161.33,296.08L1156.57,291.44L1163.15,290.48ZM1197.26,284.53L1200.19,290.48L1206.77,291.44L1202.01,296.08L1203.13,302.62L1197.26,299.53L1191.38,302.62L1192.5,296.08L1187.74,291.44L1194.32,290.48ZM1228.42,284.53L1231.36,290.48L1237.94,291.44L1233.18,296.08L1234.3,302.62L1228.42,299.53L1222.55,302.62L1223.67,296.08L1218.91,291.44L1225.49,290.48ZM1259.6,284.53L1262.53,290.48L1269.11,291.44L1264.35,296.08L1265.47,302.62L1259.6,299.53L1253.72,302.62L1254.84,296.08L1250.08,291.44L1256.66,290.48ZM1290.77,284.53L1293.7,290.48L1300.28,291.44L1295.52,296.08L1296.64,302.62L1290.77,299.53L1284.89,302.62L1286.01,296.08L1281.25,291.44L1287.83,290.48ZM1321.93,284.53L1324.87,290.48L1331.45,291.44L1326.69,296.08L1327.81,302.62L1321.93,299.53L1316.06,302.62L1317.18,296.08L1312.42,291.44L1319,290.48ZM1353.11,284.53L1356.04,290.48L1362.62,291.44L1357.86,296.08L1358.98,302.62L1353.11,299.53L1347.23,302.62L1348.35,296.08L1343.59,291.44L1350.17,290.48ZM1384.28,284.53L1387.21,290.48L1393.79,291.44L1389.03,296.08L1390.15,302.62L1384.28,299.53L1378.4,302.62L1379.52,296.08L1374.76,291.44L1381.34,290.48ZM1415.45,284.53L1418.38,290.48L1424.96,291.44L1420.2,296.08L1421.32,302.62L1415.45,299.53L1409.57,302.62L1410.69,296.08L1405.93,291.44L1412.51,290.48ZM1446.62,284.53L1449.55,290.48L1456.13,291.44L1451.37,296.08L1452.49,302.62L1446.62,299.53L1440.74,302.62L1441.86,296.08L1437.1,291.44L1443.68,290.48ZM1477.79,284.53L1480.72,290.48L1487.3,291.44L1482.54,296.08L1483.66,302.62L1477.79,299.53L1471.91,302.62L1473.03,296.08L1468.27,291.44L1474.85,290.48ZM1508.95,284.53L1511.89,290.48L1518.47,291.44L1513.71,296.08L1514.83,302.62L1508.95,299.53L1503.08,302.62L1504.2,296.08L1499.44,291.44L1506.02,290.48ZM1540.12,284.53L1543.06,290.48L1549.64,291.44L1544.88,296.08L1546,302.62L1540.12,299.53L1534.25,302.62L1535.37,296.08L1530.61,291.44L1537.19,290.48ZM1571.3,284.53L1574.23,290.48L1580.81,291.44L1576.05,296.08L1577.17,302.62L1571.3,299.53L1565.42,302.62L1566.54,296.08L1561.78,291.44L1568.36,290.48ZM1602.47,284.53L1605.4,290.48L1611.98,291.44L1607.22,296.08L1608.34,302.62L1602.47,299.53L1596.59,302.62L1597.71,296.08L1592.95,291.44L1599.53,290.48ZM1633.63,284.53L1636.57,290.48L1643.15,291.44L1638.39,296.08L1639.51,302.62L1633.63,299.53L1627.76,302.62L1628.88,296.08L1624.12,291.44L1630.7,290.48ZM1664.81,284.53L1667.74,290.48L1674.32,291.44L1669.56,296.08L1670.68,302.62L1664.81,299.53L1658.93,302.62L1660.05,296.08L1655.29,291.44L1661.87,290.48ZM1695.97,284.53L1698.91,290.48L1705.49,291.44L1700.73,296.08L1701.85,302.62L1695.97,299.53L1690.1,302.62L1691.22,296.08L1686.46,291.44L1693.04,290.48ZM1727.14,284.53L1730.08,290.48L1736.66,291.44L1731.9,296.08L1733.02,302.62L1727.14,299.53L1721.27,302.62L1722.39,296.08L1717.63,291.44L1724.21,290.48ZM1758.32,284.53L1761.25,290.48L1767.83,291.44L1763.07,296.08L1764.19,302.62L1758.32,299.53L1752.44,302.62L1753.56,296.08L1748.8,291.44L1755.38,290.48ZM1789.49,284.53L1792.42,290.48L1799,291.44L1794.24,296.08L1795.36,302.62L1789.49,299.53L1783.61,302.62L1784.73,296.08L1779.97,291.44L1786.55,290.48ZM1820.66,284.53L1823.59,290.48L1830.17,291.44L1825.41,296.08L1826.53,302.62L1820.66,299.53L1814.78,302.62L1815.9,296.08L1811.14,291.44L1817.72,290.48ZM1851.83,284.53L1854.76,290.48L1861.34,291.44L1856.58,296.08L1857.7,302.62L1851.83,299.53L1845.95,302.62L1847.07,296.08L1842.31,291.44L1848.89,290.48ZM1883,284.53L1885.93,290.48L1892.51,291.44L1887.75,296.08L1888.87,302.62L1883,299.53L1877.12,302.62L1878.24,296.08L1873.48,291.44L1880.06,290.48ZM1914.16,284.53L1917.1,290.48L1923.68,291.44L1918.92,296.08L1920.04,302.62L1914.16,299.53L1908.29,302.62L1909.41,296.08L1904.65,291.44L1911.23,290.48ZM1088.16,315.7L1091.1,321.65L1097.67,322.61L1092.92,327.25L1094.04,333.79L1088.16,330.7L1082.28,333.79L1083.4,327.25L1078.65,322.61L1085.22,321.65ZM1119.33,315.7L1122.27,321.65L1128.84,322.61L1124.09,327.25L1125.21,333.79L1119.33,330.7L1113.45,333.79L1114.57,327.25L1109.82,322.61L1116.39,321.65ZM1150.5,315.7L1153.44,321.65L1160.01,322.61L1155.26,327.25L1156.38,333.79L1150.5,330.7L1144.62,333.79L1145.74,327.25L1140.99,322.61L1147.56,321.65ZM1181.67,315.7L1184.61,321.65L1191.18,322.61L1186.43,327.25L1187.55,333.79L1181.67,330.7L1175.79,333.79L1176.91,327.25L1172.16,322.61L1178.73,321.65ZM1212.84,315.7L1215.78,321.65L1222.35,322.61L1217.6,327.25L1218.72,333.79L1212.84,330.7L1206.96,333.79L1208.08,327.25L1203.33,322.61L1209.9,321.65ZM1244.01,315.7L1246.95,321.65L1253.52,322.61L1248.77,327.25L1249.89,333.79L1244.01,330.7L1238.13,333.79L1239.25,327.25L1234.5,322.61L1241.07,321.65ZM1275.18,315.7L1278.12,321.65L1284.69,322.61L1279.94,327.25L1281.06,333.79L1275.18,330.7L1269.3,333.79L1270.42,327.25L1265.67,322.61L1272.24,321.65ZM1306.35,315.7L1309.29,321.65L1315.86,322.61L1311.11,327.25L1312.23,333.79L1306.35,330.7L1300.47,333.79L1301.59,327.25L1296.84,322.61L1303.41,321.65ZM1337.52,315.7L1340.46,321.65L1347.03,322.61L1342.28,327.25L1343.4,333.79L1337.52,330.7L1331.64,333.79L1332.76,327.25L1328.01,322.61L1334.58,321.65ZM1368.69,315.7L1371.63,321.65L1378.2,322.61L1373.45,327.25L1374.57,333.79L1368.69,330.7L1362.81,333.79L1363.93,327.25L1359.18,322.61L1365.75,321.65ZM1399.86,315.7L1402.8,321.65L1409.37,322.61L1404.62,327.25L1405.74,333.79L1399.86,330.7L1393.98,333.79L1395.1,327.25L1390.35,322.61L1396.92,321.65ZM1431.03,315.7L1433.97,321.65L1440.54,322.61L1435.79,327.25L1436.91,333.79L1431.03,330.7L1425.15,333.79L1426.27,327.25L1421.52,322.61L1428.09,321.65ZM1462.2,315.7L1465.14,321.65L1471.71,322.61L1466.96,327.25L1468.08,333.79L1462.2,330.7L1456.32,333.79L1457.44,327.25L1452.69,322.61L1459.26,321.65ZM1493.37,315.7L1496.31,321.65L1502.88,322.61L1498.13,327.25L1499.25,333.79L1493.37,330.7L1487.49,333.79L1488.61,327.25L1483.86,322.61L1490.43,321.65ZM1524.54,315.7L1527.48,321.65L1534.05,322.61L1529.3,327.25L1530.42,333.79L1524.54,330.7L1518.66,333.79L1519.78,327.25L1515.03,322.61L1521.6,321.65ZM1555.71,315.7L1558.65,321.65L1565.22,322.61L1560.47,327.25L1561.59,333.79L1555.71,330.7L1549.83,333.79L1550.95,327.25L1546.2,322.61L1552.77,321.65ZM1586.88,315.7L1589.82,321.65L1596.39,322.61L1591.64,327.25L1592.76,333.79L1586.88,330.7L1581,333.79L1582.12,327.25L1577.37,322.61L1583.94,321.65ZM1618.05,315.7L1620.99,321.65L1627.56,322.61L1622.81,327.25L1623.93,333.79L1618.05,330.7L1612.17,333.79L1613.29,327.25L1608.54,322.61L1615.11,321.65ZM1649.22,315.7L1652.16,321.65L1658.73,322.61L1653.98,327.25L1655.1,333.79L1649.22,330.7L1643.34,333.79L1644.46,327.25L1639.71,322.61L1646.28,321.65ZM1680.39,315.7L1683.33,321.65L1689.9,322.61L1685.15,327.25L1686.27,333.79L1680.39,330.7L1674.51,333.79L1675.63,327.25L1670.88,322.61L1677.45,321.65ZM1711.56,315.7L1714.5,321.65L1721.07,322.61L1716.32,327.25L1717.44,333.79L1711.56,330.7L1705.68,333.79L1706.8,327.25L1702.05,322.61L1708.62,321.65ZM1742.73,315.7L1745.67,321.65L1752.24,322.61L1747.49,327.25L1748.61,333.79L1742.73,330.7L1736.85,333.79L1737.97,327.25L1733.22,322.61L1739.79,321.65ZM1773.9,315.7L1776.84,321.65L1783.41,322.61L1778.66,327.25L1779.78,333.79L1773.9,330.7L1768.02,333.79L1769.14,327.25L1764.39,322.61L1770.96,321.65ZM1805.07,315.7L1808.01,321.65L1814.58,322.61L1809.83,327.25L1810.95,333.79L1805.07,330.7L1799.19,333.79L1800.31,327.25L1795.56,322.61L1802.13,321.65ZM1836.24,315.7L1839.18,321.65L1845.75,322.61L1841,327.25L1842.12,333.79L1836.24,330.7L1830.36,333.79L1831.48,327.25L1826.73,322.61L1833.3,321.65ZM1867.41,315.7L1870.35,321.65L1876.92,322.61L1872.17,327.25L1873.29,333.79L1867.41,330.7L1861.53,333.79L1862.65,327.25L1857.9,322.61L1864.47,321.65ZM1898.58,315.7L1901.52,321.65L1908.09,322.61L1903.34,327.25L1904.46,333.79L1898.58,330.7L1892.7,333.79L1893.82,327.25L1889.07,322.61L1895.64,321.65ZM1103.75,346.87L1106.68,352.82L1113.26,353.78L1108.5,358.42L1109.62,364.96L1103.75,361.87L1097.87,364.96L1098.99,358.42L1094.23,353.78L1100.81,352.82ZM1134.91,346.87L1137.85,352.82L1144.43,353.78L1139.67,358.42L1140.79,364.96L1134.91,361.87L1129.04,364.96L1130.16,358.42L1125.4,353.78L1131.98,352.82ZM1166.09,346.87L1169.02,352.82L1175.6,353.78L1170.84,358.42L1171.96,364.96L1166.09,361.87L1160.21,364.96L1161.33,358.42L1156.57,353.78L1163.15,352.82ZM1197.26,346.87L1200.19,352.82L1206.77,353.78L1202.01,358.42L1203.13,364.96L1197.26,361.87L1191.38,364.96L1192.5,358.42L1187.74,353.78L1194.32,352.82ZM1228.42,346.87L1231.36,352.82L1237.94,353.78L1233.18,358.42L1234.3,364.96L1228.42,361.87L1222.55,364.96L1223.67,358.42L1218.91,353.78L1225.49,352.82ZM1259.6,346.87L1262.53,352.82L1269.11,353.78L1264.35,358.42L1265.47,364.96L1259.6,361.87L1253.72,364.96L1254.84,358.42L1250.08,353.78L1256.66,352.82ZM1290.77,346.87L1293.7,352.82L1300.28,353.78L1295.52,358.42L1296.64,364.96L1290.77,361.87L1284.89,364.96L1286.01,358.42L1281.25,353.78L1287.83,352.82ZM1321.93,346.87L1324.87,352.82L1331.45,353.78L1326.69,358.42L1327.81,364.96L1321.93,361.87L1316.06,364.96L1317.18,358.42L1312.42,353.78L1319,352.82ZM1353.11,346.87L1356.04,352.82L1362.62,353.78L1357.86,358.42L1358.98,364.96L1353.11,361.87L1347.23,364.96L1348.35,358.42L1343.59,353.78L1350.17,352.82ZM1384.28,346.87L1387.21,352.82L1393.79,353.78L1389.03,358.42L1390.15,364.96L1384.28,361.87L1378.4,364.96L1379.52,358.42L1374.76,353.78L1381.34,352.82ZM1415.45,346.87L1418.38,352.82L1424.96,353.78L1420.2,358.42L1421.32,364.96L1415.45,361.87L1409.57,364.96L1410.69,358.42L1405.93,353.78L1412.51,352.82ZM1446.62,346.87L1449.55,352.82L1456.13,353.78L1451.37,358.42L1452.49,364.96L1446.62,361.87L1440.74,364.96L1441.86,358.42L1437.1,353.78L1443.68,352.82ZM1477.79,346.87L1480.72,352.82L1487.3,353.78L1482.54,358.42L1483.66,364.96L1477.79,361.87L1471.91,364.96L1473.03,358.42L1468.27,353.78L1474.85,352.82ZM1508.95,346.87L1511.89,352.82L1518.47,353.78L1513.71,358.42L1514.83,364.96L1508.95,361.87L1503.08,364.96L1504.2,358.42L1499.44,353.78L1506.02,352.82ZM1540.12,346.87L1543.06,352.82L1549.64,353.78L1544.88,358.42L1546,364.96L1540.12,361.87L1534.25,364.96L1535.37,358.42L1530.61,353.78L1537.19,352.82ZM1571.3,346.87L1574.23,352.82L1580.81,353.78L1576.05,358.42L1577.17,364.96L1571.3,361.87L1565.42,364.96L1566.54,358.42L1561.78,353.78L1568.36,352.82ZM1602.47,346.87L1605.4,352.82L1611.98,353.78L1607.22,358.42L1608.34,364.96L1602.47,361.87L1596.59,364.96L1597.71,358.42L1592.95,353.78L1599.53,352.82ZM1633.63,346.87L1636.57,352.82L1643.15,353.78L1638.39,358.42L1639.51,364.96L1633.63,361.87L1627.76,364.96L1628.88,358.42L1624.12,353.78L1630.7,352.82ZM1664.81,346.87L1667.74,352.82L1674.32,353.78L1669.56,358.42L1670.68,364.96L1664.81,361.87L1658.93,364.96L1660.05,358.42L1655.29,353.78L1661.87,352.82ZM1695.97,346.87L1698.91,352.82L1705.49,353.78L1700.73,358.42L1701.85,364.96L1695.97,361.87L1690.1,364.96L1691.22,358.42L1686.46,353.78L1693.04,352.82ZM1727.14,346.87L1730.08,352.82L1736.66,353.78L1731.9,358.42L1733.02,364.96L1727.14,361.87L1721.27,364.96L1722.39,358.42L1717.63,353.78L1724.21,352.82ZM1758.32,346.87L1761.25,352.82L1767.83,353.78L1763.07,358.42L1764.19,364.96L1758.32,361.87L1752.44,364.96L1753.56,358.42L1748.8,353.78L1755.38,352.82ZM1789.49,346.87L1792.42,352.82L1799,353.78L1794.24,358.42L1795.36,364.96L1789.49,361.87L1783.61,364.96L1784.73,358.42L1779.97,353.78L1786.55,352.82ZM1820.66,346.87L1823.59,352.82L1830.17,353.78L1825.41,358.42L1826.53,364.96L1820.66,361.87L1814.78,364.96L1815.9,358.42L1811.14,353.78L1817.72,352.82ZM1851.83,346.87L1854.76,352.82L1861.34,353.78L1856.58,358.42L1857.7,364.96L1851.83,361.87L1845.95,364.96L1847.07,358.42L1842.31,353.78L1848.89,352.82ZM1883,346.87L1885.93,352.82L1892.51,353.78L1887.75,358.42L1888.87,364.96L1883,361.87L1877.12,364.96L1878.24,358.42L1873.48,353.78L1880.06,352.82ZM1914.16,346.87L1917.1,352.82L1923.68,353.78L1918.92,358.42L1920.04,364.96L1914.16,361.87L1908.29,364.96L1909.41,358.42L1904.65,353.78L1911.23,352.82ZM1088.16,378.04L1091.1,383.99L1097.67,384.95L1092.92,389.59L1094.04,396.13L1088.16,393.04L1082.28,396.13L1083.4,389.59L1078.65,384.95L1085.22,383.99ZM1119.33,378.04L1122.27,383.99L1128.84,384.95L1124.09,389.59L1125.21,396.13L1119.33,393.04L1113.45,396.13L1114.57,389.59L1109.82,384.95L1116.39,383.99ZM1150.5,378.04L1153.44,383.99L1160.01,384.95L1155.26,389.59L1156.38,396.13L1150.5,393.04L1144.62,396.13L1145.74,389.59L1140.99,384.95L1147.56,383.99ZM1181.67,378.04L1184.61,383.99L1191.18,384.95L1186.43,389.59L1187.55,396.13L1181.67,393.04L1175.79,396.13L1176.91,389.59L1172.16,384.95L1178.73,383.99ZM1212.84,378.04L1215.78,383.99L1222.35,384.95L1217.6,389.59L1218.72,396.13L1212.84,393.04L1206.96,396.13L1208.08,389.59L1203.33,384.95L1209.9,383.99ZM1244.01,378.04L1246.95,383.99L1253.52,384.95L1248.77,389.59L1249.89,396.13L1244.01,393.04L1238.13,396.13L1239.25,389.59L1234.5,384.95L1241.07,383.99ZM1275.18,378.04L1278.12,383.99L1284.69,384.95L1279.94,389.59L1281.06,396.13L1275.18,393.04L1269.3,396.13L1270.42,389.59L1265.67,384.95L1272.24,383.99ZM1306.35,378.04L1309.29,383.99L1315.86,384.95L1311.11,389.59L1312.23,396.13L1306.35,393.04L1300.47,396.13L1301.59,389.59L1296.84,384.95L1303.41,383.99ZM1337.52,378.04L1340.46,383.99L1347.03,384.95L1342.28,389.59L1343.4,396.13L1337.52,393.04L1331.64,396.13L1332.76,389.59L1328.01,384.95L1334.58,383.99ZM1368.69,378.04L1371.63,383.99L1378.2,384.95L1373.45,389.59L1374.57,396.13L1368.69,393.04L1362.81,396.13L1363.93,389.59L1359.18,384.95L1365.75,383.99ZM1399.86,378.04L1402.8,383.99L1409.37,384.95L1404.62,389.59L1405.74,396.13L1399.86,393.04L1393.98,396.13L1395.1,389.59L1390.35,384.95L1396.92,383.99ZM1431.03,378.04L1433.97,383.99L1440.54,384.95L1435.79,389.59L1436.91,396.13L1431.03,393.04L1425.15,396.13L1426.27,389.59L1421.52,384.95L1428.09,383.99ZM1462.2,378.04L1465.14,383.99L1471.71,384.95L1466.96,389.59L1468.08,396.13L1462.2,393.04L1456.32,396.13L1457.44,389.59L1452.69,384.95L1459.26,383.99ZM1493.37,378.04L1496.31,383.99L1502.88,384.95L1498.13,389.59L1499.25,396.13L1493.37,393.04L1487.49,396.13L1488.61,389.59L1483.86,384.95L1490.43,383.99ZM1524.54,378.04L1527.48,383.99L1534.05,384.95L1529.3,389.59L1530.42,396.13L1524.54,393.04L1518.66,396.13L1519.78,389.59L1515.03,384.95L1521.6,383.99ZM1555.71,378.04L1558.65,383.99L1565.22,384.95L1560.47,389.59L1561.59,396.13L1555.71,393.04L1549.83,396.13L1550.95,389.59L1546.2,384.95L1552.77,383.99ZM1586.88,378.04L1589.82,383.99L1596.39,384.95L1591.64,389.59L1592.76,396.13L1586.88,393.04L1581,396.13L1582.12,389.59L1577.37,384.95L1583.94,383.99ZM1618.05,378.04L1620.99,383.99L1627.56,384.95L1622.81,389.59L1623.93,396.13L1618.05,393.04L1612.17,396.13L1613.29,389.59L1608.54,384.95L1615.11,383.99ZM1649.22,378.04L1652.16,383.99L1658.73,384.95L1653.98,389.59L1655.1,396.13L1649.22,393.04L1643.34,396.13L1644.46,389.59L1639.71,384.95L1646.28,383.99ZM1680.39,378.04L1683.33,383.99L1689.9,384.95L1685.15,389.59L1686.27,396.13L1680.39,393.04L1674.51,396.13L1675.63,389.59L1670.88,384.95L1677.45,383.99ZM1711.56,378.04L1714.5,383.99L1721.07,384.95L1716.32,389.59L1717.44,396.13L1711.56,393.04L1705.68,396.13L1706.8,389.59L1702.05,384.95L1708.62,383.99ZM1742.73,378.04L1745.67,383.99L1752.24,384.95L1747.49,389.59L1748.61,396.13L1742.73,393.04L1736.85,396.13L1737.97,389.59L1733.22,384.95L1739.79,383.99ZM1773.9,378.04L1776.84,383.99L1783.41,384.95L1778.66,389.59L1779.78,396.13L1773.9,393.04L1768.02,396.13L1769.14,389.59L1764.39,384.95L1770.96,383.99ZM1805.07,378.04L1808.01,383.99L1814.58,384.95L1809.83,389.59L1810.95,396.13L1805.07,393.04L1799.19,396.13L1800.31,389.59L1795.56,384.95L1802.13,383.99ZM1836.24,378.04L1839.18,383.99L1845.75,384.95L1841,389.59L1842.12,396.13L1836.24,393.04L1830.36,396.13L1831.48,389.59L1826.73,384.95L1833.3,383.99ZM1867.41,378.04L1870.35,383.99L1876.92,384.95L1872.17,389.59L1873.29,396.13L1867.41,393.04L1861.53,396.13L1862.65,389.59L1857.9,384.95L1864.47,383.99ZM1898.58,378.04L1901.52,383.99L1908.09,384.95L1903.34,389.59L1904.46,396.13L1898.58,393.04L1892.7,396.13L1893.82,389.59L1889.07,384.95L1895.64,383.99ZM1103.75,409.21L1106.68,415.16L1113.26,416.12L1108.5,420.76L1109.62,427.3L1103.75,424.21L1097.87,427.3L1098.99,420.76L1094.23,416.12L1100.81,415.16ZM1134.91,409.21L1137.85,415.16L1144.43,416.12L1139.67,420.76L1140.79,427.3L1134.91,424.21L1129.04,427.3L1130.16,420.76L1125.4,416.12L1131.98,415.16ZM1166.09,409.21L1169.02,415.16L1175.6,416.12L1170.84,420.76L1171.96,427.3L1166.09,424.21L1160.21,427.3L1161.33,420.76L1156.57,416.12L1163.15,415.16ZM1197.26,409.21L1200.19,415.16L1206.77,416.12L1202.01,420.76L1203.13,427.3L1197.26,424.21L1191.38,427.3L1192.5,420.76L1187.74,416.12L1194.32,415.16ZM1228.42,409.21L1231.36,415.16L1237.94,416.12L1233.18,420.76L1234.3,427.3L1228.42,424.21L1222.55,427.3L1223.67,420.76L1218.91,416.12L1225.49,415.16ZM1259.6,409.21L1262.53,415.16L1269.11,416.12L1264.35,420.76L1265.47,427.3L1259.6,424.21L1253.72,427.3L1254.84,420.76L1250.08,416.12L1256.66,415.16ZM1290.77,409.21L1293.7,415.16L1300.28,416.12L1295.52,420.76L1296.64,427.3L1290.77,424.21L1284.89,427.3L1286.01,420.76L1281.25,416.12L1287.83,415.16ZM1321.93,409.21L1324.87,415.16L1331.45,416.12L1326.69,420.76L1327.81,427.3L1321.93,424.21L1316.06,427.3L1317.18,420.76L1312.42,416.12L1319,415.16ZM1353.11,409.21L1356.04,415.16L1362.62,416.12L1357.86,420.76L1358.98,427.3L1353.11,424.21L1347.23,427.3L1348.35,420.76L1343.59,416.12L1350.17,415.16ZM1384.28,409.21L1387.21,415.16L1393.79,416.12L1389.03,420.76L1390.15,427.3L1384.28,424.21L1378.4,427.3L1379.52,420.76L1374.76,416.12L1381.34,415.16ZM1415.45,409.21L1418.38,415.16L1424.96,416.12L1420.2,420.76L1421.32,427.3L1415.45,424.21L1409.57,427.3L1410.69,420.76L1405.93,416.12L1412.51,415.16ZM1446.62,409.21L1449.55,415.16L1456.13,416.12L1451.37,420.76L1452.49,427.3L1446.62,424.21L1440.74,427.3L1441.86,420.76L1437.1,416.12L1443.68,415.16ZM1477.79,409.21L1480.72,415.16L1487.3,416.12L1482.54,420.76L1483.66,427.3L1477.79,424.21L1471.91,427.3L1473.03,420.76L1468.27,416.12L1474.85,415.16ZM1508.95,409.21L1511.89,415.16L1518.47,416.12L1513.71,420.76L1514.83,427.3L1508.95,424.21L1503.08,427.3L1504.2,420.76L1499.44,416.12L1506.02,415.16ZM1540.12,409.21L1543.06,415.16L1549.64,416.12L1544.88,420.76L1546,427.3L1540.12,424.21L1534.25,427.3L1535.37,420.76L1530.61,416.12L1537.19,415.16ZM1571.3,409.21L1574.23,415.16L1580.81,416.12L1576.05,420.76L1577.17,427.3L1571.3,424.21L1565.42,427.3L1566.54,420.76L1561.78,416.12L1568.36,415.16ZM1602.47,409.21L1605.4,415.16L1611.98,416.12L1607.22,420.76L1608.34,427.3L1602.47,424.21L1596.59,427.3L1597.71,420.76L1592.95,416.12L1599.53,415.16ZM1633.63,409.21L1636.57,415.16L1643.15,416.12L1638.39,420.76L1639.51,427.3L1633.63,424.21L1627.76,427.3L1628.88,420.76L1624.12,416.12L1630.7,415.16ZM1664.81,409.21L1667.74,415.16L1674.32,416.12L1669.56,420.76L1670.68,427.3L1664.81,424.21L1658.93,427.3L1660.05,420.76L1655.29,416.12L1661.87,415.16ZM1695.97,409.21L1698.91,415.16L1705.49,416.12L1700.73,420.76L1701.85,427.3L1695.97,424.21L1690.1,427.3L1691.22,420.76L1686.46,416.12L1693.04,415.16ZM1727.14,409.21L1730.08,415.16L1736.66,416.12L1731.9,420.76L1733.02,427.3L1727.14,424.21L1721.27,427.3L1722.39,420.76L1717.63,416.12L1724.21,415.16ZM1758.32,409.21L1761.25,415.16L1767.83,416.12L1763.07,420.76L1764.19,427.3L1758.32,424.21L1752.44,427.3L1753.56,420.76L1748.8,416.12L1755.38,415.16ZM1789.49,409.21L1792.42,415.16L1799,416.12L1794.24,420.76L1795.36,427.3L1789.49,424.21L1783.61,427.3L1784.73,420.76L1779.97,416.12L1786.55,415.16ZM1820.66,409.21L1823.59,415.16L1830.17,416.12L1825.41,420.76L1826.53,427.3L1820.66,424.21L1814.78,427.3L1815.9,420.76L1811.14,416.12L1817.72,415.16ZM1851.83,409.21L1854.76,415.16L1861.34,416.12L1856.58,420.76L1857.7,427.3L1851.83,424.21L1845.95,427.3L1847.07,420.76L1842.31,416.12L1848.89,415.16ZM1883,409.21L1885.93,415.16L1892.51,416.12L1887.75,420.76L1888.87,427.3L1883,424.21L1877.12,427.3L1878.24,420.76L1873.48,416.12L1880.06,415.16ZM1914.16,409.21L1917.1,415.16L1923.68,416.12L1918.92,420.76L1920.04,427.3L1914.16,424.21L1908.29,427.3L1909.41,420.76L1904.65,416.12L1911.23,415.16Z" fill="rgb(128,128,128)" fill-opacity="0.35" stroke="rgb(128,128,128)" stroke-opacity="0.37" stroke-width="2.5" stroke-linejoin="miter"/>
<polygon points="1142.23,205.66 1208.69,212.57 1271.57,222.01 1334.44,232.37 1429.65,252.18 1501.51,266.46 1573.36,275.67 1639.83,277.83 1753,276.59 1860.79,273.36 1860.79,361.8 1772.76,352.36 1699.11,342.69 1605.7,338.31 1501.51,327.35 1429.65,316.75 1366.78,305.75 1287.74,294.69 1142.23,276.59" fill="none" stroke="rgb(128,128,128)" stroke-opacity="0.37" stroke-width="2.0"/>
<polygon points="1142.23,193.67 1151.21,195.92 1160.19,198.17 1169.17,200.42 1178.16,202.67 1187.14,204.92 1196.12,207.16 1205.1,209.41 1214.08,211.65 1223.07,213.89 1232.05,216.12 1241.03,218.36 1250.01,220.59 1258.99,222.82 1267.98,225.05 1276.96,227.27 1285.94,229.49 1294.92,231.7 1303.9,233.92 1312.89,236.13 1321.87,238.33 1330.85,240.53 1339.83,242.72 1348.81,244.91 1357.8,247.1 1366.78,249.27 1375.76,251.44 1384.74,253.61 1393.72,255.76 1402.71,257.91 1411.69,260.05 1420.67,262.18 1429.65,264.3 1438.63,266.41 1447.62,268.5 1456.6,270.59 1465.58,272.66 1474.56,274.72 1483.54,276.76 1492.53,278.79 1501.51,280.8 1510.49,282.79 1519.47,284.76 1528.45,286.72 1537.44,288.66 1546.42,290.57 1555.4,292.47 1564.38,294.35 1573.36,296.2 1582.35,298.03 1591.33,299.84 1600.31,301.63 1609.29,303.39 1618.27,305.13 1627.26,306.85 1636.24,308.55 1645.22,310.23 1654.2,311.89 1663.18,313.53 1672.17,315.16 1681.15,316.77 1690.13,318.37 1699.11,319.96 1708.09,321.53 1717.08,323.1 1726.06,324.65 1735.04,326.19 1744.02,327.73 1753,329.26 1761.99,330.77 1770.97,332.29 1779.95,333.79 1788.93,335.29 1797.91,336.78 1806.9,338.27 1815.88,339.76 1824.86,341.24 1833.84,342.71 1842.82,344.18 1851.81,345.65 1860.79,347.11 1860.79,382.47 1851.81,380.21 1842.82,377.96 1833.84,375.7 1824.86,373.45 1815.88,371.21 1806.9,368.96 1797.91,366.73 1788.93,364.5 1779.95,362.27 1770.97,360.05 1761.99,357.84 1753,355.63 1744.02,353.43 1735.04,351.24 1726.06,349.06 1717.08,346.89 1708.09,344.73 1699.11,342.58 1690.13,340.44 1681.15,338.31 1672.17,336.2 1663.18,334.1 1654.2,332.02 1645.22,329.96 1636.24,327.91 1627.26,325.89 1618.27,323.88 1609.29,321.9 1600.31,319.93 1591.33,317.99 1582.35,316.08 1573.36,314.18 1564.38,312.31 1555.4,310.47 1546.42,308.65 1537.44,306.85 1528.45,305.08 1519.47,303.33 1510.49,301.6 1501.51,299.9 1492.53,298.21 1483.54,296.54 1474.56,294.9 1465.58,293.26 1456.6,291.65 1447.62,290.05 1438.63,288.46 1429.65,286.89 1420.67,285.33 1411.69,283.77 1402.71,282.23 1393.72,280.7 1384.74,279.18 1375.76,277.66 1366.78,276.16 1357.8,274.66 1348.81,273.16 1339.83,271.67 1330.85,270.19 1321.87,268.71 1312.89,267.24 1303.9,265.77 1294.92,264.3 1285.94,262.84 1276.96,261.39 1267.98,259.93 1258.99,258.48 1250.01,257.03 1241.03,255.59 1232.05,254.14 1223.07,252.7 1214.08,251.26 1205.1,249.82 1196.12,248.39 1187.14,246.96 1178.16,245.53 1169.17,244.1 1160.19,242.67 1151.21,241.24 1142.23,239.82" fill="#f17402" fill-opacity="0.3" stroke="#f17402" stroke-opacity="0.3" stroke-width="2.6"/>
<line x1="1142.23" y1="215.79" x2="1860.79" y2="364.79" stroke="#f17402" stroke-width="5.19" stroke-dasharray="19.22 8.31"/>
<path d="M1321.87,265.77 H1411.69 M1375.76,345.68 V180.32 M1321.87,255.38 V276.15 M1411.69,255.38 V276.15 M1365.37,345.68 H1386.15 M1365.37,180.32 H1386.15 M1411.69,271.98 H1501.51 M1458.39,311.59 V231.77 M1411.69,261.6 V282.37 M1501.51,261.6 V282.37 M1448.01,311.59 H1468.78 M1448.01,231.77 H1468.78 M1501.51,310.77 H1591.33 M1553.24,347.84 V275.21 M1501.51,300.38 V321.15 M1591.33,300.38 V321.15 M1542.86,347.84 H1563.63 M1542.86,275.21 H1563.63 M1591.33,318.64 H1681.15 M1630.49,355.81 V281.66 M1591.33,308.25 V329.03 M1681.15,308.25 V329.03 M1620.1,355.81 H1640.88 M1620.1,281.66 H1640.88 M1681.15,345.45 H1860.79 M1760.19,419.93 V307.54 M1681.15,335.06 V355.84 M1860.79,335.06 V355.84 M1749.8,419.93 H1770.58 M1749.8,307.54 H1770.58" fill="none" stroke="#f17402" stroke-width="7.79"/>
<circle cx="1375.76" cy="265.77" r="12.98" fill="#f17402" stroke="#000" stroke-width="2.6"/>
<circle cx="1458.39" cy="271.98" r="12.98" fill="#f17402" stroke="#000" stroke-width="2.6"/>
<circle cx="1553.24" cy="310.77" r="12.98" fill="#f17402" stroke="#000" stroke-width="2.6"/>
<circle cx="1630.49" cy="318.64" r="12.98" fill="#f17402" stroke="#000" stroke-width="2.6"/>
<circle cx="1760.19" cy="345.45" r="12.98" fill="#f17402" stroke="#000" stroke-width="2.6"/>
</g>
<rect x="1123.5" y="418.6" width="359.7" height="171.3" rx="5.2" ry="5.2" fill="#fff" fill-opacity="0.8" stroke="#cacaca" stroke-opacity="0.85" stroke-width="2.2"/>
<rect x="1139.1" y="435.9" width="72.5" height="25.2" fill="none" stroke="rgb(128,128,128)" stroke-opacity="0.37" stroke-width="2.2"/>
<text x="1240.69" y="461.5" font-size="36.36">Aird+15</text>
<clipPath id="c1h1"><rect x="1139.1" y="489.3" width="72.5" height="25.2"/></clipPath>
<path clip-path="url(#c1h1)" d="M1137.1,463.78 L1213.6,387.28 M1137.1,479.37 L1213.6,402.87 M1137.1,494.95 L1213.6,418.45 M1137.1,510.53 L1213.6,434.03 M1137.1,526.12 L1213.6,449.62 M1137.1,541.7 L1213.6,465.2 M1137.1,557.29 L1213.6,480.79 M1137.1,572.88 L1213.6,496.38 M1137.1,588.46 L1213.6,511.96 M1137.1,604.05 L1213.6,527.55 M1137.1,619.63 L1213.6,543.13" fill="none" stroke="rgb(128,128,128)" stroke-opacity="0.37" stroke-width="2.0"/>
<rect x="1139.1" y="489.3" width="72.5" height="25.2" fill="none" stroke="rgb(128,128,128)" stroke-opacity="0.37" stroke-width="2.2"/>
<text x="1240.69" y="515" font-size="36.36">Buchner+15</text>
<clipPath id="c1h2"><rect x="1139.1" y="542.7" width="72.5" height="25.2"/></clipPath>
<path clip-path="url(#c1h2)" d="M1103.75,471.55L1106.68,477.5L1113.26,478.46L1108.5,483.1L1109.62,489.64L1103.75,486.55L1097.87,489.64L1098.99,483.1L1094.23,478.46L1100.81,477.5ZM1134.91,471.55L1137.85,477.5L1144.43,478.46L1139.67,483.1L1140.79,489.64L1134.91,486.55L1129.04,489.64L1130.16,483.1L1125.4,478.46L1131.98,477.5ZM1166.09,471.55L1169.02,477.5L1175.6,478.46L1170.84,483.1L1171.96,489.64L1166.09,486.55L1160.21,489.64L1161.33,483.1L1156.57,478.46L1163.15,477.5ZM1197.26,471.55L1200.19,477.5L1206.77,478.46L1202.01,483.1L1203.13,489.64L1197.26,486.55L1191.38,489.64L1192.5,483.1L1187.74,478.46L1194.32,477.5ZM1228.42,471.55L1231.36,477.5L1237.94,478.46L1233.18,483.1L1234.3,489.64L1228.42,486.55L1222.55,489.64L1223.67,483.1L1218.91,478.46L1225.49,477.5ZM1259.6,471.55L1262.53,477.5L1269.11,478.46L1264.35,483.1L1265.47,489.64L1259.6,486.55L1253.72,489.64L1254.84,483.1L1250.08,478.46L1256.66,477.5ZM1088.16,502.72L1091.1,508.67L1097.67,509.63L1092.92,514.27L1094.04,520.81L1088.16,517.72L1082.28,520.81L1083.4,514.27L1078.65,509.63L1085.22,508.67ZM1119.33,502.72L1122.27,508.67L1128.84,509.63L1124.09,514.27L1125.21,520.81L1119.33,517.72L1113.45,520.81L1114.57,514.27L1109.82,509.63L1116.39,508.67ZM1150.5,502.72L1153.44,508.67L1160.01,509.63L1155.26,514.27L1156.38,520.81L1150.5,517.72L1144.62,520.81L1145.74,514.27L1140.99,509.63L1147.56,508.67ZM1181.67,502.72L1184.61,508.67L1191.18,509.63L1186.43,514.27L1187.55,520.81L1181.67,517.72L1175.79,520.81L1176.91,514.27L1172.16,509.63L1178.73,508.67ZM1212.84,502.72L1215.78,508.67L1222.35,509.63L1217.6,514.27L1218.72,520.81L1212.84,517.72L1206.96,520.81L1208.08,514.27L1203.33,509.63L1209.9,508.67ZM1244.01,502.72L1246.95,508.67L1253.52,509.63L1248.77,514.27L1249.89,520.81L1244.01,517.72L1238.13,520.81L1239.25,514.27L1234.5,509.63L1241.07,508.67ZM1275.18,502.72L1278.12,508.67L1284.69,509.63L1279.94,514.27L1281.06,520.81L1275.18,517.72L1269.3,520.81L1270.42,514.27L1265.67,509.63L1272.24,508.67ZM1103.75,533.89L1106.68,539.84L1113.26,540.8L1108.5,545.44L1109.62,551.98L1103.75,548.89L1097.87,551.98L1098.99,545.44L1094.23,540.8L1100.81,539.84ZM1134.91,533.89L1137.85,539.84L1144.43,540.8L1139.67,545.44L1140.79,551.98L1134.91,548.89L1129.04,551.98L1130.16,545.44L1125.4,540.8L1131.98,539.84ZM1166.09,533.89L1169.02,539.84L1175.6,540.8L1170.84,545.44L1171.96,551.98L1166.09,548.89L1160.21,551.98L1161.33,545.44L1156.57,540.8L1163.15,539.84ZM1197.26,533.89L1200.19,539.84L1206.77,540.8L1202.01,545.44L1203.13,551.98L1197.26,548.89L1191.38,551.98L1192.5,545.44L1187.74,540.8L1194.32,539.84ZM1228.42,533.89L1231.36,539.84L1237.94,540.8L1233.18,545.44L1234.3,551.98L1228.42,548.89L1222.55,551.98L1223.67,545.44L1218.91,540.8L1225.49,539.84ZM1259.6,533.89L1262.53,539.84L1269.11,540.8L1264.35,545.44L1265.47,551.98L1259.6,548.89L1253.72,551.98L1254.84,545.44L1250.08,540.8L1256.66,539.84ZM1088.16,565.06L1091.1,571.01L1097.67,571.97L1092.92,576.61L1094.04,583.15L1088.16,580.06L1082.28,583.15L1083.4,576.61L1078.65,571.97L1085.22,571.01ZM1119.33,565.06L1122.27,571.01L1128.84,571.97L1124.09,576.61L1125.21,583.15L1119.33,580.06L1113.45,583.15L1114.57,576.61L1109.82,571.97L1116.39,571.01ZM1150.5,565.06L1153.44,571.01L1160.01,571.97L1155.26,576.61L1156.38,583.15L1150.5,580.06L1144.62,583.15L1145.74,576.61L1140.99,571.97L1147.56,571.01ZM1181.67,565.06L1184.61,571.01L1191.18,571.97L1186.43,576.61L1187.55,583.15L1181.67,580.06L1175.79,583.15L1176.91,576.61L1172.16,571.97L1178.73,571.01ZM1212.84,565.06L1215.78,571.01L1222.35,571.97L1217.6,576.61L1218.72,583.15L1212.84,580.06L1206.96,583.15L1208.08,576.61L1203.33,571.97L1209.9,571.01ZM1244.01,565.06L1246.95,571.01L1253.52,571.97L1248.77,576.61L1249.89,583.15L1244.01,580.06L1238.13,583.15L1239.25,576.61L1234.5,571.97L1241.07,571.01ZM1275.18,565.06L1278.12,571.01L1284.69,571.97L1279.94,576.61L1281.06,583.15L1275.18,580.06L1269.3,583.15L1270.42,576.61L1265.67,571.97L1272.24,571.01ZM1103.75,596.23L1106.68,602.18L1113.26,603.14L1108.5,607.78L1109.62,614.32L1103.75,611.23L1097.87,614.32L1098.99,607.78L1094.23,603.14L1100.81,602.18ZM1134.91,596.23L1137.85,602.18L1144.43,603.14L1139.67,607.78L1140.79,614.32L1134.91,611.23L1129.04,614.32L1130.16,607.78L1125.4,603.14L1131.98,602.18ZM1166.09,596.23L1169.02,602.18L1175.6,603.14L1170.84,607.78L1171.96,614.32L1166.09,611.23L1160.21,614.32L1161.33,607.78L1156.57,603.14L1163.15,602.18ZM1197.26,596.23L1200.19,602.18L1206.77,603.14L1202.01,607.78L1203.13,614.32L1197.26,611.23L1191.38,614.32L1192.5,607.78L1187.74,603.14L1194.32,602.18ZM1228.42,596.23L1231.36,602.18L1237.94,603.14L1233.18,607.78L1234.3,614.32L1228.42,611.23L1222.55,614.32L1223.67,607.78L1218.91,603.14L1225.49,602.18ZM1259.6,596.23L1262.53,602.18L1269.11,603.14L1264.35,607.78L1265.47,614.32L1259.6,611.23L1253.72,614.32L1254.84,607.78L1250.08,603.14L1256.66,602.18Z" fill="rgb(128,128,128)" fill-opacity="0.35" stroke="rgb(128,128,128)" stroke-opacity="0.37" stroke-width="2.0"/>
<rect x="1139.1" y="542.7" width="72.5" height="25.2" fill="none" stroke="rgb(128,128,128)" stroke-opacity="0.37" stroke-width="2.2"/>
<text x="1240.69" y="568.5" font-size="36.36">Ananna+19</text>
<path d="M1142.23,607.3 v-9.09 M1142.23,54.5 v9.09 M1321.87,607.3 v-9.09 M1321.87,54.5 v9.09 M1501.51,607.3 v-9.09 M1501.51,54.5 v9.09 M1681.15,607.3 v-9.09 M1681.15,54.5 v9.09 M1860.79,607.3 v-9.09 M1860.79,54.5 v9.09 M1106.3,561.24 h9.09 M1896.9,561.24 h-9.09 M1106.3,446.09 h9.09 M1896.9,446.09 h-9.09 M1106.3,330.94 h9.09 M1896.9,330.94 h-9.09 M1106.3,215.79 h9.09 M1896.9,215.79 h-9.09 M1106.3,100.64 h9.09 M1896.9,100.64 h-9.09" fill="none" stroke="#000" stroke-width="2.08"/>
<rect x="1106.3" y="54.5" width="790.6" height="552.8" fill="none" stroke="#000" stroke-width="2.08"/>
<text transform="translate(1142.23,649.9) scale(1,1.04)" font-size="41.55" text-anchor="middle">42</text>
<text transform="translate(1321.87,649.9) scale(1,1.04)" font-size="41.55" text-anchor="middle">43</text>
<text transform="translate(1501.51,649.9) scale(1,1.04)" font-size="41.55" text-anchor="middle">44</text>
<text transform="translate(1681.15,649.9) scale(1,1.04)" font-size="41.55" text-anchor="middle">45</text>
<text transform="translate(1860.79,649.9) scale(1,1.04)" font-size="41.55" text-anchor="middle">46</text>
<text transform="translate(1096.71,577.24) scale(1,1.04)" font-size="41.55" text-anchor="end">0.00</text>
<text transform="translate(1096.71,462.09) scale(1,1.04)" font-size="41.55" text-anchor="end">0.25</text>
<text transform="translate(1096.71,346.94) scale(1,1.04)" font-size="41.55" text-anchor="end">0.50</text>
<text transform="translate(1096.71,231.79) scale(1,1.04)" font-size="41.55" text-anchor="end">0.75</text>
<text transform="translate(1096.71,116.64) scale(1,1.04)" font-size="41.55" text-anchor="end">1.00</text>
<text transform="translate(1501.6,39.3) scale(1,1.05)" font-size="49.56" text-anchor="middle">1&lt;z&lt;2</text>
</g>
<g id="panel2">
<clipPath id="c2"><rect x="157" y="773.4" width="790.6" height="552.8"/></clipPath>
<g clip-path="url(#c2)">
<polygon points="192.93,884.95 318.68,907.98 439.03,930.08 507.3,939.3 591.73,948.51 676.16,963.25 739.03,965.27 823.46,958.87 911.49,937.91 911.49,1209.44 803.7,1164.99 692.33,1112.57 570.17,1048.64 506.4,1020.36 487.54,1010.69 462.39,1001.94 430.05,995.63 379.75,986.74 329.45,979.83 192.93,966.47" fill="none" stroke="rgb(128,128,128)" stroke-opacity="0.37" stroke-width="2.0" stroke-linejoin="miter"/>
<clipPath id="c2b"><polygon points="192.93,945.93 259.39,942.52 329.45,934.23 419.27,931.24 510.89,928.24 559.39,934.23 591.73,939.3 676.16,957.72 749.81,962.33 821.67,960.02 911.49,954.68 911.49,1095.9 781.25,1080.98 672.57,1051.22 659.99,1044.68 640.23,1035.19 612.21,1024.74 593.53,1018.15 573.76,1010.55 550.41,1003.78 527.06,999.17 503.71,997.33 483.41,999.17 444.42,1006.08 395.92,1016.95 300.71,1039.94 192.93,1075.91"/></clipPath>
<path clip-path="url(#c2b)" d="M190.93,895.65 L913.49,173.09 M190.93,911.23 L913.49,188.67 M190.93,926.82 L913.49,204.26 M190.93,942.4 L913.49,219.84 M190.93,957.99 L913.49,235.43 M190.93,973.57 L913.49,251.01 M190.93,989.16 L913.49,266.6 M190.93,1004.74 L913.49,282.18 M190.93,1020.33 L913.49,297.77 M190.93,1035.91 L913.49,313.35 M190.93,1051.5 L913.49,328.94 M190.93,1067.08 L913.49,344.52 M190.93,1082.67 L913.49,360.11 M190.93,1098.25 L913.49,375.69 M190.93,1113.84 L913.49,391.28 M190.93,1129.42 L913.49,406.86 M190.93,1145.01 L913.49,422.45 M190.93,1160.59 L913.49,438.03 M190.93,1176.18 L913.49,453.62 M190.93,1191.76 L913.49,469.2 M190.93,1207.35 L913.49,484.79 M190.93,1222.93 L913.49,500.37 M190.93,1238.52 L913.49,515.96 M190.93,1254.1 L913.49,531.54 M190.93,1269.69 L913.49,547.13 M190.93,1285.27 L913.49,562.71 M190.93,1300.86 L913.49,578.3 M190.93,1316.44 L913.49,593.88 M190.93,1332.03 L913.49,609.47 M190.93,1347.61 L913.49,625.05 M190.93,1363.2 L913.49,640.64 M190.93,1378.78 L913.49,656.22 M190.93,1394.37 L913.49,671.81 M190.93,1409.95 L913.49,687.39 M190.93,1425.54 L913.49,702.98 M190.93,1441.12 L913.49,718.56 M190.93,1456.71 L913.49,734.15 M190.93,1472.29 L913.49,749.73 M190.93,1487.88 L913.49,765.32 M190.93,1503.46 L913.49,780.9 M190.93,1519.05 L913.49,796.49 M190.93,1534.63 L913.49,812.07 M190.93,1550.22 L913.49,827.66 M190.93,1565.8 L913.49,843.24 M190.93,1581.39 L913.49,858.83 M190.93,1596.97 L913.49,874.41 M190.93,1612.56 L913.49,890 M190.93,1628.14 L913.49,905.58 M190.93,1643.73 L913.49,921.17 M190.93,1659.31 L913.49,936.75 M190.93,1674.9 L913.49,952.34 M190.93,1690.48 L913.49,967.92 M190.93,1706.07 L913.49,983.51 M190.93,1721.65 L913.49,999.09 M190.93,1737.24 L913.49,1014.68 M190.93,1752.82 L913.49,1030.26 M190.93,1768.41 L913.49,1045.85 M190.93,1783.99 L913.49,1061.43 M190.93,1799.58 L913.49,1077.02 M190.93,1815.16 L913.49,1092.6 M190.93,1830.75 L913.49,1108.19 M190.93,1846.33 L913.49,1123.77" fill="none" stroke="rgb(128,128,128)" stroke-opacity="0.37" stroke-width="1.75"/>
<polygon points="192.93,945.93 259.39,942.52 329.45,934.23 419.27,931.24 510.89,928.24 559.39,934.23 591.73,939.3 676.16,957.72 749.81,962.33 821.67,960.02 911.49,954.68 911.49,1095.9 781.25,1080.98 672.57,1051.22 659.99,1044.68 640.23,1035.19 612.21,1024.74 593.53,1018.15 573.76,1010.55 550.41,1003.78 527.06,999.17 503.71,997.33 483.41,999.17 444.42,1006.08 395.92,1016.95 300.71,1039.94 192.93,1075.91" fill="none" stroke="rgb(128,128,128)" stroke-opacity="0.37" stroke-width="2.0"/>
<clipPath id="c2a"><polygon points="192.93,924.1 372.57,939.3 552.21,957.72 731.85,971.54 911.49,969.42 911.49,1022.2 785.74,1025.43 642.03,1024.51 507.3,1020.82 395.92,1017.14 279.16,1006.08 192.93,995.95"/></clipPath>
<g clip-path="url(#c2b)"><g clip-path="url(#c2a)"><path d="M190.93,898.95 L913.49,176.39 M190.93,914.53 L913.49,191.97 M190.93,930.12 L913.49,207.56 M190.93,945.7 L913.49,223.14 M190.93,961.29 L913.49,238.73 M190.93,976.87 L913.49,254.31 M190.93,992.46 L913.49,269.9 M190.93,1008.04 L913.49,285.48 M190.93,1023.63 L913.49,301.07 M190.93,1039.21 L913.49,316.65 M190.93,1054.8 L913.49,332.24 M190.93,1070.38 L913.49,347.82 M190.93,1085.97 L913.49,363.41 M190.93,1101.55 L913.49,378.99 M190.93,1117.14 L913.49,394.58 M190.93,1132.72 L913.49,410.16 M190.93,1148.31 L913.49,425.75 M190.93,1163.89 L913.49,441.33 M190.93,1179.48 L913.49,456.92 M190.93,1195.06 L913.49,472.5 M190.93,1210.65 L913.49,488.09 M190.93,1226.23 L913.49,503.67 M190.93,1241.82 L913.49,519.26 M190.93,1257.4 L913.49,534.84 M190.93,1272.99 L913.49,550.43 M190.93,1288.57 L913.49,566.01 M190.93,1304.16 L913.49,581.6 M190.93,1319.74 L913.49,597.18 M190.93,1335.33 L913.49,612.77 M190.93,1350.91 L913.49,628.35 M190.93,1366.5 L913.49,643.94 M190.93,1382.08 L913.49,659.52 M190.93,1397.67 L913.49,675.11 M190.93,1413.25 L913.49,690.69 M190.93,1428.84 L913.49,706.28 M190.93,1444.42 L913.49,721.86 M190.93,1460.01 L913.49,737.45 M190.93,1475.59 L913.49,753.03 M190.93,1491.18 L913.49,768.62 M190.93,1506.76 L913.49,784.2 M190.93,1522.35 L913.49,799.79 M190.93,1537.93 L913.49,815.37 M190.93,1553.52 L913.49,830.96 M190.93,1569.1 L913.49,846.54 M190.93,1584.69 L913.49,862.13 M190.93,1600.27 L913.49,877.71 M190.93,1615.86 L913.49,893.3 M190.93,1631.44 L913.49,908.88 M190.93,1647.03 L913.49,924.47 M190.93,1662.61 L913.49,940.05 M190.93,1678.2 L913.49,955.64 M190.93,1693.78 L913.49,971.22 M190.93,1709.37 L913.49,986.81 M190.93,1724.95 L913.49,1002.39 M190.93,1740.54 L913.49,1017.98 M190.93,1756.12 L913.49,1033.56 M190.93,1771.71 L913.49,1049.15 M190.93,1787.29 L913.49,1064.73 M190.93,1802.88 L913.49,1080.32 M190.93,1818.46 L913.49,1095.9 M190.93,1834.05 L913.49,1111.49 M190.93,1849.63 L913.49,1127.07" fill="none" stroke="rgb(128,128,128)" stroke-opacity="0.37" stroke-width="1.75"/></g></g>
<path clip-path="url(#c2a)" d="M153.06,876.76L156,882.71L162.57,883.67L157.82,888.31L158.94,894.85L153.06,891.76L147.18,894.85L148.3,888.31L143.55,883.67L150.12,882.71ZM184.23,876.76L187.17,882.71L193.74,883.67L188.99,888.31L190.11,894.85L184.23,891.76L178.35,894.85L179.47,888.31L174.72,883.67L181.29,882.71ZM215.4,876.76L218.34,882.71L224.91,883.67L220.16,888.31L221.28,894.85L215.4,891.76L209.52,894.85L210.64,888.31L205.89,883.67L212.46,882.71ZM246.57,876.76L249.51,882.71L256.08,883.67L251.33,888.31L252.45,894.85L246.57,891.76L240.69,894.85L241.81,888.31L237.06,883.67L243.63,882.71ZM277.74,876.76L280.68,882.71L287.25,883.67L282.5,888.31L283.62,894.85L277.74,891.76L271.86,894.85L272.98,888.31L268.23,883.67L274.8,882.71ZM308.91,876.76L311.85,882.71L318.42,883.67L313.67,888.31L314.79,894.85L308.91,891.76L303.03,894.85L304.15,888.31L299.4,883.67L305.97,882.71ZM340.08,876.76L343.02,882.71L349.59,883.67L344.84,888.31L345.96,894.85L340.08,891.76L334.2,894.85L335.32,888.31L330.57,883.67L337.14,882.71ZM371.25,876.76L374.19,882.71L380.76,883.67L376.01,888.31L377.13,894.85L371.25,891.76L365.37,894.85L366.49,888.31L361.74,883.67L368.31,882.71ZM402.42,876.76L405.36,882.71L411.93,883.67L407.18,888.31L408.3,894.85L402.42,891.76L396.54,894.85L397.66,888.31L392.91,883.67L399.48,882.71ZM433.59,876.76L436.53,882.71L443.1,883.67L438.35,888.31L439.47,894.85L433.59,891.76L427.71,894.85L428.83,888.31L424.08,883.67L430.65,882.71ZM464.76,876.76L467.7,882.71L474.27,883.67L469.52,888.31L470.64,894.85L464.76,891.76L458.88,894.85L460,888.31L455.25,883.67L461.82,882.71ZM495.93,876.76L498.87,882.71L505.44,883.67L500.69,888.31L501.81,894.85L495.93,891.76L490.05,894.85L491.17,888.31L486.42,883.67L492.99,882.71ZM527.1,876.76L530.04,882.71L536.61,883.67L531.86,888.31L532.98,894.85L527.1,891.76L521.22,894.85L522.34,888.31L517.59,883.67L524.16,882.71ZM558.27,876.76L561.21,882.71L567.78,883.67L563.03,888.31L564.15,894.85L558.27,891.76L552.39,894.85L553.51,888.31L548.76,883.67L555.33,882.71ZM589.44,876.76L592.38,882.71L598.95,883.67L594.2,888.31L595.32,894.85L589.44,891.76L583.56,894.85L584.68,888.31L579.93,883.67L586.5,882.71ZM620.61,876.76L623.55,882.71L630.12,883.67L625.37,888.31L626.49,894.85L620.61,891.76L614.73,894.85L615.85,888.31L611.1,883.67L617.67,882.71ZM651.78,876.76L654.72,882.71L661.29,883.67L656.54,888.31L657.66,894.85L651.78,891.76L645.9,894.85L647.02,888.31L642.27,883.67L648.84,882.71ZM682.95,876.76L685.89,882.71L692.46,883.67L687.71,888.31L688.83,894.85L682.95,891.76L677.07,894.85L678.19,888.31L673.44,883.67L680.01,882.71ZM714.12,876.76L717.06,882.71L723.63,883.67L718.88,888.31L720,894.85L714.12,891.76L708.24,894.85L709.36,888.31L704.61,883.67L711.18,882.71ZM745.29,876.76L748.23,882.71L754.8,883.67L750.05,888.31L751.17,894.85L745.29,891.76L739.41,894.85L740.53,888.31L735.78,883.67L742.35,882.71ZM776.46,876.76L779.4,882.71L785.97,883.67L781.22,888.31L782.34,894.85L776.46,891.76L770.58,894.85L771.7,888.31L766.95,883.67L773.52,882.71ZM807.63,876.76L810.57,882.71L817.14,883.67L812.39,888.31L813.51,894.85L807.63,891.76L801.75,894.85L802.87,888.31L798.12,883.67L804.69,882.71ZM838.8,876.76L841.74,882.71L848.31,883.67L843.56,888.31L844.68,894.85L838.8,891.76L832.92,894.85L834.04,888.31L829.29,883.67L835.86,882.71ZM869.97,876.76L872.91,882.71L879.48,883.67L874.73,888.31L875.85,894.85L869.97,891.76L864.09,894.85L865.21,888.31L860.46,883.67L867.03,882.71ZM901.14,876.76L904.08,882.71L910.65,883.67L905.9,888.31L907.02,894.85L901.14,891.76L895.26,894.85L896.38,888.31L891.63,883.67L898.2,882.71ZM932.31,876.76L935.25,882.71L941.82,883.67L937.07,888.31L938.19,894.85L932.31,891.76L926.43,894.85L927.55,888.31L922.8,883.67L929.37,882.71ZM963.48,876.76L966.42,882.71L972.99,883.67L968.24,888.31L969.36,894.85L963.48,891.76L957.6,894.85L958.72,888.31L953.97,883.67L960.54,882.71ZM137.47,907.93L140.41,913.88L146.99,914.84L142.23,919.48L143.35,926.02L137.47,922.93L131.6,926.02L132.72,919.48L127.96,914.84L134.54,913.88ZM168.64,907.93L171.58,913.88L178.16,914.84L173.4,919.48L174.52,926.02L168.64,922.93L162.77,926.02L163.89,919.48L159.13,914.84L165.71,913.88ZM199.81,907.93L202.75,913.88L209.33,914.84L204.57,919.48L205.69,926.02L199.81,922.93L193.94,926.02L195.06,919.48L190.3,914.84L196.88,913.88ZM230.99,907.93L233.92,913.88L240.5,914.84L235.74,919.48L236.86,926.02L230.99,922.93L225.11,926.02L226.23,919.48L221.47,914.84L228.05,913.88ZM262.15,907.93L265.09,913.88L271.67,914.84L266.91,919.48L268.03,926.02L262.15,922.93L256.28,926.02L257.4,919.48L252.64,914.84L259.22,913.88ZM293.33,907.93L296.26,913.88L302.84,914.84L298.08,919.48L299.2,926.02L293.33,922.93L287.45,926.02L288.57,919.48L283.81,914.84L290.39,913.88ZM324.5,907.93L327.43,913.88L334.01,914.84L329.25,919.48L330.37,926.02L324.5,922.93L318.62,926.02L319.74,919.48L314.98,914.84L321.56,913.88ZM355.66,907.93L358.6,913.88L365.18,914.84L360.42,919.48L361.54,926.02L355.66,922.93L349.79,926.02L350.91,919.48L346.15,914.84L352.73,913.88ZM386.84,907.93L389.77,913.88L396.35,914.84L391.59,919.48L392.71,926.02L386.84,922.93L380.96,926.02L382.08,919.48L377.32,914.84L383.9,913.88ZM418,907.93L420.94,913.88L427.52,914.84L422.76,919.48L423.88,926.02L418,922.93L412.13,926.02L413.25,919.48L408.49,914.84L415.07,913.88ZM449.17,907.93L452.11,913.88L458.69,914.84L453.93,919.48L455.05,926.02L449.17,922.93L443.3,926.02L444.42,919.48L439.66,914.84L446.24,913.88ZM480.35,907.93L483.28,913.88L489.86,914.84L485.1,919.48L486.22,926.02L480.35,922.93L474.47,926.02L475.59,919.48L470.83,914.84L477.41,913.88ZM511.51,907.93L514.45,913.88L521.03,914.84L516.27,919.48L517.39,926.02L511.51,922.93L505.64,926.02L506.76,919.48L502,914.84L508.58,913.88ZM542.68,907.93L545.62,913.88L552.2,914.84L547.44,919.48L548.56,926.02L542.68,922.93L536.81,926.02L537.93,919.48L533.17,914.84L539.75,913.88ZM573.86,907.93L576.79,913.88L583.37,914.84L578.61,919.48L579.73,926.02L573.86,922.93L567.98,926.02L569.1,919.48L564.34,914.84L570.92,913.88ZM605.02,907.93L607.96,913.88L614.54,914.84L609.78,919.48L610.9,926.02L605.02,922.93L599.15,926.02L600.27,919.48L595.51,914.84L602.09,913.88ZM636.2,907.93L639.13,913.88L645.71,914.84L640.95,919.48L642.07,926.02L636.2,922.93L630.32,926.02L631.44,919.48L626.68,914.84L633.26,913.88ZM667.37,907.93L670.3,913.88L676.88,914.84L672.12,919.48L673.24,926.02L667.37,922.93L661.49,926.02L662.61,919.48L657.85,914.84L664.43,913.88ZM698.54,907.93L701.47,913.88L708.05,914.84L703.29,919.48L704.41,926.02L698.54,922.93L692.66,926.02L693.78,919.48L689.02,914.84L695.6,913.88ZM729.71,907.93L732.64,913.88L739.22,914.84L734.46,919.48L735.58,926.02L729.71,922.93L723.83,926.02L724.95,919.48L720.19,914.84L726.77,913.88ZM760.88,907.93L763.81,913.88L770.39,914.84L765.63,919.48L766.75,926.02L760.88,922.93L755,926.02L756.12,919.48L751.36,914.84L757.94,913.88ZM792.05,907.93L794.98,913.88L801.56,914.84L796.8,919.48L797.92,926.02L792.05,922.93L786.17,926.02L787.29,919.48L782.53,914.84L789.11,913.88ZM823.22,907.93L826.15,913.88L832.73,914.84L827.97,919.48L829.09,926.02L823.22,922.93L817.34,926.02L818.46,919.48L813.7,914.84L820.28,913.88ZM854.38,907.93L857.32,913.88L863.9,914.84L859.14,919.48L860.26,926.02L854.38,922.93L848.51,926.02L849.63,919.48L844.87,914.84L851.45,913.88ZM885.56,907.93L888.49,913.88L895.07,914.84L890.31,919.48L891.43,926.02L885.56,922.93L879.68,926.02L880.8,919.48L876.04,914.84L882.62,913.88ZM916.73,907.93L919.66,913.88L926.24,914.84L921.48,919.48L922.6,926.02L916.73,922.93L910.85,926.02L911.97,919.48L907.21,914.84L913.79,913.88ZM947.89,907.93L950.83,913.88L957.41,914.84L952.65,919.48L953.77,926.02L947.89,922.93L942.02,926.02L943.14,919.48L938.38,914.84L944.96,913.88ZM153.06,939.1L156,945.05L162.57,946.01L157.82,950.65L158.94,957.19L153.06,954.1L147.18,957.19L148.3,950.65L143.55,946.01L150.12,945.05ZM184.23,939.1L187.17,945.05L193.74,946.01L188.99,950.65L190.11,957.19L184.23,954.1L178.35,957.19L179.47,950.65L174.72,946.01L181.29,945.05ZM215.4,939.1L218.34,945.05L224.91,946.01L220.16,950.65L221.28,957.19L215.4,954.1L209.52,957.19L210.64,950.65L205.89,946.01L212.46,945.05ZM246.57,939.1L249.51,945.05L256.08,946.01L251.33,950.65L252.45,957.19L246.57,954.1L240.69,957.19L241.81,950.65L237.06,946.01L243.63,945.05ZM277.74,939.1L280.68,945.05L287.25,946.01L282.5,950.65L283.62,957.19L277.74,954.1L271.86,957.19L272.98,950.65L268.23,946.01L274.8,945.05ZM308.91,939.1L311.85,945.05L318.42,946.01L313.67,950.65L314.79,957.19L308.91,954.1L303.03,957.19L304.15,950.65L299.4,946.01L305.97,945.05ZM340.08,939.1L343.02,945.05L349.59,946.01L344.84,950.65L345.96,957.19L340.08,954.1L334.2,957.19L335.32,950.65L330.57,946.01L337.14,945.05ZM371.25,939.1L374.19,945.05L380.76,946.01L376.01,950.65L377.13,957.19L371.25,954.1L365.37,957.19L366.49,950.65L361.74,946.01L368.31,945.05ZM402.42,939.1L405.36,945.05L411.93,946.01L407.18,950.65L408.3,957.19L402.42,954.1L396.54,957.19L397.66,950.65L392.91,946.01L399.48,945.05ZM433.59,939.1L436.53,945.05L443.1,946.01L438.35,950.65L439.47,957.19L433.59,954.1L427.71,957.19L428.83,950.65L424.08,946.01L430.65,945.05ZM464.76,939.1L467.7,945.05L474.27,946.01L469.52,950.65L470.64,957.19L464.76,954.1L458.88,957.19L460,950.65L455.25,946.01L461.82,945.05ZM495.93,939.1L498.87,945.05L505.44,946.01L500.69,950.65L501.81,957.19L495.93,954.1L490.05,957.19L491.17,950.65L486.42,946.01L492.99,945.05ZM527.1,939.1L530.04,945.05L536.61,946.01L531.86,950.65L532.98,957.19L527.1,954.1L521.22,957.19L522.34,950.65L517.59,946.01L524.16,945.05ZM558.27,939.1L561.21,945.05L567.78,946.01L563.03,950.65L564.15,957.19L558.27,954.1L552.39,957.19L553.51,950.65L548.76,946.01L555.33,945.05ZM589.44,939.1L592.38,945.05L598.95,946.01L594.2,950.65L595.32,957.19L589.44,954.1L583.56,957.19L584.68,950.65L579.93,946.01L586.5,945.05ZM620.61,939.1L623.55,945.05L630.12,946.01L625.37,950.65L626.49,957.19L620.61,954.1L614.73,957.19L615.85,950.65L611.1,946.01L617.67,945.05ZM651.78,939.1L654.72,945.05L661.29,946.01L656.54,950.65L657.66,957.19L651.78,954.1L645.9,957.19L647.02,950.65L642.27,946.01L648.84,945.05ZM682.95,939.1L685.89,945.05L692.46,946.01L687.71,950.65L688.83,957.19L682.95,954.1L677.07,957.19L678.19,950.65L673.44,946.01L680.01,945.05ZM714.12,939.1L717.06,945.05L723.63,946.01L718.88,950.65L720,957.19L714.12,954.1L708.24,957.19L709.36,950.65L704.61,946.01L711.18,945.05ZM745.29,939.1L748.23,945.05L754.8,946.01L750.05,950.65L751.17,957.19L745.29,954.1L739.41,957.19L740.53,950.65L735.78,946.01L742.35,945.05ZM776.46,939.1L779.4,945.05L785.97,946.01L781.22,950.65L782.34,957.19L776.46,954.1L770.58,957.19L771.7,950.65L766.95,946.01L773.52,945.05ZM807.63,939.1L810.57,945.05L817.14,946.01L812.39,950.65L813.51,957.19L807.63,954.1L801.75,957.19L802.87,950.65L798.12,946.01L804.69,945.05ZM838.8,939.1L841.74,945.05L848.31,946.01L843.56,950.65L844.68,957.19L838.8,954.1L832.92,957.19L834.04,950.65L829.29,946.01L835.86,945.05ZM869.97,939.1L872.91,945.05L879.48,946.01L874.73,950.65L875.85,957.19L869.97,954.1L864.09,957.19L865.21,950.65L860.46,946.01L867.03,945.05ZM901.14,939.1L904.08,945.05L910.65,946.01L905.9,950.65L907.02,957.19L901.14,954.1L895.26,957.19L896.38,950.65L891.63,946.01L898.2,945.05ZM932.31,939.1L935.25,945.05L941.82,946.01L937.07,950.65L938.19,957.19L932.31,954.1L926.43,957.19L927.55,950.65L922.8,946.01L929.37,945.05ZM963.48,939.1L966.42,945.05L972.99,946.01L968.24,950.65L969.36,957.19L963.48,954.1L957.6,957.19L958.72,950.65L953.97,946.01L960.54,945.05ZM137.47,970.27L140.41,976.22L146.99,977.18L142.23,981.82L143.35,988.36L137.47,985.27L131.6,988.36L132.72,981.82L127.96,977.18L134.54,976.22ZM168.64,970.27L171.58,976.22L178.16,977.18L173.4,981.82L174.52,988.36L168.64,985.27L162.77,988.36L163.89,981.82L159.13,977.18L165.71,976.22ZM199.81,970.27L202.75,976.22L209.33,977.18L204.57,981.82L205.69,988.36L199.81,985.27L193.94,988.36L195.06,981.82L190.3,977.18L196.88,976.22ZM230.99,970.27L233.92,976.22L240.5,977.18L235.74,981.82L236.86,988.36L230.99,985.27L225.11,988.36L226.23,981.82L221.47,977.18L228.05,976.22ZM262.15,970.27L265.09,976.22L271.67,977.18L266.91,981.82L268.03,988.36L262.15,985.27L256.28,988.36L257.4,981.82L252.64,977.18L259.22,976.22ZM293.33,970.27L296.26,976.22L302.84,977.18L298.08,981.82L299.2,988.36L293.33,985.27L287.45,988.36L288.57,981.82L283.81,977.18L290.39,976.22ZM324.5,970.27L327.43,976.22L334.01,977.18L329.25,981.82L330.37,988.36L324.5,985.27L318.62,988.36L319.74,981.82L314.98,977.18L321.56,976.22ZM355.66,970.27L358.6,976.22L365.18,977.18L360.42,981.82L361.54,988.36L355.66,985.27L349.79,988.36L350.91,981.82L346.15,977.18L352.73,976.22ZM386.84,970.27L389.77,976.22L396.35,977.18L391.59,981.82L392.71,988.36L386.84,985.27L380.96,988.36L382.08,981.82L377.32,977.18L383.9,976.22ZM418,970.27L420.94,976.22L427.52,977.18L422.76,981.82L423.88,988.36L418,985.27L412.13,988.36L413.25,981.82L408.49,977.18L415.07,976.22ZM449.17,970.27L452.11,976.22L458.69,977.18L453.93,981.82L455.05,988.36L449.17,985.27L443.3,988.36L444.42,981.82L439.66,977.18L446.24,976.22ZM480.35,970.27L483.28,976.22L489.86,977.18L485.1,981.82L486.22,988.36L480.35,985.27L474.47,988.36L475.59,981.82L470.83,977.18L477.41,976.22ZM511.51,970.27L514.45,976.22L521.03,977.18L516.27,981.82L517.39,988.36L511.51,985.27L505.64,988.36L506.76,981.82L502,977.18L508.58,976.22ZM542.68,970.27L545.62,976.22L552.2,977.18L547.44,981.82L548.56,988.36L542.68,985.27L536.81,988.36L537.93,981.82L533.17,977.18L539.75,976.22ZM573.86,970.27L576.79,976.22L583.37,977.18L578.61,981.82L579.73,988.36L573.86,985.27L567.98,988.36L569.1,981.82L564.34,977.18L570.92,976.22ZM605.02,970.27L607.96,976.22L614.54,977.18L609.78,981.82L610.9,988.36L605.02,985.27L599.15,988.36L600.27,981.82L595.51,977.18L602.09,976.22ZM636.2,970.27L639.13,976.22L645.71,977.18L640.95,981.82L642.07,988.36L636.2,985.27L630.32,988.36L631.44,981.82L626.68,977.18L633.26,976.22ZM667.37,970.27L670.3,976.22L676.88,977.18L672.12,981.82L673.24,988.36L667.37,985.27L661.49,988.36L662.61,981.82L657.85,977.18L664.43,976.22ZM698.54,970.27L701.47,976.22L708.05,977.18L703.29,981.82L704.41,988.36L698.54,985.27L692.66,988.36L693.78,981.82L689.02,977.18L695.6,976.22ZM729.71,970.27L732.64,976.22L739.22,977.18L734.46,981.82L735.58,988.36L729.71,985.27L723.83,988.36L724.95,981.82L720.19,977.18L726.77,976.22ZM760.88,970.27L763.81,976.22L770.39,977.18L765.63,981.82L766.75,988.36L760.88,985.27L755,988.36L756.12,981.82L751.36,977.18L757.94,976.22ZM792.05,970.27L794.98,976.22L801.56,977.18L796.8,981.82L797.92,988.36L792.05,985.27L786.17,988.36L787.29,981.82L782.53,977.18L789.11,976.22ZM823.22,970.27L826.15,976.22L832.73,977.18L827.97,981.82L829.09,988.36L823.22,985.27L817.34,988.36L818.46,981.82L813.7,977.18L820.28,976.22ZM854.38,970.27L857.32,976.22L863.9,977.18L859.14,981.82L860.26,988.36L854.38,985.27L848.51,988.36L849.63,981.82L844.87,977.18L851.45,976.22ZM885.56,970.27L888.49,976.22L895.07,977.18L890.31,981.82L891.43,988.36L885.56,985.27L879.68,988.36L880.8,981.82L876.04,977.18L882.62,976.22ZM916.73,970.27L919.66,976.22L926.24,977.18L921.48,981.82L922.6,988.36L916.73,985.27L910.85,988.36L911.97,981.82L907.21,977.18L913.79,976.22ZM947.89,970.27L950.83,976.22L957.41,977.18L952.65,981.82L953.77,988.36L947.89,985.27L942.02,988.36L943.14,981.82L938.38,977.18L944.96,976.22ZM153.06,1001.44L156,1007.39L162.57,1008.35L157.82,1012.99L158.94,1019.53L153.06,1016.44L147.18,1019.53L148.3,1012.99L143.55,1008.35L150.12,1007.39ZM184.23,1001.44L187.17,1007.39L193.74,1008.35L188.99,1012.99L190.11,1019.53L184.23,1016.44L178.35,1019.53L179.47,1012.99L174.72,1008.35L181.29,1007.39ZM215.4,1001.44L218.34,1007.39L224.91,1008.35L220.16,1012.99L221.28,1019.53L215.4,1016.44L209.52,1019.53L210.64,1012.99L205.89,1008.35L212.46,1007.39ZM246.57,1001.44L249.51,1007.39L256.08,1008.35L251.33,1012.99L252.45,1019.53L246.57,1016.44L240.69,1019.53L241.81,1012.99L237.06,1008.35L243.63,1007.39ZM277.74,1001.44L280.68,1007.39L287.25,1008.35L282.5,1012.99L283.62,1019.53L277.74,1016.44L271.86,1019.53L272.98,1012.99L268.23,1008.35L274.8,1007.39ZM308.91,1001.44L311.85,1007.39L318.42,1008.35L313.67,1012.99L314.79,1019.53L308.91,1016.44L303.03,1019.53L304.15,1012.99L299.4,1008.35L305.97,1007.39ZM340.08,1001.44L343.02,1007.39L349.59,1008.35L344.84,1012.99L345.96,1019.53L340.08,1016.44L334.2,1019.53L335.32,1012.99L330.57,1008.35L337.14,1007.39ZM371.25,1001.44L374.19,1007.39L380.76,1008.35L376.01,1012.99L377.13,1019.53L371.25,1016.44L365.37,1019.53L366.49,1012.99L361.74,1008.35L368.31,1007.39ZM402.42,1001.44L405.36,1007.39L411.93,1008.35L407.18,1012.99L408.3,1019.53L402.42,1016.44L396.54,1019.53L397.66,1012.99L392.91,1008.35L399.48,1007.39ZM433.59,1001.44L436.53,1007.39L443.1,1008.35L438.35,1012.99L439.47,1019.53L433.59,1016.44L427.71,1019.53L428.83,1012.99L424.08,1008.35L430.65,1007.39ZM464.76,1001.44L467.7,1007.39L474.27,1008.35L469.52,1012.99L470.64,1019.53L464.76,1016.44L458.88,1019.53L460,1012.99L455.25,1008.35L461.82,1007.39ZM495.93,1001.44L498.87,1007.39L505.44,1008.35L500.69,1012.99L501.81,1019.53L495.93,1016.44L490.05,1019.53L491.17,1012.99L486.42,1008.35L492.99,1007.39ZM527.1,1001.44L530.04,1007.39L536.61,1008.35L531.86,1012.99L532.98,1019.53L527.1,1016.44L521.22,1019.53L522.34,1012.99L517.59,1008.35L524.16,1007.39ZM558.27,1001.44L561.21,1007.39L567.78,1008.35L563.03,1012.99L564.15,1019.53L558.27,1016.44L552.39,1019.53L553.51,1012.99L548.76,1008.35L555.33,1007.39ZM589.44,1001.44L592.38,1007.39L598.95,1008.35L594.2,1012.99L595.32,1019.53L589.44,1016.44L583.56,1019.53L584.68,1012.99L579.93,1008.35L586.5,1007.39ZM620.61,1001.44L623.55,1007.39L630.12,1008.35L625.37,1012.99L626.49,1019.53L620.61,1016.44L614.73,1019.53L615.85,1012.99L611.1,1008.35L617.67,1007.39ZM651.78,1001.44L654.72,1007.39L661.29,1008.35L656.54,1012.99L657.66,1019.53L651.78,1016.44L645.9,1019.53L647.02,1012.99L642.27,1008.35L648.84,1007.39ZM682.95,1001.44L685.89,1007.39L692.46,1008.35L687.71,1012.99L688.83,1019.53L682.95,1016.44L677.07,1019.53L678.19,1012.99L673.44,1008.35L680.01,1007.39ZM714.12,1001.44L717.06,1007.39L723.63,1008.35L718.88,1012.99L720,1019.53L714.12,1016.44L708.24,1019.53L709.36,1012.99L704.61,1008.35L711.18,1007.39ZM745.29,1001.44L748.23,1007.39L754.8,1008.35L750.05,1012.99L751.17,1019.53L745.29,1016.44L739.41,1019.53L740.53,1012.99L735.78,1008.35L742.35,1007.39ZM776.46,1001.44L779.4,1007.39L785.97,1008.35L781.22,1012.99L782.34,1019.53L776.46,1016.44L770.58,1019.53L771.7,1012.99L766.95,1008.35L773.52,1007.39ZM807.63,1001.44L810.57,1007.39L817.14,1008.35L812.39,1012.99L813.51,1019.53L807.63,1016.44L801.75,1019.53L802.87,1012.99L798.12,1008.35L804.69,1007.39ZM838.8,1001.44L841.74,1007.39L848.31,1008.35L843.56,1012.99L844.68,1019.53L838.8,1016.44L832.92,1019.53L834.04,1012.99L829.29,1008.35L835.86,1007.39ZM869.97,1001.44L872.91,1007.39L879.48,1008.35L874.73,1012.99L875.85,1019.53L869.97,1016.44L864.09,1019.53L865.21,1012.99L860.46,1008.35L867.03,1007.39ZM901.14,1001.44L904.08,1007.39L910.65,1008.35L905.9,1012.99L907.02,1019.53L901.14,1016.44L895.26,1019.53L896.38,1012.99L891.63,1008.35L898.2,1007.39ZM932.31,1001.44L935.25,1007.39L941.82,1008.35L937.07,1012.99L938.19,1019.53L932.31,1016.44L926.43,1019.53L927.55,1012.99L922.8,1008.35L929.37,1007.39ZM963.48,1001.44L966.42,1007.39L972.99,1008.35L968.24,1012.99L969.36,1019.53L963.48,1016.44L957.6,1019.53L958.72,1012.99L953.97,1008.35L960.54,1007.39ZM137.47,1032.61L140.41,1038.56L146.99,1039.52L142.23,1044.16L143.35,1050.7L137.47,1047.61L131.6,1050.7L132.72,1044.16L127.96,1039.52L134.54,1038.56ZM168.64,1032.61L171.58,1038.56L178.16,1039.52L173.4,1044.16L174.52,1050.7L168.64,1047.61L162.77,1050.7L163.89,1044.16L159.13,1039.52L165.71,1038.56ZM199.81,1032.61L202.75,1038.56L209.33,1039.52L204.57,1044.16L205.69,1050.7L199.81,1047.61L193.94,1050.7L195.06,1044.16L190.3,1039.52L196.88,1038.56ZM230.99,1032.61L233.92,1038.56L240.5,1039.52L235.74,1044.16L236.86,1050.7L230.99,1047.61L225.11,1050.7L226.23,1044.16L221.47,1039.52L228.05,1038.56ZM262.15,1032.61L265.09,1038.56L271.67,1039.52L266.91,1044.16L268.03,1050.7L262.15,1047.61L256.28,1050.7L257.4,1044.16L252.64,1039.52L259.22,1038.56ZM293.33,1032.61L296.26,1038.56L302.84,1039.52L298.08,1044.16L299.2,1050.7L293.33,1047.61L287.45,1050.7L288.57,1044.16L283.81,1039.52L290.39,1038.56ZM324.5,1032.61L327.43,1038.56L334.01,1039.52L329.25,1044.16L330.37,1050.7L324.5,1047.61L318.62,1050.7L319.74,1044.16L314.98,1039.52L321.56,1038.56ZM355.66,1032.61L358.6,1038.56L365.18,1039.52L360.42,1044.16L361.54,1050.7L355.66,1047.61L349.79,1050.7L350.91,1044.16L346.15,1039.52L352.73,1038.56ZM386.84,1032.61L389.77,1038.56L396.35,1039.52L391.59,1044.16L392.71,1050.7L386.84,1047.61L380.96,1050.7L382.08,1044.16L377.32,1039.52L383.9,1038.56ZM418,1032.61L420.94,1038.56L427.52,1039.52L422.76,1044.16L423.88,1050.7L418,1047.61L412.13,1050.7L413.25,1044.16L408.49,1039.52L415.07,1038.56ZM449.17,1032.61L452.11,1038.56L458.69,1039.52L453.93,1044.16L455.05,1050.7L449.17,1047.61L443.3,1050.7L444.42,1044.16L439.66,1039.52L446.24,1038.56ZM480.35,1032.61L483.28,1038.56L489.86,1039.52L485.1,1044.16L486.22,1050.7L480.35,1047.61L474.47,1050.7L475.59,1044.16L470.83,1039.52L477.41,1038.56ZM511.51,1032.61L514.45,1038.56L521.03,1039.52L516.27,1044.16L517.39,1050.7L511.51,1047.61L505.64,1050.7L506.76,1044.16L502,1039.52L508.58,1038.56ZM542.68,1032.61L545.62,1038.56L552.2,1039.52L547.44,1044.16L548.56,1050.7L542.68,1047.61L536.81,1050.7L537.93,1044.16L533.17,1039.52L539.75,1038.56ZM573.86,1032.61L576.79,1038.56L583.37,1039.52L578.61,1044.16L579.73,1050.7L573.86,1047.61L567.98,1050.7L569.1,1044.16L564.34,1039.52L570.92,1038.56ZM605.02,1032.61L607.96,1038.56L614.54,1039.52L609.78,1044.16L610.9,1050.7L605.02,1047.61L599.15,1050.7L600.27,1044.16L595.51,1039.52L602.09,1038.56ZM636.2,1032.61L639.13,1038.56L645.71,1039.52L640.95,1044.16L642.07,1050.7L636.2,1047.61L630.32,1050.7L631.44,1044.16L626.68,1039.52L633.26,1038.56ZM667.37,1032.61L670.3,1038.56L676.88,1039.52L672.12,1044.16L673.24,1050.7L667.37,1047.61L661.49,1050.7L662.61,1044.16L657.85,1039.52L664.43,1038.56ZM698.54,1032.61L701.47,1038.56L708.05,1039.52L703.29,1044.16L704.41,1050.7L698.54,1047.61L692.66,1050.7L693.78,1044.16L689.02,1039.52L695.6,1038.56ZM729.71,1032.61L732.64,1038.56L739.22,1039.52L734.46,1044.16L735.58,1050.7L729.71,1047.61L723.83,1050.7L724.95,1044.16L720.19,1039.52L726.77,1038.56ZM760.88,1032.61L763.81,1038.56L770.39,1039.52L765.63,1044.16L766.75,1050.7L760.88,1047.61L755,1050.7L756.12,1044.16L751.36,1039.52L757.94,1038.56ZM792.05,1032.61L794.98,1038.56L801.56,1039.52L796.8,1044.16L797.92,1050.7L792.05,1047.61L786.17,1050.7L787.29,1044.16L782.53,1039.52L789.11,1038.56ZM823.22,1032.61L826.15,1038.56L832.73,1039.52L827.97,1044.16L829.09,1050.7L823.22,1047.61L817.34,1050.7L818.46,1044.16L813.7,1039.52L820.28,1038.56ZM854.38,1032.61L857.32,1038.56L863.9,1039.52L859.14,1044.16L860.26,1050.7L854.38,1047.61L848.51,1050.7L849.63,1044.16L844.87,1039.52L851.45,1038.56ZM885.56,1032.61L888.49,1038.56L895.07,1039.52L890.31,1044.16L891.43,1050.7L885.56,1047.61L879.68,1050.7L880.8,1044.16L876.04,1039.52L882.62,1038.56ZM916.73,1032.61L919.66,1038.56L926.24,1039.52L921.48,1044.16L922.6,1050.7L916.73,1047.61L910.85,1050.7L911.97,1044.16L907.21,1039.52L913.79,1038.56ZM947.89,1032.61L950.83,1038.56L957.41,1039.52L952.65,1044.16L953.77,1050.7L947.89,1047.61L942.02,1050.7L943.14,1044.16L938.38,1039.52L944.96,1038.56ZM153.06,1063.78L156,1069.73L162.57,1070.69L157.82,1075.33L158.94,1081.87L153.06,1078.78L147.18,1081.87L148.3,1075.33L143.55,1070.69L150.12,1069.73ZM184.23,1063.78L187.17,1069.73L193.74,1070.69L188.99,1075.33L190.11,1081.87L184.23,1078.78L178.35,1081.87L179.47,1075.33L174.72,1070.69L181.29,1069.73ZM215.4,1063.78L218.34,1069.73L224.91,1070.69L220.16,1075.33L221.28,1081.87L215.4,1078.78L209.52,1081.87L210.64,1075.33L205.89,1070.69L212.46,1069.73ZM246.57,1063.78L249.51,1069.73L256.08,1070.69L251.33,1075.33L252.45,1081.87L246.57,1078.78L240.69,1081.87L241.81,1075.33L237.06,1070.69L243.63,1069.73ZM277.74,1063.78L280.68,1069.73L287.25,1070.69L282.5,1075.33L283.62,1081.87L277.74,1078.78L271.86,1081.87L272.98,1075.33L268.23,1070.69L274.8,1069.73ZM308.91,1063.78L311.85,1069.73L318.42,1070.69L313.67,1075.33L314.79,1081.87L308.91,1078.78L303.03,1081.87L304.15,1075.33L299.4,1070.69L305.97,1069.73ZM340.08,1063.78L343.02,1069.73L349.59,1070.69L344.84,1075.33L345.96,1081.87L340.08,1078.78L334.2,1081.87L335.32,1075.33L330.57,1070.69L337.14,1069.73ZM371.25,1063.78L374.19,1069.73L380.76,1070.69L376.01,1075.33L377.13,1081.87L371.25,1078.78L365.37,1081.87L366.49,1075.33L361.74,1070.69L368.31,1069.73ZM402.42,1063.78L405.36,1069.73L411.93,1070.69L407.18,1075.33L408.3,1081.87L402.42,1078.78L396.54,1081.87L397.66,1075.33L392.91,1070.69L399.48,1069.73ZM433.59,1063.78L436.53,1069.73L443.1,1070.69L438.35,1075.33L439.47,1081.87L433.59,1078.78L427.71,1081.87L428.83,1075.33L424.08,1070.69L430.65,1069.73ZM464.76,1063.78L467.7,1069.73L474.27,1070.69L469.52,1075.33L470.64,1081.87L464.76,1078.78L458.88,1081.87L460,1075.33L455.25,1070.69L461.82,1069.73ZM495.93,1063.78L498.87,1069.73L505.44,1070.69L500.69,1075.33L501.81,1081.87L495.93,1078.78L490.05,1081.87L491.17,1075.33L486.42,1070.69L492.99,1069.73ZM527.1,1063.78L530.04,1069.73L536.61,1070.69L531.86,1075.33L532.98,1081.87L527.1,1078.78L521.22,1081.87L522.34,1075.33L517.59,1070.69L524.16,1069.73ZM558.27,1063.78L561.21,1069.73L567.78,1070.69L563.03,1075.33L564.15,1081.87L558.27,1078.78L552.39,1081.87L553.51,1075.33L548.76,1070.69L555.33,1069.73ZM589.44,1063.78L592.38,1069.73L598.95,1070.69L594.2,1075.33L595.32,1081.87L589.44,1078.78L583.56,1081.87L584.68,1075.33L579.93,1070.69L586.5,1069.73ZM620.61,1063.78L623.55,1069.73L630.12,1070.69L625.37,1075.33L626.49,1081.87L620.61,1078.78L614.73,1081.87L615.85,1075.33L611.1,1070.69L617.67,1069.73ZM651.78,1063.78L654.72,1069.73L661.29,1070.69L656.54,1075.33L657.66,1081.87L651.78,1078.78L645.9,1081.87L647.02,1075.33L642.27,1070.69L648.84,1069.73ZM682.95,1063.78L685.89,1069.73L692.46,1070.69L687.71,1075.33L688.83,1081.87L682.95,1078.78L677.07,1081.87L678.19,1075.33L673.44,1070.69L680.01,1069.73ZM714.12,1063.78L717.06,1069.73L723.63,1070.69L718.88,1075.33L720,1081.87L714.12,1078.78L708.24,1081.87L709.36,1075.33L704.61,1070.69L711.18,1069.73ZM745.29,1063.78L748.23,1069.73L754.8,1070.69L750.05,1075.33L751.17,1081.87L745.29,1078.78L739.41,1081.87L740.53,1075.33L735.78,1070.69L742.35,1069.73ZM776.46,1063.78L779.4,1069.73L785.97,1070.69L781.22,1075.33L782.34,1081.87L776.46,1078.78L770.58,1081.87L771.7,1075.33L766.95,1070.69L773.52,1069.73ZM807.63,1063.78L810.57,1069.73L817.14,1070.69L812.39,1075.33L813.51,1081.87L807.63,1078.78L801.75,1081.87L802.87,1075.33L798.12,1070.69L804.69,1069.73ZM838.8,1063.78L841.74,1069.73L848.31,1070.69L843.56,1075.33L844.68,1081.87L838.8,1078.78L832.92,1081.87L834.04,1075.33L829.29,1070.69L835.86,1069.73ZM869.97,1063.78L872.91,1069.73L879.48,1070.69L874.73,1075.33L875.85,1081.87L869.97,1078.78L864.09,1081.87L865.21,1075.33L860.46,1070.69L867.03,1069.73ZM901.14,1063.78L904.08,1069.73L910.65,1070.69L905.9,1075.33L907.02,1081.87L901.14,1078.78L895.26,1081.87L896.38,1075.33L891.63,1070.69L898.2,1069.73ZM932.31,1063.78L935.25,1069.73L941.82,1070.69L937.07,1075.33L938.19,1081.87L932.31,1078.78L926.43,1081.87L927.55,1075.33L922.8,1070.69L929.37,1069.73ZM963.48,1063.78L966.42,1069.73L972.99,1070.69L968.24,1075.33L969.36,1081.87L963.48,1078.78L957.6,1081.87L958.72,1075.33L953.97,1070.69L960.54,1069.73Z" fill="rgb(128,128,128)" fill-opacity="0.35" stroke="rgb(128,128,128)" stroke-opacity="0.37" stroke-width="2.5" stroke-linejoin="miter"/>
<polygon points="192.93,924.1 372.57,939.3 552.21,957.72 731.85,971.54 911.49,969.42 911.49,1022.2 785.74,1025.43 642.03,1024.51 507.3,1020.82 395.92,1017.14 279.16,1006.08 192.93,995.95" fill="none" stroke="rgb(128,128,128)" stroke-opacity="0.37" stroke-width="2.0"/>
<polygon points="192.93,859.91 201.91,862.38 210.89,864.86 219.87,867.33 228.86,869.79 237.84,872.26 246.82,874.72 255.8,877.19 264.78,879.65 273.77,882.11 282.75,884.56 291.73,887.02 300.71,889.47 309.69,891.92 318.68,894.36 327.66,896.8 336.64,899.24 345.62,901.68 354.6,904.11 363.59,906.54 372.57,908.96 381.55,911.38 390.53,913.79 399.51,916.19 408.5,918.59 417.48,920.98 426.46,923.36 435.44,925.74 444.42,928.1 453.41,930.46 462.39,932.8 471.37,935.13 480.35,937.44 489.33,939.74 498.32,942.02 507.3,944.28 516.28,946.51 525.26,948.72 534.24,950.9 543.23,953.05 552.21,955.16 561.19,957.23 570.17,959.26 579.15,961.24 588.14,963.16 597.12,965.02 606.1,966.81 615.08,968.53 624.06,970.18 633.05,971.75 642.03,973.24 651.01,974.66 659.99,976.02 668.97,977.34 677.96,978.6 686.94,979.81 695.92,980.98 704.9,982.1 713.88,983.17 722.87,984.21 731.85,985.22 740.83,986.19 749.81,987.12 758.79,988.04 767.78,988.92 776.76,989.79 785.74,990.63 794.72,991.45 803.7,992.26 812.69,993.05 821.67,993.82 830.65,994.59 839.63,995.34 848.61,996.07 857.6,996.8 866.58,997.52 875.56,998.24 884.54,998.94 893.52,999.64 902.51,1000.33 911.49,1001.01 911.49,1057.87 902.51,1055.52 893.52,1053.19 884.54,1050.86 875.56,1048.56 866.58,1046.27 857.6,1044 848.61,1041.75 839.63,1039.52 830.65,1037.32 821.67,1035.15 812.69,1033.01 803.7,1030.91 794.72,1028.85 785.74,1026.84 776.76,1024.87 767.78,1022.96 758.79,1021.11 749.81,1019.33 740.83,1017.61 731.85,1015.97 722.87,1014.4 713.88,1012.92 704.9,1011.49 695.92,1010.12 686.94,1008.79 677.96,1007.51 668.97,1006.28 659.99,1005.08 651.01,1003.93 642.03,1002.82 633.05,1001.75 624.06,1000.7 615.08,999.69 606.1,998.71 597.12,997.76 588.14,996.83 579.15,995.92 570.17,995.04 561.19,994.17 552.21,993.32 543.23,992.48 534.24,991.67 525.26,990.86 516.28,990.07 507.3,989.28 498.32,988.51 489.33,987.75 480.35,987 471.37,986.25 462.39,985.51 453.41,984.78 444.42,984.06 435.44,983.34 426.46,982.63 417.48,981.92 408.5,981.21 399.51,980.52 390.53,979.82 381.55,979.13 372.57,978.44 363.59,977.76 354.6,977.08 345.62,976.4 336.64,975.73 327.66,975.05 318.68,974.38 309.69,973.72 300.71,973.05 291.73,972.39 282.75,971.73 273.77,971.07 264.78,970.41 255.8,969.75 246.82,969.1 237.84,968.45 228.86,967.79 219.87,967.14 210.89,966.49 201.91,965.85 192.93,965.2" fill="#298f29" fill-opacity="0.3" stroke="#298f29" stroke-opacity="0.3" stroke-width="2.6"/>
<line x1="192.93" y1="914.65" x2="911.49" y2="1030.49" stroke="#298f29" stroke-width="5.19" stroke-dasharray="19.22 8.31"/>
<path d="M372.57,948.37 H552.21 M480.35,1022.85 V878.04 M372.57,937.98 V958.76 M552.21,937.98 V958.76 M469.96,1022.85 H490.74 M469.96,878.04 H490.74 M552.21,988.35 H642.03 M602.33,1026.35 V956.8 M552.21,977.96 V998.74 M642.03,977.96 V998.74 M591.94,1026.35 H612.72 M591.94,956.8 H612.72 M642.03,981.21 H731.85 M687.48,1003.92 V946.2 M642.03,970.82 V991.6 M731.85,970.82 V991.6 M677.09,1003.92 H697.86 M677.09,946.2 H697.86 M731.85,1005.25 H821.67 M776.76,1039.71 V966.47 M731.85,994.87 V1015.64 M821.67,994.87 V1015.64 M766.37,1039.71 H787.15 M766.37,966.47 H787.15 M821.67,1029.21 H911.49 M875.56,1109.72 V948.37 M821.67,1018.82 V1039.59 M911.49,1018.82 V1039.59 M865.17,1109.72 H885.95 M865.17,948.37 H885.95" fill="none" stroke="#298f29" stroke-width="7.79"/>
<circle cx="480.35" cy="948.37" r="12.98" fill="#298f29" stroke="#000" stroke-width="2.6"/>
<circle cx="602.33" cy="988.35" r="12.98" fill="#298f29" stroke="#000" stroke-width="2.6"/>
<circle cx="687.48" cy="981.21" r="12.98" fill="#298f29" stroke="#000" stroke-width="2.6"/>
<circle cx="776.76" cy="1005.25" r="12.98" fill="#298f29" stroke="#000" stroke-width="2.6"/>
<circle cx="875.56" cy="1029.21" r="12.98" fill="#298f29" stroke="#000" stroke-width="2.6"/>
</g>
<rect x="174.2" y="1137.5" width="359.7" height="171.3" rx="5.2" ry="5.2" fill="#fff" fill-opacity="0.8" stroke="#cacaca" stroke-opacity="0.85" stroke-width="2.2"/>
<rect x="189.8" y="1154.8" width="72.5" height="25.2" fill="none" stroke="rgb(128,128,128)" stroke-opacity="0.37" stroke-width="2.2"/>
<text x="291.39" y="1180.4" font-size="36.36">Aird+15</text>
<clipPath id="c2h1"><rect x="189.8" y="1208.2" width="72.5" height="25.2"/></clipPath>
<path clip-path="url(#c2h1)" d="M187.8,1179.31 L264.3,1102.81 M187.8,1194.89 L264.3,1118.39 M187.8,1210.47 L264.3,1133.97 M187.8,1226.06 L264.3,1149.56 M187.8,1241.64 L264.3,1165.14 M187.8,1257.23 L264.3,1180.73 M187.8,1272.81 L264.3,1196.31 M187.8,1288.4 L264.3,1211.9 M187.8,1303.98 L264.3,1227.48 M187.8,1319.57 L264.3,1243.07 M187.8,1335.15 L264.3,1258.65" fill="none" stroke="rgb(128,128,128)" stroke-opacity="0.37" stroke-width="2.0"/>
<rect x="189.8" y="1208.2" width="72.5" height="25.2" fill="none" stroke="rgb(128,128,128)" stroke-opacity="0.37" stroke-width="2.2"/>
<text x="291.39" y="1233.9" font-size="36.36">Buchner+15</text>
<clipPath id="c2h2"><rect x="189.8" y="1261.6" width="72.5" height="25.2"/></clipPath>
<path clip-path="url(#c2h2)" d="M153.06,1188.46L156,1194.41L162.57,1195.37L157.82,1200.01L158.94,1206.55L153.06,1203.46L147.18,1206.55L148.3,1200.01L143.55,1195.37L150.12,1194.41ZM184.23,1188.46L187.17,1194.41L193.74,1195.37L188.99,1200.01L190.11,1206.55L184.23,1203.46L178.35,1206.55L179.47,1200.01L174.72,1195.37L181.29,1194.41ZM215.4,1188.46L218.34,1194.41L224.91,1195.37L220.16,1200.01L221.28,1206.55L215.4,1203.46L209.52,1206.55L210.64,1200.01L205.89,1195.37L212.46,1194.41ZM246.57,1188.46L249.51,1194.41L256.08,1195.37L251.33,1200.01L252.45,1206.55L246.57,1203.46L240.69,1206.55L241.81,1200.01L237.06,1195.37L243.63,1194.41ZM277.74,1188.46L280.68,1194.41L287.25,1195.37L282.5,1200.01L283.62,1206.55L277.74,1203.46L271.86,1206.55L272.98,1200.01L268.23,1195.37L274.8,1194.41ZM308.91,1188.46L311.85,1194.41L318.42,1195.37L313.67,1200.01L314.79,1206.55L308.91,1203.46L303.03,1206.55L304.15,1200.01L299.4,1195.37L305.97,1194.41ZM137.47,1219.63L140.41,1225.58L146.99,1226.54L142.23,1231.18L143.35,1237.72L137.47,1234.63L131.6,1237.72L132.72,1231.18L127.96,1226.54L134.54,1225.58ZM168.64,1219.63L171.58,1225.58L178.16,1226.54L173.4,1231.18L174.52,1237.72L168.64,1234.63L162.77,1237.72L163.89,1231.18L159.13,1226.54L165.71,1225.58ZM199.81,1219.63L202.75,1225.58L209.33,1226.54L204.57,1231.18L205.69,1237.72L199.81,1234.63L193.94,1237.72L195.06,1231.18L190.3,1226.54L196.88,1225.58ZM230.99,1219.63L233.92,1225.58L240.5,1226.54L235.74,1231.18L236.86,1237.72L230.99,1234.63L225.11,1237.72L226.23,1231.18L221.47,1226.54L228.05,1225.58ZM262.15,1219.63L265.09,1225.58L271.67,1226.54L266.91,1231.18L268.03,1237.72L262.15,1234.63L256.28,1237.72L257.4,1231.18L252.64,1226.54L259.22,1225.58ZM293.33,1219.63L296.26,1225.58L302.84,1226.54L298.08,1231.18L299.2,1237.72L293.33,1234.63L287.45,1237.72L288.57,1231.18L283.81,1226.54L290.39,1225.58ZM324.5,1219.63L327.43,1225.58L334.01,1226.54L329.25,1231.18L330.37,1237.72L324.5,1234.63L318.62,1237.72L319.74,1231.18L314.98,1226.54L321.56,1225.58ZM153.06,1250.8L156,1256.75L162.57,1257.71L157.82,1262.35L158.94,1268.89L153.06,1265.8L147.18,1268.89L148.3,1262.35L143.55,1257.71L150.12,1256.75ZM184.23,1250.8L187.17,1256.75L193.74,1257.71L188.99,1262.35L190.11,1268.89L184.23,1265.8L178.35,1268.89L179.47,1262.35L174.72,1257.71L181.29,1256.75ZM215.4,1250.8L218.34,1256.75L224.91,1257.71L220.16,1262.35L221.28,1268.89L215.4,1265.8L209.52,1268.89L210.64,1262.35L205.89,1257.71L212.46,1256.75ZM246.57,1250.8L249.51,1256.75L256.08,1257.71L251.33,1262.35L252.45,1268.89L246.57,1265.8L240.69,1268.89L241.81,1262.35L237.06,1257.71L243.63,1256.75ZM277.74,1250.8L280.68,1256.75L287.25,1257.71L282.5,1262.35L283.62,1268.89L277.74,1265.8L271.86,1268.89L272.98,1262.35L268.23,1257.71L274.8,1256.75ZM308.91,1250.8L311.85,1256.75L318.42,1257.71L313.67,1262.35L314.79,1268.89L308.91,1265.8L303.03,1268.89L304.15,1262.35L299.4,1257.71L305.97,1256.75ZM137.47,1281.97L140.41,1287.92L146.99,1288.88L142.23,1293.52L143.35,1300.06L137.47,1296.97L131.6,1300.06L132.72,1293.52L127.96,1288.88L134.54,1287.92ZM168.64,1281.97L171.58,1287.92L178.16,1288.88L173.4,1293.52L174.52,1300.06L168.64,1296.97L162.77,1300.06L163.89,1293.52L159.13,1288.88L165.71,1287.92ZM199.81,1281.97L202.75,1287.92L209.33,1288.88L204.57,1293.52L205.69,1300.06L199.81,1296.97L193.94,1300.06L195.06,1293.52L190.3,1288.88L196.88,1287.92ZM230.99,1281.97L233.92,1287.92L240.5,1288.88L235.74,1293.52L236.86,1300.06L230.99,1296.97L225.11,1300.06L226.23,1293.52L221.47,1288.88L228.05,1287.92ZM262.15,1281.97L265.09,1287.92L271.67,1288.88L266.91,1293.52L268.03,1300.06L262.15,1296.97L256.28,1300.06L257.4,1293.52L252.64,1288.88L259.22,1287.92ZM293.33,1281.97L296.26,1287.92L302.84,1288.88L298.08,1293.52L299.2,1300.06L293.33,1296.97L287.45,1300.06L288.57,1293.52L283.81,1288.88L290.39,1287.92ZM324.5,1281.97L327.43,1287.92L334.01,1288.88L329.25,1293.52L330.37,1300.06L324.5,1296.97L318.62,1300.06L319.74,1293.52L314.98,1288.88L321.56,1287.92ZM153.06,1313.14L156,1319.09L162.57,1320.05L157.82,1324.69L158.94,1331.23L153.06,1328.14L147.18,1331.23L148.3,1324.69L143.55,1320.05L150.12,1319.09ZM184.23,1313.14L187.17,1319.09L193.74,1320.05L188.99,1324.69L190.11,1331.23L184.23,1328.14L178.35,1331.23L179.47,1324.69L174.72,1320.05L181.29,1319.09ZM215.4,1313.14L218.34,1319.09L224.91,1320.05L220.16,1324.69L221.28,1331.23L215.4,1328.14L209.52,1331.23L210.64,1324.69L205.89,1320.05L212.46,1319.09ZM246.57,1313.14L249.51,1319.09L256.08,1320.05L251.33,1324.69L252.45,1331.23L246.57,1328.14L240.69,1331.23L241.81,1324.69L237.06,1320.05L243.63,1319.09ZM277.74,1313.14L280.68,1319.09L287.25,1320.05L282.5,1324.69L283.62,1331.23L277.74,1328.14L271.86,1331.23L272.98,1324.69L268.23,1320.05L274.8,1319.09ZM308.91,1313.14L311.85,1319.09L318.42,1320.05L313.67,1324.69L314.79,1331.23L308.91,1328.14L303.03,1331.23L304.15,1324.69L299.4,1320.05L305.97,1319.09Z" fill="rgb(128,128,128)" fill-opacity="0.35" stroke="rgb(128,128,128)" stroke-opacity="0.37" stroke-width="2.0"/>
<rect x="189.8" y="1261.6" width="72.5" height="25.2" fill="none" stroke="rgb(128,128,128)" stroke-opacity="0.37" stroke-width="2.2"/>
<text x="291.39" y="1287.4" font-size="36.36">Ananna+19</text>
<path d="M192.93,1326.2 v-9.09 M192.93,773.4 v9.09 M372.57,1326.2 v-9.09 M372.57,773.4 v9.09 M552.21,1326.2 v-9.09 M552.21,773.4 v9.09 M731.85,1326.2 v-9.09 M731.85,773.4 v9.09 M911.49,1326.2 v-9.09 M911.49,773.4 v9.09 M157,1280.14 h9.09 M947.6,1280.14 h-9.09 M157,1164.99 h9.09 M947.6,1164.99 h-9.09 M157,1049.84 h9.09 M947.6,1049.84 h-9.09 M157,934.69 h9.09 M947.6,934.69 h-9.09 M157,819.54 h9.09 M947.6,819.54 h-9.09" fill="none" stroke="#000" stroke-width="2.08"/>
<rect x="157" y="773.4" width="790.6" height="552.8" fill="none" stroke="#000" stroke-width="2.08"/>
<text transform="translate(192.93,1368.8) scale(1,1.04)" font-size="41.55" text-anchor="middle">42</text>
<text transform="translate(372.57,1368.8) scale(1,1.04)" font-size="41.55" text-anchor="middle">43</text>
<text transform="translate(552.21,1368.8) scale(1,1.04)" font-size="41.55" text-anchor="middle">44</text>
<text transform="translate(731.85,1368.8) scale(1,1.04)" font-size="41.55" text-anchor="middle">45</text>
<text transform="translate(911.49,1368.8) scale(1,1.04)" font-size="41.55" text-anchor="middle">46</text>
<text transform="translate(147.41,1296.14) scale(1,1.04)" font-size="41.55" text-anchor="end">0.00</text>
<text transform="translate(147.41,1180.99) scale(1,1.04)" font-size="41.55" text-anchor="end">0.25</text>
<text transform="translate(147.41,1065.84) scale(1,1.04)" font-size="41.55" text-anchor="end">0.50</text>
<text transform="translate(147.41,950.69) scale(1,1.04)" font-size="41.55" text-anchor="end">0.75</text>
<text transform="translate(147.41,835.54) scale(1,1.04)" font-size="41.55" text-anchor="end">1.00</text>
<text transform="translate(552.3,758.2) scale(1,1.05)" font-size="49.56" text-anchor="middle">2&lt;z&lt;3</text>
<text x="330.2" y="1418" font-size="41.55" letter-spacing="0.14" xml:space="preserve">log Hard Lum [erg/s]</text>
<text transform="translate(33.3,1049.8) rotate(-90)" font-size="41.55" text-anchor="middle"><tspan font-style="italic">F</tspan><tspan font-style="italic" font-size="29.08" dy="6.8">CN</tspan><tspan dy="-6.8" dx="1.3">(</tspan><tspan font-style="italic">L</tspan><tspan font-style="italic" font-size="29.08" dy="6.8">X</tspan><tspan dy="-6.8" dx="1.3">)</tspan></text>
</g>
<g id="panel3">
<clipPath id="c3"><rect x="1106.3" y="773.4" width="790.6" height="552.8"/></clipPath>
<g clip-path="url(#c3)">
<polygon points="1142.23,914.42 1329.95,945.93 1429.65,960.02 1481.75,965.32 1519.47,961.54 1568.51,936.53 1593.12,927.78 1644.32,919.03 1719.95,908.9 1860.79,888.17 1860.79,1115.52 1773.66,1083.14 1690.13,1055.83 1596.72,1051.54 1510.49,1063.2 1481.75,1068.13 1370.37,1058.13 1289.53,1046.16 1142.23,1031.88" fill="none" stroke="rgb(128,128,128)" stroke-opacity="0.37" stroke-width="2.0" stroke-linejoin="miter"/>
<clipPath id="c3b"><polygon points="1142.23,986.97 1210.49,982.13 1269.77,968.31 1330.85,956.34 1390.13,942.29 1406.3,938.84 1463.24,929.3 1519.47,927.41 1541.03,927.09 1562.59,950.35 1580.55,960.48 1606.6,966.93 1638.03,975.68 1717.08,983.28 1860.79,983.05 1860.79,1067.34 1774.56,1067.34 1669.47,1045.23 1618.99,1023.72 1606.42,1013.59 1581.09,999.63 1568.51,988.35 1549.47,972 1519.47,962.33 1501.51,965.32 1463.24,974.76 1434.68,984.25 1406.3,994.57 1368.57,1008.85 1350.61,1015.76 1289.53,1043.85 1224.86,1077.94 1142.23,1095.9"/></clipPath>
<path clip-path="url(#c3b)" d="M1140.23,897.03 L1862.79,174.47 M1140.23,912.62 L1862.79,190.06 M1140.23,928.2 L1862.79,205.64 M1140.23,943.79 L1862.79,221.23 M1140.23,959.37 L1862.79,236.81 M1140.23,974.96 L1862.79,252.4 M1140.23,990.54 L1862.79,267.98 M1140.23,1006.13 L1862.79,283.57 M1140.23,1021.71 L1862.79,299.15 M1140.23,1037.3 L1862.79,314.74 M1140.23,1052.88 L1862.79,330.32 M1140.23,1068.47 L1862.79,345.91 M1140.23,1084.05 L1862.79,361.49 M1140.23,1099.64 L1862.79,377.08 M1140.23,1115.22 L1862.79,392.66 M1140.23,1130.81 L1862.79,408.25 M1140.23,1146.39 L1862.79,423.83 M1140.23,1161.98 L1862.79,439.42 M1140.23,1177.56 L1862.79,455 M1140.23,1193.15 L1862.79,470.59 M1140.23,1208.73 L1862.79,486.17 M1140.23,1224.32 L1862.79,501.76 M1140.23,1239.9 L1862.79,517.34 M1140.23,1255.49 L1862.79,532.93 M1140.23,1271.07 L1862.79,548.51 M1140.23,1286.66 L1862.79,564.1 M1140.23,1302.24 L1862.79,579.68 M1140.23,1317.83 L1862.79,595.27 M1140.23,1333.41 L1862.79,610.85 M1140.23,1349 L1862.79,626.44 M1140.23,1364.58 L1862.79,642.02 M1140.23,1380.17 L1862.79,657.61 M1140.23,1395.75 L1862.79,673.19 M1140.23,1411.34 L1862.79,688.78 M1140.23,1426.92 L1862.79,704.36 M1140.23,1442.51 L1862.79,719.95 M1140.23,1458.09 L1862.79,735.53 M1140.23,1473.68 L1862.79,751.12 M1140.23,1489.26 L1862.79,766.7 M1140.23,1504.85 L1862.79,782.29 M1140.23,1520.43 L1862.79,797.87 M1140.23,1536.02 L1862.79,813.46 M1140.23,1551.6 L1862.79,829.04 M1140.23,1567.19 L1862.79,844.63 M1140.23,1582.77 L1862.79,860.21 M1140.23,1598.36 L1862.79,875.8 M1140.23,1613.94 L1862.79,891.38 M1140.23,1629.53 L1862.79,906.97 M1140.23,1645.11 L1862.79,922.55 M1140.23,1660.7 L1862.79,938.14 M1140.23,1676.28 L1862.79,953.72 M1140.23,1691.87 L1862.79,969.31 M1140.23,1707.45 L1862.79,984.89 M1140.23,1723.04 L1862.79,1000.48 M1140.23,1738.62 L1862.79,1016.06 M1140.23,1754.21 L1862.79,1031.65 M1140.23,1769.79 L1862.79,1047.23 M1140.23,1785.38 L1862.79,1062.82 M1140.23,1800.96 L1862.79,1078.4 M1140.23,1816.55 L1862.79,1093.99 M1140.23,1832.13 L1862.79,1109.57 M1140.23,1847.72 L1862.79,1125.16" fill="none" stroke="rgb(128,128,128)" stroke-opacity="0.37" stroke-width="1.75"/>
<polygon points="1142.23,986.97 1210.49,982.13 1269.77,968.31 1330.85,956.34 1390.13,942.29 1406.3,938.84 1463.24,929.3 1519.47,927.41 1541.03,927.09 1562.59,950.35 1580.55,960.48 1606.6,966.93 1638.03,975.68 1717.08,983.28 1860.79,983.05 1860.79,1067.34 1774.56,1067.34 1669.47,1045.23 1618.99,1023.72 1606.42,1013.59 1581.09,999.63 1568.51,988.35 1549.47,972 1519.47,962.33 1501.51,965.32 1463.24,974.76 1434.68,984.25 1406.3,994.57 1368.57,1008.85 1350.61,1015.76 1289.53,1043.85 1224.86,1077.94 1142.23,1095.9" fill="none" stroke="rgb(128,128,128)" stroke-opacity="0.37" stroke-width="2.0"/>
<clipPath id="c3a"><polygon points="1142.23,913.96 1282.35,936.99 1377.56,944.45 1435.04,949.66 1496.12,954.5 1591.33,957.72 1650.61,956.8 1719.95,954.27 1860.79,946.2 1860.79,1013.64 1681.15,1019.9 1510.49,1016.45 1370.37,1010.23 1269.77,1000.1 1142.23,986.28"/></clipPath>
<g clip-path="url(#c3b)"><g clip-path="url(#c3a)"><path d="M1140.23,900.33 L1862.79,177.77 M1140.23,915.92 L1862.79,193.36 M1140.23,931.5 L1862.79,208.94 M1140.23,947.09 L1862.79,224.53 M1140.23,962.67 L1862.79,240.11 M1140.23,978.26 L1862.79,255.7 M1140.23,993.84 L1862.79,271.28 M1140.23,1009.43 L1862.79,286.87 M1140.23,1025.01 L1862.79,302.45 M1140.23,1040.6 L1862.79,318.04 M1140.23,1056.18 L1862.79,333.62 M1140.23,1071.77 L1862.79,349.21 M1140.23,1087.35 L1862.79,364.79 M1140.23,1102.94 L1862.79,380.38 M1140.23,1118.52 L1862.79,395.96 M1140.23,1134.11 L1862.79,411.55 M1140.23,1149.69 L1862.79,427.13 M1140.23,1165.28 L1862.79,442.72 M1140.23,1180.86 L1862.79,458.3 M1140.23,1196.45 L1862.79,473.89 M1140.23,1212.03 L1862.79,489.47 M1140.23,1227.62 L1862.79,505.06 M1140.23,1243.2 L1862.79,520.64 M1140.23,1258.79 L1862.79,536.23 M1140.23,1274.37 L1862.79,551.81 M1140.23,1289.96 L1862.79,567.4 M1140.23,1305.54 L1862.79,582.98 M1140.23,1321.13 L1862.79,598.57 M1140.23,1336.71 L1862.79,614.15 M1140.23,1352.3 L1862.79,629.74 M1140.23,1367.88 L1862.79,645.32 M1140.23,1383.47 L1862.79,660.91 M1140.23,1399.05 L1862.79,676.49 M1140.23,1414.64 L1862.79,692.08 M1140.23,1430.22 L1862.79,707.66 M1140.23,1445.81 L1862.79,723.25 M1140.23,1461.39 L1862.79,738.83 M1140.23,1476.98 L1862.79,754.42 M1140.23,1492.56 L1862.79,770 M1140.23,1508.15 L1862.79,785.59 M1140.23,1523.73 L1862.79,801.17 M1140.23,1539.32 L1862.79,816.76 M1140.23,1554.9 L1862.79,832.34 M1140.23,1570.49 L1862.79,847.93 M1140.23,1586.07 L1862.79,863.51 M1140.23,1601.66 L1862.79,879.1 M1140.23,1617.24 L1862.79,894.68 M1140.23,1632.83 L1862.79,910.27 M1140.23,1648.41 L1862.79,925.85 M1140.23,1664 L1862.79,941.44 M1140.23,1679.58 L1862.79,957.02 M1140.23,1695.17 L1862.79,972.61 M1140.23,1710.75 L1862.79,988.19 M1140.23,1726.34 L1862.79,1003.78 M1140.23,1741.92 L1862.79,1019.36 M1140.23,1757.51 L1862.79,1034.95 M1140.23,1773.09 L1862.79,1050.53 M1140.23,1788.68 L1862.79,1066.12 M1140.23,1804.26 L1862.79,1081.7 M1140.23,1819.85 L1862.79,1097.29 M1140.23,1835.43 L1862.79,1112.87 M1140.23,1851.02 L1862.79,1128.46" fill="none" stroke="rgb(128,128,128)" stroke-opacity="0.37" stroke-width="1.75"/></g></g>
<path clip-path="url(#c3a)" d="M1103.75,845.59L1106.68,851.54L1113.26,852.5L1108.5,857.14L1109.62,863.68L1103.75,860.59L1097.87,863.68L1098.99,857.14L1094.23,852.5L1100.81,851.54ZM1134.91,845.59L1137.85,851.54L1144.43,852.5L1139.67,857.14L1140.79,863.68L1134.91,860.59L1129.04,863.68L1130.16,857.14L1125.4,852.5L1131.98,851.54ZM1166.09,845.59L1169.02,851.54L1175.6,852.5L1170.84,857.14L1171.96,863.68L1166.09,860.59L1160.21,863.68L1161.33,857.14L1156.57,852.5L1163.15,851.54ZM1197.26,845.59L1200.19,851.54L1206.77,852.5L1202.01,857.14L1203.13,863.68L1197.26,860.59L1191.38,863.68L1192.5,857.14L1187.74,852.5L1194.32,851.54ZM1228.42,845.59L1231.36,851.54L1237.94,852.5L1233.18,857.14L1234.3,863.68L1228.42,860.59L1222.55,863.68L1223.67,857.14L1218.91,852.5L1225.49,851.54ZM1259.6,845.59L1262.53,851.54L1269.11,852.5L1264.35,857.14L1265.47,863.68L1259.6,860.59L1253.72,863.68L1254.84,857.14L1250.08,852.5L1256.66,851.54ZM1290.77,845.59L1293.7,851.54L1300.28,852.5L1295.52,857.14L1296.64,863.68L1290.77,860.59L1284.89,863.68L1286.01,857.14L1281.25,852.5L1287.83,851.54ZM1321.93,845.59L1324.87,851.54L1331.45,852.5L1326.69,857.14L1327.81,863.68L1321.93,860.59L1316.06,863.68L1317.18,857.14L1312.42,852.5L1319,851.54ZM1353.11,845.59L1356.04,851.54L1362.62,852.5L1357.86,857.14L1358.98,863.68L1353.11,860.59L1347.23,863.68L1348.35,857.14L1343.59,852.5L1350.17,851.54ZM1384.28,845.59L1387.21,851.54L1393.79,852.5L1389.03,857.14L1390.15,863.68L1384.28,860.59L1378.4,863.68L1379.52,857.14L1374.76,852.5L1381.34,851.54ZM1415.45,845.59L1418.38,851.54L1424.96,852.5L1420.2,857.14L1421.32,863.68L1415.45,860.59L1409.57,863.68L1410.69,857.14L1405.93,852.5L1412.51,851.54ZM1446.62,845.59L1449.55,851.54L1456.13,852.5L1451.37,857.14L1452.49,863.68L1446.62,860.59L1440.74,863.68L1441.86,857.14L1437.1,852.5L1443.68,851.54ZM1477.79,845.59L1480.72,851.54L1487.3,852.5L1482.54,857.14L1483.66,863.68L1477.79,860.59L1471.91,863.68L1473.03,857.14L1468.27,852.5L1474.85,851.54ZM1508.95,845.59L1511.89,851.54L1518.47,852.5L1513.71,857.14L1514.83,863.68L1508.95,860.59L1503.08,863.68L1504.2,857.14L1499.44,852.5L1506.02,851.54ZM1540.12,845.59L1543.06,851.54L1549.64,852.5L1544.88,857.14L1546,863.68L1540.12,860.59L1534.25,863.68L1535.37,857.14L1530.61,852.5L1537.19,851.54ZM1571.3,845.59L1574.23,851.54L1580.81,852.5L1576.05,857.14L1577.17,863.68L1571.3,860.59L1565.42,863.68L1566.54,857.14L1561.78,852.5L1568.36,851.54ZM1602.47,845.59L1605.4,851.54L1611.98,852.5L1607.22,857.14L1608.34,863.68L1602.47,860.59L1596.59,863.68L1597.71,857.14L1592.95,852.5L1599.53,851.54ZM1633.63,845.59L1636.57,851.54L1643.15,852.5L1638.39,857.14L1639.51,863.68L1633.63,860.59L1627.76,863.68L1628.88,857.14L1624.12,852.5L1630.7,851.54ZM1664.81,845.59L1667.74,851.54L1674.32,852.5L1669.56,857.14L1670.68,863.68L1664.81,860.59L1658.93,863.68L1660.05,857.14L1655.29,852.5L1661.87,851.54ZM1695.97,845.59L1698.91,851.54L1705.49,852.5L1700.73,857.14L1701.85,863.68L1695.97,860.59L1690.1,863.68L1691.22,857.14L1686.46,852.5L1693.04,851.54ZM1727.14,845.59L1730.08,851.54L1736.66,852.5L1731.9,857.14L1733.02,863.68L1727.14,860.59L1721.27,863.68L1722.39,857.14L1717.63,852.5L1724.21,851.54ZM1758.32,845.59L1761.25,851.54L1767.83,852.5L1763.07,857.14L1764.19,863.68L1758.32,860.59L1752.44,863.68L1753.56,857.14L1748.8,852.5L1755.38,851.54ZM1789.49,845.59L1792.42,851.54L1799,852.5L1794.24,857.14L1795.36,863.68L1789.49,860.59L1783.61,863.68L1784.73,857.14L1779.97,852.5L1786.55,851.54ZM1820.66,845.59L1823.59,851.54L1830.17,852.5L1825.41,857.14L1826.53,863.68L1820.66,860.59L1814.78,863.68L1815.9,857.14L1811.14,852.5L1817.72,851.54ZM1851.83,845.59L1854.76,851.54L1861.34,852.5L1856.58,857.14L1857.7,863.68L1851.83,860.59L1845.95,863.68L1847.07,857.14L1842.31,852.5L1848.89,851.54ZM1883,845.59L1885.93,851.54L1892.51,852.5L1887.75,857.14L1888.87,863.68L1883,860.59L1877.12,863.68L1878.24,857.14L1873.48,852.5L1880.06,851.54ZM1914.16,845.59L1917.1,851.54L1923.68,852.5L1918.92,857.14L1920.04,863.68L1914.16,860.59L1908.29,863.68L1909.41,857.14L1904.65,852.5L1911.23,851.54ZM1088.16,876.76L1091.1,882.71L1097.67,883.67L1092.92,888.31L1094.04,894.85L1088.16,891.76L1082.28,894.85L1083.4,888.31L1078.65,883.67L1085.22,882.71ZM1119.33,876.76L1122.27,882.71L1128.84,883.67L1124.09,888.31L1125.21,894.85L1119.33,891.76L1113.45,894.85L1114.57,888.31L1109.82,883.67L1116.39,882.71ZM1150.5,876.76L1153.44,882.71L1160.01,883.67L1155.26,888.31L1156.38,894.85L1150.5,891.76L1144.62,894.85L1145.74,888.31L1140.99,883.67L1147.56,882.71ZM1181.67,876.76L1184.61,882.71L1191.18,883.67L1186.43,888.31L1187.55,894.85L1181.67,891.76L1175.79,894.85L1176.91,888.31L1172.16,883.67L1178.73,882.71ZM1212.84,876.76L1215.78,882.71L1222.35,883.67L1217.6,888.31L1218.72,894.85L1212.84,891.76L1206.96,894.85L1208.08,888.31L1203.33,883.67L1209.9,882.71ZM1244.01,876.76L1246.95,882.71L1253.52,883.67L1248.77,888.31L1249.89,894.85L1244.01,891.76L1238.13,894.85L1239.25,888.31L1234.5,883.67L1241.07,882.71ZM1275.18,876.76L1278.12,882.71L1284.69,883.67L1279.94,888.31L1281.06,894.85L1275.18,891.76L1269.3,894.85L1270.42,888.31L1265.67,883.67L1272.24,882.71ZM1306.35,876.76L1309.29,882.71L1315.86,883.67L1311.11,888.31L1312.23,894.85L1306.35,891.76L1300.47,894.85L1301.59,888.31L1296.84,883.67L1303.41,882.71ZM1337.52,876.76L1340.46,882.71L1347.03,883.67L1342.28,888.31L1343.4,894.85L1337.52,891.76L1331.64,894.85L1332.76,888.31L1328.01,883.67L1334.58,882.71ZM1368.69,876.76L1371.63,882.71L1378.2,883.67L1373.45,888.31L1374.57,894.85L1368.69,891.76L1362.81,894.85L1363.93,888.31L1359.18,883.67L1365.75,882.71ZM1399.86,876.76L1402.8,882.71L1409.37,883.67L1404.62,888.31L1405.74,894.85L1399.86,891.76L1393.98,894.85L1395.1,888.31L1390.35,883.67L1396.92,882.71ZM1431.03,876.76L1433.97,882.71L1440.54,883.67L1435.79,888.31L1436.91,894.85L1431.03,891.76L1425.15,894.85L1426.27,888.31L1421.52,883.67L1428.09,882.71ZM1462.2,876.76L1465.14,882.71L1471.71,883.67L1466.96,888.31L1468.08,894.85L1462.2,891.76L1456.32,894.85L1457.44,888.31L1452.69,883.67L1459.26,882.71ZM1493.37,876.76L1496.31,882.71L1502.88,883.67L1498.13,888.31L1499.25,894.85L1493.37,891.76L1487.49,894.85L1488.61,888.31L1483.86,883.67L1490.43,882.71ZM1524.54,876.76L1527.48,882.71L1534.05,883.67L1529.3,888.31L1530.42,894.85L1524.54,891.76L1518.66,894.85L1519.78,888.31L1515.03,883.67L1521.6,882.71ZM1555.71,876.76L1558.65,882.71L1565.22,883.67L1560.47,888.31L1561.59,894.85L1555.71,891.76L1549.83,894.85L1550.95,888.31L1546.2,883.67L1552.77,882.71ZM1586.88,876.76L1589.82,882.71L1596.39,883.67L1591.64,888.31L1592.76,894.85L1586.88,891.76L1581,894.85L1582.12,888.31L1577.37,883.67L1583.94,882.71ZM1618.05,876.76L1620.99,882.71L1627.56,883.67L1622.81,888.31L1623.93,894.85L1618.05,891.76L1612.17,894.85L1613.29,888.31L1608.54,883.67L1615.11,882.71ZM1649.22,876.76L1652.16,882.71L1658.73,883.67L1653.98,888.31L1655.1,894.85L1649.22,891.76L1643.34,894.85L1644.46,888.31L1639.71,883.67L1646.28,882.71ZM1680.39,876.76L1683.33,882.71L1689.9,883.67L1685.15,888.31L1686.27,894.85L1680.39,891.76L1674.51,894.85L1675.63,888.31L1670.88,883.67L1677.45,882.71ZM1711.56,876.76L1714.5,882.71L1721.07,883.67L1716.32,888.31L1717.44,894.85L1711.56,891.76L1705.68,894.85L1706.8,888.31L1702.05,883.67L1708.62,882.71ZM1742.73,876.76L1745.67,882.71L1752.24,883.67L1747.49,888.31L1748.61,894.85L1742.73,891.76L1736.85,894.85L1737.97,888.31L1733.22,883.67L1739.79,882.71ZM1773.9,876.76L1776.84,882.71L1783.41,883.67L1778.66,888.31L1779.78,894.85L1773.9,891.76L1768.02,894.85L1769.14,888.31L1764.39,883.67L1770.96,882.71ZM1805.07,876.76L1808.01,882.71L1814.58,883.67L1809.83,888.31L1810.95,894.85L1805.07,891.76L1799.19,894.85L1800.31,888.31L1795.56,883.67L1802.13,882.71ZM1836.24,876.76L1839.18,882.71L1845.75,883.67L1841,888.31L1842.12,894.85L1836.24,891.76L1830.36,894.85L1831.48,888.31L1826.73,883.67L1833.3,882.71ZM1867.41,876.76L1870.35,882.71L1876.92,883.67L1872.17,888.31L1873.29,894.85L1867.41,891.76L1861.53,894.85L1862.65,888.31L1857.9,883.67L1864.47,882.71ZM1898.58,876.76L1901.52,882.71L1908.09,883.67L1903.34,888.31L1904.46,894.85L1898.58,891.76L1892.7,894.85L1893.82,888.31L1889.07,883.67L1895.64,882.71ZM1103.75,907.93L1106.68,913.88L1113.26,914.84L1108.5,919.48L1109.62,926.02L1103.75,922.93L1097.87,926.02L1098.99,919.48L1094.23,914.84L1100.81,913.88ZM1134.91,907.93L1137.85,913.88L1144.43,914.84L1139.67,919.48L1140.79,926.02L1134.91,922.93L1129.04,926.02L1130.16,919.48L1125.4,914.84L1131.98,913.88ZM1166.09,907.93L1169.02,913.88L1175.6,914.84L1170.84,919.48L1171.96,926.02L1166.09,922.93L1160.21,926.02L1161.33,919.48L1156.57,914.84L1163.15,913.88ZM1197.26,907.93L1200.19,913.88L1206.77,914.84L1202.01,919.48L1203.13,926.02L1197.26,922.93L1191.38,926.02L1192.5,919.48L1187.74,914.84L1194.32,913.88ZM1228.42,907.93L1231.36,913.88L1237.94,914.84L1233.18,919.48L1234.3,926.02L1228.42,922.93L1222.55,926.02L1223.67,919.48L1218.91,914.84L1225.49,913.88ZM1259.6,907.93L1262.53,913.88L1269.11,914.84L1264.35,919.48L1265.47,926.02L1259.6,922.93L1253.72,926.02L1254.84,919.48L1250.08,914.84L1256.66,913.88ZM1290.77,907.93L1293.7,913.88L1300.28,914.84L1295.52,919.48L1296.64,926.02L1290.77,922.93L1284.89,926.02L1286.01,919.48L1281.25,914.84L1287.83,913.88ZM1321.93,907.93L1324.87,913.88L1331.45,914.84L1326.69,919.48L1327.81,926.02L1321.93,922.93L1316.06,926.02L1317.18,919.48L1312.42,914.84L1319,913.88ZM1353.11,907.93L1356.04,913.88L1362.62,914.84L1357.86,919.48L1358.98,926.02L1353.11,922.93L1347.23,926.02L1348.35,919.48L1343.59,914.84L1350.17,913.88ZM1384.28,907.93L1387.21,913.88L1393.79,914.84L1389.03,919.48L1390.15,926.02L1384.28,922.93L1378.4,926.02L1379.52,919.48L1374.76,914.84L1381.34,913.88ZM1415.45,907.93L1418.38,913.88L1424.96,914.84L1420.2,919.48L1421.32,926.02L1415.45,922.93L1409.57,926.02L1410.69,919.48L1405.93,914.84L1412.51,913.88ZM1446.62,907.93L1449.55,913.88L1456.13,914.84L1451.37,919.48L1452.49,926.02L1446.62,922.93L1440.74,926.02L1441.86,919.48L1437.1,914.84L1443.68,913.88ZM1477.79,907.93L1480.72,913.88L1487.3,914.84L1482.54,919.48L1483.66,926.02L1477.79,922.93L1471.91,926.02L1473.03,919.48L1468.27,914.84L1474.85,913.88ZM1508.95,907.93L1511.89,913.88L1518.47,914.84L1513.71,919.48L1514.83,926.02L1508.95,922.93L1503.08,926.02L1504.2,919.48L1499.44,914.84L1506.02,913.88ZM1540.12,907.93L1543.06,913.88L1549.64,914.84L1544.88,919.48L1546,926.02L1540.12,922.93L1534.25,926.02L1535.37,919.48L1530.61,914.84L1537.19,913.88ZM1571.3,907.93L1574.23,913.88L1580.81,914.84L1576.05,919.48L1577.17,926.02L1571.3,922.93L1565.42,926.02L1566.54,919.48L1561.78,914.84L1568.36,913.88ZM1602.47,907.93L1605.4,913.88L1611.98,914.84L1607.22,919.48L1608.34,926.02L1602.47,922.93L1596.59,926.02L1597.71,919.48L1592.95,914.84L1599.53,913.88ZM1633.63,907.93L1636.57,913.88L1643.15,914.84L1638.39,919.48L1639.51,926.02L1633.63,922.93L1627.76,926.02L1628.88,919.48L1624.12,914.84L1630.7,913.88ZM1664.81,907.93L1667.74,913.88L1674.32,914.84L1669.56,919.48L1670.68,926.02L1664.81,922.93L1658.93,926.02L1660.05,919.48L1655.29,914.84L1661.87,913.88ZM1695.97,907.93L1698.91,913.88L1705.49,914.84L1700.73,919.48L1701.85,926.02L1695.97,922.93L1690.1,926.02L1691.22,919.48L1686.46,914.84L1693.04,913.88ZM1727.14,907.93L1730.08,913.88L1736.66,914.84L1731.9,919.48L1733.02,926.02L1727.14,922.93L1721.27,926.02L1722.39,919.48L1717.63,914.84L1724.21,913.88ZM1758.32,907.93L1761.25,913.88L1767.83,914.84L1763.07,919.48L1764.19,926.02L1758.32,922.93L1752.44,926.02L1753.56,919.48L1748.8,914.84L1755.38,913.88ZM1789.49,907.93L1792.42,913.88L1799,914.84L1794.24,919.48L1795.36,926.02L1789.49,922.93L1783.61,926.02L1784.73,919.48L1779.97,914.84L1786.55,913.88ZM1820.66,907.93L1823.59,913.88L1830.17,914.84L1825.41,919.48L1826.53,926.02L1820.66,922.93L1814.78,926.02L1815.9,919.48L1811.14,914.84L1817.72,913.88ZM1851.83,907.93L1854.76,913.88L1861.34,914.84L1856.58,919.48L1857.7,926.02L1851.83,922.93L1845.95,926.02L1847.07,919.48L1842.31,914.84L1848.89,913.88ZM1883,907.93L1885.93,913.88L1892.51,914.84L1887.75,919.48L1888.87,926.02L1883,922.93L1877.12,926.02L1878.24,919.48L1873.48,914.84L1880.06,913.88ZM1914.16,907.93L1917.1,913.88L1923.68,914.84L1918.92,919.48L1920.04,926.02L1914.16,922.93L1908.29,926.02L1909.41,919.48L1904.65,914.84L1911.23,913.88ZM1088.16,939.1L1091.1,945.05L1097.67,946.01L1092.92,950.65L1094.04,957.19L1088.16,954.1L1082.28,957.19L1083.4,950.65L1078.65,946.01L1085.22,945.05ZM1119.33,939.1L1122.27,945.05L1128.84,946.01L1124.09,950.65L1125.21,957.19L1119.33,954.1L1113.45,957.19L1114.57,950.65L1109.82,946.01L1116.39,945.05ZM1150.5,939.1L1153.44,945.05L1160.01,946.01L1155.26,950.65L1156.38,957.19L1150.5,954.1L1144.62,957.19L1145.74,950.65L1140.99,946.01L1147.56,945.05ZM1181.67,939.1L1184.61,945.05L1191.18,946.01L1186.43,950.65L1187.55,957.19L1181.67,954.1L1175.79,957.19L1176.91,950.65L1172.16,946.01L1178.73,945.05ZM1212.84,939.1L1215.78,945.05L1222.35,946.01L1217.6,950.65L1218.72,957.19L1212.84,954.1L1206.96,957.19L1208.08,950.65L1203.33,946.01L1209.9,945.05ZM1244.01,939.1L1246.95,945.05L1253.52,946.01L1248.77,950.65L1249.89,957.19L1244.01,954.1L1238.13,957.19L1239.25,950.65L1234.5,946.01L1241.07,945.05ZM1275.18,939.1L1278.12,945.05L1284.69,946.01L1279.94,950.65L1281.06,957.19L1275.18,954.1L1269.3,957.19L1270.42,950.65L1265.67,946.01L1272.24,945.05ZM1306.35,939.1L1309.29,945.05L1315.86,946.01L1311.11,950.65L1312.23,957.19L1306.35,954.1L1300.47,957.19L1301.59,950.65L1296.84,946.01L1303.41,945.05ZM1337.52,939.1L1340.46,945.05L1347.03,946.01L1342.28,950.65L1343.4,957.19L1337.52,954.1L1331.64,957.19L1332.76,950.65L1328.01,946.01L1334.58,945.05ZM1368.69,939.1L1371.63,945.05L1378.2,946.01L1373.45,950.65L1374.57,957.19L1368.69,954.1L1362.81,957.19L1363.93,950.65L1359.18,946.01L1365.75,945.05ZM1399.86,939.1L1402.8,945.05L1409.37,946.01L1404.62,950.65L1405.74,957.19L1399.86,954.1L1393.98,957.19L1395.1,950.65L1390.35,946.01L1396.92,945.05ZM1431.03,939.1L1433.97,945.05L1440.54,946.01L1435.79,950.65L1436.91,957.19L1431.03,954.1L1425.15,957.19L1426.27,950.65L1421.52,946.01L1428.09,945.05ZM1462.2,939.1L1465.14,945.05L1471.71,946.01L1466.96,950.65L1468.08,957.19L1462.2,954.1L1456.32,957.19L1457.44,950.65L1452.69,946.01L1459.26,945.05ZM1493.37,939.1L1496.31,945.05L1502.88,946.01L1498.13,950.65L1499.25,957.19L1493.37,954.1L1487.49,957.19L1488.61,950.65L1483.86,946.01L1490.43,945.05ZM1524.54,939.1L1527.48,945.05L1534.05,946.01L1529.3,950.65L1530.42,957.19L1524.54,954.1L1518.66,957.19L1519.78,950.65L1515.03,946.01L1521.6,945.05ZM1555.71,939.1L1558.65,945.05L1565.22,946.01L1560.47,950.65L1561.59,957.19L1555.71,954.1L1549.83,957.19L1550.95,950.65L1546.2,946.01L1552.77,945.05ZM1586.88,939.1L1589.82,945.05L1596.39,946.01L1591.64,950.65L1592.76,957.19L1586.88,954.1L1581,957.19L1582.12,950.65L1577.37,946.01L1583.94,945.05ZM1618.05,939.1L1620.99,945.05L1627.56,946.01L1622.81,950.65L1623.93,957.19L1618.05,954.1L1612.17,957.19L1613.29,950.65L1608.54,946.01L1615.11,945.05ZM1649.22,939.1L1652.16,945.05L1658.73,946.01L1653.98,950.65L1655.1,957.19L1649.22,954.1L1643.34,957.19L1644.46,950.65L1639.71,946.01L1646.28,945.05ZM1680.39,939.1L1683.33,945.05L1689.9,946.01L1685.15,950.65L1686.27,957.19L1680.39,954.1L1674.51,957.19L1675.63,950.65L1670.88,946.01L1677.45,945.05ZM1711.56,939.1L1714.5,945.05L1721.07,946.01L1716.32,950.65L1717.44,957.19L1711.56,954.1L1705.68,957.19L1706.8,950.65L1702.05,946.01L1708.62,945.05ZM1742.73,939.1L1745.67,945.05L1752.24,946.01L1747.49,950.65L1748.61,957.19L1742.73,954.1L1736.85,957.19L1737.97,950.65L1733.22,946.01L1739.79,945.05ZM1773.9,939.1L1776.84,945.05L1783.41,946.01L1778.66,950.65L1779.78,957.19L1773.9,954.1L1768.02,957.19L1769.14,950.65L1764.39,946.01L1770.96,945.05ZM1805.07,939.1L1808.01,945.05L1814.58,946.01L1809.83,950.65L1810.95,957.19L1805.07,954.1L1799.19,957.19L1800.31,950.65L1795.56,946.01L1802.13,945.05ZM1836.24,939.1L1839.18,945.05L1845.75,946.01L1841,950.65L1842.12,957.19L1836.24,954.1L1830.36,957.19L1831.48,950.65L1826.73,946.01L1833.3,945.05ZM1867.41,939.1L1870.35,945.05L1876.92,946.01L1872.17,950.65L1873.29,957.19L1867.41,954.1L1861.53,957.19L1862.65,950.65L1857.9,946.01L1864.47,945.05ZM1898.58,939.1L1901.52,945.05L1908.09,946.01L1903.34,950.65L1904.46,957.19L1898.58,954.1L1892.7,957.19L1893.82,950.65L1889.07,946.01L1895.64,945.05ZM1103.75,970.27L1106.68,976.22L1113.26,977.18L1108.5,981.82L1109.62,988.36L1103.75,985.27L1097.87,988.36L1098.99,981.82L1094.23,977.18L1100.81,976.22ZM1134.91,970.27L1137.85,976.22L1144.43,977.18L1139.67,981.82L1140.79,988.36L1134.91,985.27L1129.04,988.36L1130.16,981.82L1125.4,977.18L1131.98,976.22ZM1166.09,970.27L1169.02,976.22L1175.6,977.18L1170.84,981.82L1171.96,988.36L1166.09,985.27L1160.21,988.36L1161.33,981.82L1156.57,977.18L1163.15,976.22ZM1197.26,970.27L1200.19,976.22L1206.77,977.18L1202.01,981.82L1203.13,988.36L1197.26,985.27L1191.38,988.36L1192.5,981.82L1187.74,977.18L1194.32,976.22ZM1228.42,970.27L1231.36,976.22L1237.94,977.18L1233.18,981.82L1234.3,988.36L1228.42,985.27L1222.55,988.36L1223.67,981.82L1218.91,977.18L1225.49,976.22ZM1259.6,970.27L1262.53,976.22L1269.11,977.18L1264.35,981.82L1265.47,988.36L1259.6,985.27L1253.72,988.36L1254.84,981.82L1250.08,977.18L1256.66,976.22ZM1290.77,970.27L1293.7,976.22L1300.28,977.18L1295.52,981.82L1296.64,988.36L1290.77,985.27L1284.89,988.36L1286.01,981.82L1281.25,977.18L1287.83,976.22ZM1321.93,970.27L1324.87,976.22L1331.45,977.18L1326.69,981.82L1327.81,988.36L1321.93,985.27L1316.06,988.36L1317.18,981.82L1312.42,977.18L1319,976.22ZM1353.11,970.27L1356.04,976.22L1362.62,977.18L1357.86,981.82L1358.98,988.36L1353.11,985.27L1347.23,988.36L1348.35,981.82L1343.59,977.18L1350.17,976.22ZM1384.28,970.27L1387.21,976.22L1393.79,977.18L1389.03,981.82L1390.15,988.36L1384.28,985.27L1378.4,988.36L1379.52,981.82L1374.76,977.18L1381.34,976.22ZM1415.45,970.27L1418.38,976.22L1424.96,977.18L1420.2,981.82L1421.32,988.36L1415.45,985.27L1409.57,988.36L1410.69,981.82L1405.93,977.18L1412.51,976.22ZM1446.62,970.27L1449.55,976.22L1456.13,977.18L1451.37,981.82L1452.49,988.36L1446.62,985.27L1440.74,988.36L1441.86,981.82L1437.1,977.18L1443.68,976.22ZM1477.79,970.27L1480.72,976.22L1487.3,977.18L1482.54,981.82L1483.66,988.36L1477.79,985.27L1471.91,988.36L1473.03,981.82L1468.27,977.18L1474.85,976.22ZM1508.95,970.27L1511.89,976.22L1518.47,977.18L1513.71,981.82L1514.83,988.36L1508.95,985.27L1503.08,988.36L1504.2,981.82L1499.44,977.18L1506.02,976.22ZM1540.12,970.27L1543.06,976.22L1549.64,977.18L1544.88,981.82L1546,988.36L1540.12,985.27L1534.25,988.36L1535.37,981.82L1530.61,977.18L1537.19,976.22ZM1571.3,970.27L1574.23,976.22L1580.81,977.18L1576.05,981.82L1577.17,988.36L1571.3,985.27L1565.42,988.36L1566.54,981.82L1561.78,977.18L1568.36,976.22ZM1602.47,970.27L1605.4,976.22L1611.98,977.18L1607.22,981.82L1608.34,988.36L1602.47,985.27L1596.59,988.36L1597.71,981.82L1592.95,977.18L1599.53,976.22ZM1633.63,970.27L1636.57,976.22L1643.15,977.18L1638.39,981.82L1639.51,988.36L1633.63,985.27L1627.76,988.36L1628.88,981.82L1624.12,977.18L1630.7,976.22ZM1664.81,970.27L1667.74,976.22L1674.32,977.18L1669.56,981.82L1670.68,988.36L1664.81,985.27L1658.93,988.36L1660.05,981.82L1655.29,977.18L1661.87,976.22ZM1695.97,970.27L1698.91,976.22L1705.49,977.18L1700.73,981.82L1701.85,988.36L1695.97,985.27L1690.1,988.36L1691.22,981.82L1686.46,977.18L1693.04,976.22ZM1727.14,970.27L1730.08,976.22L1736.66,977.18L1731.9,981.82L1733.02,988.36L1727.14,985.27L1721.27,988.36L1722.39,981.82L1717.63,977.18L1724.21,976.22ZM1758.32,970.27L1761.25,976.22L1767.83,977.18L1763.07,981.82L1764.19,988.36L1758.32,985.27L1752.44,988.36L1753.56,981.82L1748.8,977.18L1755.38,976.22ZM1789.49,970.27L1792.42,976.22L1799,977.18L1794.24,981.82L1795.36,988.36L1789.49,985.27L1783.61,988.36L1784.73,981.82L1779.97,977.18L1786.55,976.22ZM1820.66,970.27L1823.59,976.22L1830.17,977.18L1825.41,981.82L1826.53,988.36L1820.66,985.27L1814.78,988.36L1815.9,981.82L1811.14,977.18L1817.72,976.22ZM1851.83,970.27L1854.76,976.22L1861.34,977.18L1856.58,981.82L1857.7,988.36L1851.83,985.27L1845.95,988.36L1847.07,981.82L1842.31,977.18L1848.89,976.22ZM1883,970.27L1885.93,976.22L1892.51,977.18L1887.75,981.82L1888.87,988.36L1883,985.27L1877.12,988.36L1878.24,981.82L1873.48,977.18L1880.06,976.22ZM1914.16,970.27L1917.1,976.22L1923.68,977.18L1918.92,981.82L1920.04,988.36L1914.16,985.27L1908.29,988.36L1909.41,981.82L1904.65,977.18L1911.23,976.22ZM1088.16,1001.44L1091.1,1007.39L1097.67,1008.35L1092.92,1012.99L1094.04,1019.53L1088.16,1016.44L1082.28,1019.53L1083.4,1012.99L1078.65,1008.35L1085.22,1007.39ZM1119.33,1001.44L1122.27,1007.39L1128.84,1008.35L1124.09,1012.99L1125.21,1019.53L1119.33,1016.44L1113.45,1019.53L1114.57,1012.99L1109.82,1008.35L1116.39,1007.39ZM1150.5,1001.44L1153.44,1007.39L1160.01,1008.35L1155.26,1012.99L1156.38,1019.53L1150.5,1016.44L1144.62,1019.53L1145.74,1012.99L1140.99,1008.35L1147.56,1007.39ZM1181.67,1001.44L1184.61,1007.39L1191.18,1008.35L1186.43,1012.99L1187.55,1019.53L1181.67,1016.44L1175.79,1019.53L1176.91,1012.99L1172.16,1008.35L1178.73,1007.39ZM1212.84,1001.44L1215.78,1007.39L1222.35,1008.35L1217.6,1012.99L1218.72,1019.53L1212.84,1016.44L1206.96,1019.53L1208.08,1012.99L1203.33,1008.35L1209.9,1007.39ZM1244.01,1001.44L1246.95,1007.39L1253.52,1008.35L1248.77,1012.99L1249.89,1019.53L1244.01,1016.44L1238.13,1019.53L1239.25,1012.99L1234.5,1008.35L1241.07,1007.39ZM1275.18,1001.44L1278.12,1007.39L1284.69,1008.35L1279.94,1012.99L1281.06,1019.53L1275.18,1016.44L1269.3,1019.53L1270.42,1012.99L1265.67,1008.35L1272.24,1007.39ZM1306.35,1001.44L1309.29,1007.39L1315.86,1008.35L1311.11,1012.99L1312.23,1019.53L1306.35,1016.44L1300.47,1019.53L1301.59,1012.99L1296.84,1008.35L1303.41,1007.39ZM1337.52,1001.44L1340.46,1007.39L1347.03,1008.35L1342.28,1012.99L1343.4,1019.53L1337.52,1016.44L1331.64,1019.53L1332.76,1012.99L1328.01,1008.35L1334.58,1007.39ZM1368.69,1001.44L1371.63,1007.39L1378.2,1008.35L1373.45,1012.99L1374.57,1019.53L1368.69,1016.44L1362.81,1019.53L1363.93,1012.99L1359.18,1008.35L1365.75,1007.39ZM1399.86,1001.44L1402.8,1007.39L1409.37,1008.35L1404.62,1012.99L1405.74,1019.53L1399.86,1016.44L1393.98,1019.53L1395.1,1012.99L1390.35,1008.35L1396.92,1007.39ZM1431.03,1001.44L1433.97,1007.39L1440.54,1008.35L1435.79,1012.99L1436.91,1019.53L1431.03,1016.44L1425.15,1019.53L1426.27,1012.99L1421.52,1008.35L1428.09,1007.39ZM1462.2,1001.44L1465.14,1007.39L1471.71,1008.35L1466.96,1012.99L1468.08,1019.53L1462.2,1016.44L1456.32,1019.53L1457.44,1012.99L1452.69,1008.35L1459.26,1007.39ZM1493.37,1001.44L1496.31,1007.39L1502.88,1008.35L1498.13,1012.99L1499.25,1019.53L1493.37,1016.44L1487.49,1019.53L1488.61,1012.99L1483.86,1008.35L1490.43,1007.39ZM1524.54,1001.44L1527.48,1007.39L1534.05,1008.35L1529.3,1012.99L1530.42,1019.53L1524.54,1016.44L1518.66,1019.53L1519.78,1012.99L1515.03,1008.35L1521.6,1007.39ZM1555.71,1001.44L1558.65,1007.39L1565.22,1008.35L1560.47,1012.99L1561.59,1019.53L1555.71,1016.44L1549.83,1019.53L1550.95,1012.99L1546.2,1008.35L1552.77,1007.39ZM1586.88,1001.44L1589.82,1007.39L1596.39,1008.35L1591.64,1012.99L1592.76,1019.53L1586.88,1016.44L1581,1019.53L1582.12,1012.99L1577.37,1008.35L1583.94,1007.39ZM1618.05,1001.44L1620.99,1007.39L1627.56,1008.35L1622.81,1012.99L1623.93,1019.53L1618.05,1016.44L1612.17,1019.53L1613.29,1012.99L1608.54,1008.35L1615.11,1007.39ZM1649.22,1001.44L1652.16,1007.39L1658.73,1008.35L1653.98,1012.99L1655.1,1019.53L1649.22,1016.44L1643.34,1019.53L1644.46,1012.99L1639.71,1008.35L1646.28,1007.39ZM1680.39,1001.44L1683.33,1007.39L1689.9,1008.35L1685.15,1012.99L1686.27,1019.53L1680.39,1016.44L1674.51,1019.53L1675.63,1012.99L1670.88,1008.35L1677.45,1007.39ZM1711.56,1001.44L1714.5,1007.39L1721.07,1008.35L1716.32,1012.99L1717.44,1019.53L1711.56,1016.44L1705.68,1019.53L1706.8,1012.99L1702.05,1008.35L1708.62,1007.39ZM1742.73,1001.44L1745.67,1007.39L1752.24,1008.35L1747.49,1012.99L1748.61,1019.53L1742.73,1016.44L1736.85,1019.53L1737.97,1012.99L1733.22,1008.35L1739.79,1007.39ZM1773.9,1001.44L1776.84,1007.39L1783.41,1008.35L1778.66,1012.99L1779.78,1019.53L1773.9,1016.44L1768.02,1019.53L1769.14,1012.99L1764.39,1008.35L1770.96,1007.39ZM1805.07,1001.44L1808.01,1007.39L1814.58,1008.35L1809.83,1012.99L1810.95,1019.53L1805.07,1016.44L1799.19,1019.53L1800.31,1012.99L1795.56,1008.35L1802.13,1007.39ZM1836.24,1001.44L1839.18,1007.39L1845.75,1008.35L1841,1012.99L1842.12,1019.53L1836.24,1016.44L1830.36,1019.53L1831.48,1012.99L1826.73,1008.35L1833.3,1007.39ZM1867.41,1001.44L1870.35,1007.39L1876.92,1008.35L1872.17,1012.99L1873.29,1019.53L1867.41,1016.44L1861.53,1019.53L1862.65,1012.99L1857.9,1008.35L1864.47,1007.39ZM1898.58,1001.44L1901.52,1007.39L1908.09,1008.35L1903.34,1012.99L1904.46,1019.53L1898.58,1016.44L1892.7,1019.53L1893.82,1012.99L1889.07,1008.35L1895.64,1007.39ZM1103.75,1032.61L1106.68,1038.56L1113.26,1039.52L1108.5,1044.16L1109.62,1050.7L1103.75,1047.61L1097.87,1050.7L1098.99,1044.16L1094.23,1039.52L1100.81,1038.56ZM1134.91,1032.61L1137.85,1038.56L1144.43,1039.52L1139.67,1044.16L1140.79,1050.7L1134.91,1047.61L1129.04,1050.7L1130.16,1044.16L1125.4,1039.52L1131.98,1038.56ZM1166.09,1032.61L1169.02,1038.56L1175.6,1039.52L1170.84,1044.16L1171.96,1050.7L1166.09,1047.61L1160.21,1050.7L1161.33,1044.16L1156.57,1039.52L1163.15,1038.56ZM1197.26,1032.61L1200.19,1038.56L1206.77,1039.52L1202.01,1044.16L1203.13,1050.7L1197.26,1047.61L1191.38,1050.7L1192.5,1044.16L1187.74,1039.52L1194.32,1038.56ZM1228.42,1032.61L1231.36,1038.56L1237.94,1039.52L1233.18,1044.16L1234.3,1050.7L1228.42,1047.61L1222.55,1050.7L1223.67,1044.16L1218.91,1039.52L1225.49,1038.56ZM1259.6,1032.61L1262.53,1038.56L1269.11,1039.52L1264.35,1044.16L1265.47,1050.7L1259.6,1047.61L1253.72,1050.7L1254.84,1044.16L1250.08,1039.52L1256.66,1038.56ZM1290.77,1032.61L1293.7,1038.56L1300.28,1039.52L1295.52,1044.16L1296.64,1050.7L1290.77,1047.61L1284.89,1050.7L1286.01,1044.16L1281.25,1039.52L1287.83,1038.56ZM1321.93,1032.61L1324.87,1038.56L1331.45,1039.52L1326.69,1044.16L1327.81,1050.7L1321.93,1047.61L1316.06,1050.7L1317.18,1044.16L1312.42,1039.52L1319,1038.56ZM1353.11,1032.61L1356.04,1038.56L1362.62,1039.52L1357.86,1044.16L1358.98,1050.7L1353.11,1047.61L1347.23,1050.7L1348.35,1044.16L1343.59,1039.52L1350.17,1038.56ZM1384.28,1032.61L1387.21,1038.56L1393.79,1039.52L1389.03,1044.16L1390.15,1050.7L1384.28,1047.61L1378.4,1050.7L1379.52,1044.16L1374.76,1039.52L1381.34,1038.56ZM1415.45,1032.61L1418.38,1038.56L1424.96,1039.52L1420.2,1044.16L1421.32,1050.7L1415.45,1047.61L1409.57,1050.7L1410.69,1044.16L1405.93,1039.52L1412.51,1038.56ZM1446.62,1032.61L1449.55,1038.56L1456.13,1039.52L1451.37,1044.16L1452.49,1050.7L1446.62,1047.61L1440.74,1050.7L1441.86,1044.16L1437.1,1039.52L1443.68,1038.56ZM1477.79,1032.61L1480.72,1038.56L1487.3,1039.52L1482.54,1044.16L1483.66,1050.7L1477.79,1047.61L1471.91,1050.7L1473.03,1044.16L1468.27,1039.52L1474.85,1038.56ZM1508.95,1032.61L1511.89,1038.56L1518.47,1039.52L1513.71,1044.16L1514.83,1050.7L1508.95,1047.61L1503.08,1050.7L1504.2,1044.16L1499.44,1039.52L1506.02,1038.56ZM1540.12,1032.61L1543.06,1038.56L1549.64,1039.52L1544.88,1044.16L1546,1050.7L1540.12,1047.61L1534.25,1050.7L1535.37,1044.16L1530.61,1039.52L1537.19,1038.56ZM1571.3,1032.61L1574.23,1038.56L1580.81,1039.52L1576.05,1044.16L1577.17,1050.7L1571.3,1047.61L1565.42,1050.7L1566.54,1044.16L1561.78,1039.52L1568.36,1038.56ZM1602.47,1032.61L1605.4,1038.56L1611.98,1039.52L1607.22,1044.16L1608.34,1050.7L1602.47,1047.61L1596.59,1050.7L1597.71,1044.16L1592.95,1039.52L1599.53,1038.56ZM1633.63,1032.61L1636.57,1038.56L1643.15,1039.52L1638.39,1044.16L1639.51,1050.7L1633.63,1047.61L1627.76,1050.7L1628.88,1044.16L1624.12,1039.52L1630.7,1038.56ZM1664.81,1032.61L1667.74,1038.56L1674.32,1039.52L1669.56,1044.16L1670.68,1050.7L1664.81,1047.61L1658.93,1050.7L1660.05,1044.16L1655.29,1039.52L1661.87,1038.56ZM1695.97,1032.61L1698.91,1038.56L1705.49,1039.52L1700.73,1044.16L1701.85,1050.7L1695.97,1047.61L1690.1,1050.7L1691.22,1044.16L1686.46,1039.52L1693.04,1038.56ZM1727.14,1032.61L1730.08,1038.56L1736.66,1039.52L1731.9,1044.16L1733.02,1050.7L1727.14,1047.61L1721.27,1050.7L1722.39,1044.16L1717.63,1039.52L1724.21,1038.56ZM1758.32,1032.61L1761.25,1038.56L1767.83,1039.52L1763.07,1044.16L1764.19,1050.7L1758.32,1047.61L1752.44,1050.7L1753.56,1044.16L1748.8,1039.52L1755.38,1038.56ZM1789.49,1032.61L1792.42,1038.56L1799,1039.52L1794.24,1044.16L1795.36,1050.7L1789.49,1047.61L1783.61,1050.7L1784.73,1044.16L1779.97,1039.52L1786.55,1038.56ZM1820.66,1032.61L1823.59,1038.56L1830.17,1039.52L1825.41,1044.16L1826.53,1050.7L1820.66,1047.61L1814.78,1050.7L1815.9,1044.16L1811.14,1039.52L1817.72,1038.56ZM1851.83,1032.61L1854.76,1038.56L1861.34,1039.52L1856.58,1044.16L1857.7,1050.7L1851.83,1047.61L1845.95,1050.7L1847.07,1044.16L1842.31,1039.52L1848.89,1038.56ZM1883,1032.61L1885.93,1038.56L1892.51,1039.52L1887.75,1044.16L1888.87,1050.7L1883,1047.61L1877.12,1050.7L1878.24,1044.16L1873.48,1039.52L1880.06,1038.56ZM1914.16,1032.61L1917.1,1038.56L1923.68,1039.52L1918.92,1044.16L1920.04,1050.7L1914.16,1047.61L1908.29,1050.7L1909.41,1044.16L1904.65,1039.52L1911.23,1038.56ZM1088.16,1063.78L1091.1,1069.73L1097.67,1070.69L1092.92,1075.33L1094.04,1081.87L1088.16,1078.78L1082.28,1081.87L1083.4,1075.33L1078.65,1070.69L1085.22,1069.73ZM1119.33,1063.78L1122.27,1069.73L1128.84,1070.69L1124.09,1075.33L1125.21,1081.87L1119.33,1078.78L1113.45,1081.87L1114.57,1075.33L1109.82,1070.69L1116.39,1069.73ZM1150.5,1063.78L1153.44,1069.73L1160.01,1070.69L1155.26,1075.33L1156.38,1081.87L1150.5,1078.78L1144.62,1081.87L1145.74,1075.33L1140.99,1070.69L1147.56,1069.73ZM1181.67,1063.78L1184.61,1069.73L1191.18,1070.69L1186.43,1075.33L1187.55,1081.87L1181.67,1078.78L1175.79,1081.87L1176.91,1075.33L1172.16,1070.69L1178.73,1069.73ZM1212.84,1063.78L1215.78,1069.73L1222.35,1070.69L1217.6,1075.33L1218.72,1081.87L1212.84,1078.78L1206.96,1081.87L1208.08,1075.33L1203.33,1070.69L1209.9,1069.73ZM1244.01,1063.78L1246.95,1069.73L1253.52,1070.69L1248.77,1075.33L1249.89,1081.87L1244.01,1078.78L1238.13,1081.87L1239.25,1075.33L1234.5,1070.69L1241.07,1069.73ZM1275.18,1063.78L1278.12,1069.73L1284.69,1070.69L1279.94,1075.33L1281.06,1081.87L1275.18,1078.78L1269.3,1081.87L1270.42,1075.33L1265.67,1070.69L1272.24,1069.73ZM1306.35,1063.78L1309.29,1069.73L1315.86,1070.69L1311.11,1075.33L1312.23,1081.87L1306.35,1078.78L1300.47,1081.87L1301.59,1075.33L1296.84,1070.69L1303.41,1069.73ZM1337.52,1063.78L1340.46,1069.73L1347.03,1070.69L1342.28,1075.33L1343.4,1081.87L1337.52,1078.78L1331.64,1081.87L1332.76,1075.33L1328.01,1070.69L1334.58,1069.73ZM1368.69,1063.78L1371.63,1069.73L1378.2,1070.69L1373.45,1075.33L1374.57,1081.87L1368.69,1078.78L1362.81,1081.87L1363.93,1075.33L1359.18,1070.69L1365.75,1069.73ZM1399.86,1063.78L1402.8,1069.73L1409.37,1070.69L1404.62,1075.33L1405.74,1081.87L1399.86,1078.78L1393.98,1081.87L1395.1,1075.33L1390.35,1070.69L1396.92,1069.73ZM1431.03,1063.78L1433.97,1069.73L1440.54,1070.69L1435.79,1075.33L1436.91,1081.87L1431.03,1078.78L1425.15,1081.87L1426.27,1075.33L1421.52,1070.69L1428.09,1069.73ZM1462.2,1063.78L1465.14,1069.73L1471.71,1070.69L1466.96,1075.33L1468.08,1081.87L1462.2,1078.78L1456.32,1081.87L1457.44,1075.33L1452.69,1070.69L1459.26,1069.73ZM1493.37,1063.78L1496.31,1069.73L1502.88,1070.69L1498.13,1075.33L1499.25,1081.87L1493.37,1078.78L1487.49,1081.87L1488.61,1075.33L1483.86,1070.69L1490.43,1069.73ZM1524.54,1063.78L1527.48,1069.73L1534.05,1070.69L1529.3,1075.33L1530.42,1081.87L1524.54,1078.78L1518.66,1081.87L1519.78,1075.33L1515.03,1070.69L1521.6,1069.73ZM1555.71,1063.78L1558.65,1069.73L1565.22,1070.69L1560.47,1075.33L1561.59,1081.87L1555.71,1078.78L1549.83,1081.87L1550.95,1075.33L1546.2,1070.69L1552.77,1069.73ZM1586.88,1063.78L1589.82,1069.73L1596.39,1070.69L1591.64,1075.33L1592.76,1081.87L1586.88,1078.78L1581,1081.87L1582.12,1075.33L1577.37,1070.69L1583.94,1069.73ZM1618.05,1063.78L1620.99,1069.73L1627.56,1070.69L1622.81,1075.33L1623.93,1081.87L1618.05,1078.78L1612.17,1081.87L1613.29,1075.33L1608.54,1070.69L1615.11,1069.73ZM1649.22,1063.78L1652.16,1069.73L1658.73,1070.69L1653.98,1075.33L1655.1,1081.87L1649.22,1078.78L1643.34,1081.87L1644.46,1075.33L1639.71,1070.69L1646.28,1069.73ZM1680.39,1063.78L1683.33,1069.73L1689.9,1070.69L1685.15,1075.33L1686.27,1081.87L1680.39,1078.78L1674.51,1081.87L1675.63,1075.33L1670.88,1070.69L1677.45,1069.73ZM1711.56,1063.78L1714.5,1069.73L1721.07,1070.69L1716.32,1075.33L1717.44,1081.87L1711.56,1078.78L1705.68,1081.87L1706.8,1075.33L1702.05,1070.69L1708.62,1069.73ZM1742.73,1063.78L1745.67,1069.73L1752.24,1070.69L1747.49,1075.33L1748.61,1081.87L1742.73,1078.78L1736.85,1081.87L1737.97,1075.33L1733.22,1070.69L1739.79,1069.73ZM1773.9,1063.78L1776.84,1069.73L1783.41,1070.69L1778.66,1075.33L1779.78,1081.87L1773.9,1078.78L1768.02,1081.87L1769.14,1075.33L1764.39,1070.69L1770.96,1069.73ZM1805.07,1063.78L1808.01,1069.73L1814.58,1070.69L1809.83,1075.33L1810.95,1081.87L1805.07,1078.78L1799.19,1081.87L1800.31,1075.33L1795.56,1070.69L1802.13,1069.73ZM1836.24,1063.78L1839.18,1069.73L1845.75,1070.69L1841,1075.33L1842.12,1081.87L1836.24,1078.78L1830.36,1081.87L1831.48,1075.33L1826.73,1070.69L1833.3,1069.73ZM1867.41,1063.78L1870.35,1069.73L1876.92,1070.69L1872.17,1075.33L1873.29,1081.87L1867.41,1078.78L1861.53,1081.87L1862.65,1075.33L1857.9,1070.69L1864.47,1069.73ZM1898.58,1063.78L1901.52,1069.73L1908.09,1070.69L1903.34,1075.33L1904.46,1081.87L1898.58,1078.78L1892.7,1081.87L1893.82,1075.33L1889.07,1070.69L1895.64,1069.73Z" fill="rgb(128,128,128)" fill-opacity="0.35" stroke="rgb(128,128,128)" stroke-opacity="0.37" stroke-width="2.5" stroke-linejoin="miter"/>
<polygon points="1142.23,913.96 1282.35,936.99 1377.56,944.45 1435.04,949.66 1496.12,954.5 1591.33,957.72 1650.61,956.8 1719.95,954.27 1860.79,946.2 1860.79,1013.64 1681.15,1019.9 1510.49,1016.45 1370.37,1010.23 1269.77,1000.1 1142.23,986.28" fill="none" stroke="rgb(128,128,128)" stroke-opacity="0.37" stroke-width="2.0"/>
<polygon points="1142.23,790.51 1151.21,793.66 1160.19,796.81 1169.17,799.96 1178.16,803.11 1187.14,806.25 1196.12,809.4 1205.1,812.55 1214.08,815.69 1223.07,818.83 1232.05,821.97 1241.03,825.11 1250.01,828.25 1258.99,831.39 1267.98,834.52 1276.96,837.65 1285.94,840.79 1294.92,843.91 1303.9,847.04 1312.89,850.17 1321.87,853.29 1330.85,856.41 1339.83,859.52 1348.81,862.63 1357.8,865.74 1366.78,868.85 1375.76,871.95 1384.74,875.04 1393.72,878.14 1402.71,881.22 1411.69,884.3 1420.67,887.37 1429.65,890.44 1438.63,893.5 1447.62,896.55 1456.6,899.59 1465.58,902.62 1474.56,905.63 1483.54,908.63 1492.53,911.62 1501.51,914.59 1510.49,917.53 1519.47,920.46 1528.45,923.35 1537.44,926.22 1546.42,929.05 1555.4,931.84 1564.38,934.58 1573.36,937.26 1582.35,939.87 1591.33,942.4 1600.31,944.84 1609.29,947.17 1618.27,949.37 1627.26,951.41 1636.24,953.29 1645.22,954.98 1654.2,956.46 1663.18,957.72 1672.17,958.79 1681.15,959.68 1690.13,960.42 1699.11,961 1708.09,961.44 1717.08,961.76 1726.06,961.96 1735.04,962.07 1744.02,962.09 1753,962.04 1761.99,961.92 1770.97,961.75 1779.95,961.53 1788.93,961.27 1797.91,960.97 1806.9,960.65 1815.88,960.29 1824.86,959.91 1833.84,959.51 1842.82,959.09 1851.81,958.65 1860.79,958.2 1860.79,1050.8 1851.81,1047.57 1842.82,1044.36 1833.84,1041.17 1824.86,1038 1815.88,1034.86 1806.9,1031.75 1797.91,1028.69 1788.93,1025.66 1779.95,1022.69 1770.97,1019.78 1761.99,1016.94 1753,1014.18 1744.02,1011.54 1735.04,1009.01 1726.06,1006.63 1717.08,1004.42 1708.09,1002.41 1699.11,1000.62 1690.13,999.08 1681.15,997.79 1672.17,996.74 1663.18,995.9 1654.2,995.24 1645.22,994.76 1636.24,994.45 1627.26,994.28 1618.27,994.23 1609.29,994.3 1600.31,994.46 1591.33,994.7 1582.35,995.01 1573.36,995.38 1564.38,995.8 1555.4,996.27 1546.42,996.77 1537.44,997.31 1528.45,997.87 1519.47,998.46 1510.49,999.08 1501.51,999.71 1492.53,1000.36 1483.54,1001.02 1474.56,1001.7 1465.58,1002.39 1456.6,1003.09 1447.62,1003.8 1438.63,1004.52 1429.65,1005.24 1420.67,1005.98 1411.69,1006.72 1402.71,1007.46 1393.72,1008.22 1384.74,1008.97 1375.76,1009.74 1366.78,1010.5 1357.8,1011.27 1348.81,1012.05 1339.83,1012.82 1330.85,1013.6 1321.87,1014.39 1312.89,1015.17 1303.9,1015.96 1294.92,1016.75 1285.94,1017.54 1276.96,1018.34 1267.98,1019.13 1258.99,1019.93 1250.01,1020.73 1241.03,1021.53 1232.05,1022.34 1223.07,1023.14 1214.08,1023.95 1205.1,1024.76 1196.12,1025.56 1187.14,1026.37 1178.16,1027.19 1169.17,1028 1160.19,1028.81 1151.21,1029.62 1142.23,1030.44" fill="#c12324" fill-opacity="0.3" stroke="#c12324" stroke-opacity="0.3" stroke-width="2.6"/>
<line x1="1142.23" y1="909.36" x2="1860.79" y2="1001.48" stroke="#c12324" stroke-width="5.19" stroke-dasharray="19.22 8.31"/>
<path d="M1501.51,958.04 H1641.63 M1564.38,1041.83 V876.75 M1501.51,947.65 V968.43 M1641.63,947.65 V968.43 M1553.99,1041.83 H1574.77 M1553.99,876.75 H1574.77 M1641.63,992.54 H1711.69 M1681.87,1066.24 V895.72 M1641.63,982.15 V1002.93 M1711.69,982.15 V1002.93 M1671.48,1066.24 H1692.25 M1671.48,895.72 H1692.25 M1711.69,983.33 H1860.79 M1770.97,1076.74 V899.13 M1711.69,972.94 V993.72 M1860.79,972.94 V993.72 M1760.58,1076.74 H1781.36 M1760.58,899.13 H1781.36" fill="none" stroke="#c12324" stroke-width="7.79"/>
<circle cx="1564.38" cy="958.04" r="12.98" fill="#c12324" stroke="#000" stroke-width="2.6"/>
<circle cx="1681.87" cy="992.54" r="12.98" fill="#c12324" stroke="#000" stroke-width="2.6"/>
<circle cx="1770.97" cy="983.33" r="12.98" fill="#c12324" stroke="#000" stroke-width="2.6"/>
</g>
<rect x="1123.5" y="1137.5" width="359.7" height="171.3" rx="5.2" ry="5.2" fill="#fff" fill-opacity="0.8" stroke="#cacaca" stroke-opacity="0.85" stroke-width="2.2"/>
<rect x="1139.1" y="1154.8" width="72.5" height="25.2" fill="none" stroke="rgb(128,128,128)" stroke-opacity="0.37" stroke-width="2.2"/>
<text x="1240.69" y="1180.4" font-size="36.36">Aird+15</text>
<clipPath id="c3h1"><rect x="1139.1" y="1208.2" width="72.5" height="25.2"/></clipPath>
<path clip-path="url(#c3h1)" d="M1137.1,1180.69 L1213.6,1104.19 M1137.1,1196.28 L1213.6,1119.78 M1137.1,1211.86 L1213.6,1135.36 M1137.1,1227.45 L1213.6,1150.95 M1137.1,1243.03 L1213.6,1166.53 M1137.1,1258.62 L1213.6,1182.12 M1137.1,1274.2 L1213.6,1197.7 M1137.1,1289.78 L1213.6,1213.28 M1137.1,1305.37 L1213.6,1228.87 M1137.1,1320.95 L1213.6,1244.45 M1137.1,1336.54 L1213.6,1260.04" fill="none" stroke="rgb(128,128,128)" stroke-opacity="0.37" stroke-width="2.0"/>
<rect x="1139.1" y="1208.2" width="72.5" height="25.2" fill="none" stroke="rgb(128,128,128)" stroke-opacity="0.37" stroke-width="2.2"/>
<text x="1240.69" y="1233.9" font-size="36.36">Buchner+15</text>
<clipPath id="c3h2"><rect x="1139.1" y="1261.6" width="72.5" height="25.2"/></clipPath>
<path clip-path="url(#c3h2)" d="M1088.16,1188.46L1091.1,1194.41L1097.67,1195.37L1092.92,1200.01L1094.04,1206.55L1088.16,1203.46L1082.28,1206.55L1083.4,1200.01L1078.65,1195.37L1085.22,1194.41ZM1119.33,1188.46L1122.27,1194.41L1128.84,1195.37L1124.09,1200.01L1125.21,1206.55L1119.33,1203.46L1113.45,1206.55L1114.57,1200.01L1109.82,1195.37L1116.39,1194.41ZM1150.5,1188.46L1153.44,1194.41L1160.01,1195.37L1155.26,1200.01L1156.38,1206.55L1150.5,1203.46L1144.62,1206.55L1145.74,1200.01L1140.99,1195.37L1147.56,1194.41ZM1181.67,1188.46L1184.61,1194.41L1191.18,1195.37L1186.43,1200.01L1187.55,1206.55L1181.67,1203.46L1175.79,1206.55L1176.91,1200.01L1172.16,1195.37L1178.73,1194.41ZM1212.84,1188.46L1215.78,1194.41L1222.35,1195.37L1217.6,1200.01L1218.72,1206.55L1212.84,1203.46L1206.96,1206.55L1208.08,1200.01L1203.33,1195.37L1209.9,1194.41ZM1244.01,1188.46L1246.95,1194.41L1253.52,1195.37L1248.77,1200.01L1249.89,1206.55L1244.01,1203.46L1238.13,1206.55L1239.25,1200.01L1234.5,1195.37L1241.07,1194.41ZM1275.18,1188.46L1278.12,1194.41L1284.69,1195.37L1279.94,1200.01L1281.06,1206.55L1275.18,1203.46L1269.3,1206.55L1270.42,1200.01L1265.67,1195.37L1272.24,1194.41ZM1103.75,1219.63L1106.68,1225.58L1113.26,1226.54L1108.5,1231.18L1109.62,1237.72L1103.75,1234.63L1097.87,1237.72L1098.99,1231.18L1094.23,1226.54L1100.81,1225.58ZM1134.91,1219.63L1137.85,1225.58L1144.43,1226.54L1139.67,1231.18L1140.79,1237.72L1134.91,1234.63L1129.04,1237.72L1130.16,1231.18L1125.4,1226.54L1131.98,1225.58ZM1166.09,1219.63L1169.02,1225.58L1175.6,1226.54L1170.84,1231.18L1171.96,1237.72L1166.09,1234.63L1160.21,1237.72L1161.33,1231.18L1156.57,1226.54L1163.15,1225.58ZM1197.26,1219.63L1200.19,1225.58L1206.77,1226.54L1202.01,1231.18L1203.13,1237.72L1197.26,1234.63L1191.38,1237.72L1192.5,1231.18L1187.74,1226.54L1194.32,1225.58ZM1228.42,1219.63L1231.36,1225.58L1237.94,1226.54L1233.18,1231.18L1234.3,1237.72L1228.42,1234.63L1222.55,1237.72L1223.67,1231.18L1218.91,1226.54L1225.49,1225.58ZM1259.6,1219.63L1262.53,1225.58L1269.11,1226.54L1264.35,1231.18L1265.47,1237.72L1259.6,1234.63L1253.72,1237.72L1254.84,1231.18L1250.08,1226.54L1256.66,1225.58ZM1088.16,1250.8L1091.1,1256.75L1097.67,1257.71L1092.92,1262.35L1094.04,1268.89L1088.16,1265.8L1082.28,1268.89L1083.4,1262.35L1078.65,1257.71L1085.22,1256.75ZM1119.33,1250.8L1122.27,1256.75L1128.84,1257.71L1124.09,1262.35L1125.21,1268.89L1119.33,1265.8L1113.45,1268.89L1114.57,1262.35L1109.82,1257.71L1116.39,1256.75ZM1150.5,1250.8L1153.44,1256.75L1160.01,1257.71L1155.26,1262.35L1156.38,1268.89L1150.5,1265.8L1144.62,1268.89L1145.74,1262.35L1140.99,1257.71L1147.56,1256.75ZM1181.67,1250.8L1184.61,1256.75L1191.18,1257.71L1186.43,1262.35L1187.55,1268.89L1181.67,1265.8L1175.79,1268.89L1176.91,1262.35L1172.16,1257.71L1178.73,1256.75ZM1212.84,1250.8L1215.78,1256.75L1222.35,1257.71L1217.6,1262.35L1218.72,1268.89L1212.84,1265.8L1206.96,1268.89L1208.08,1262.35L1203.33,1257.71L1209.9,1256.75ZM1244.01,1250.8L1246.95,1256.75L1253.52,1257.71L1248.77,1262.35L1249.89,1268.89L1244.01,1265.8L1238.13,1268.89L1239.25,1262.35L1234.5,1257.71L1241.07,1256.75ZM1275.18,1250.8L1278.12,1256.75L1284.69,1257.71L1279.94,1262.35L1281.06,1268.89L1275.18,1265.8L1269.3,1268.89L1270.42,1262.35L1265.67,1257.71L1272.24,1256.75ZM1103.75,1281.97L1106.68,1287.92L1113.26,1288.88L1108.5,1293.52L1109.62,1300.06L1103.75,1296.97L1097.87,1300.06L1098.99,1293.52L1094.23,1288.88L1100.81,1287.92ZM1134.91,1281.97L1137.85,1287.92L1144.43,1288.88L1139.67,1293.52L1140.79,1300.06L1134.91,1296.97L1129.04,1300.06L1130.16,1293.52L1125.4,1288.88L1131.98,1287.92ZM1166.09,1281.97L1169.02,1287.92L1175.6,1288.88L1170.84,1293.52L1171.96,1300.06L1166.09,1296.97L1160.21,1300.06L1161.33,1293.52L1156.57,1288.88L1163.15,1287.92ZM1197.26,1281.97L1200.19,1287.92L1206.77,1288.88L1202.01,1293.52L1203.13,1300.06L1197.26,1296.97L1191.38,1300.06L1192.5,1293.52L1187.74,1288.88L1194.32,1287.92ZM1228.42,1281.97L1231.36,1287.92L1237.94,1288.88L1233.18,1293.52L1234.3,1300.06L1228.42,1296.97L1222.55,1300.06L1223.67,1293.52L1218.91,1288.88L1225.49,1287.92ZM1259.6,1281.97L1262.53,1287.92L1269.11,1288.88L1264.35,1293.52L1265.47,1300.06L1259.6,1296.97L1253.72,1300.06L1254.84,1293.52L1250.08,1288.88L1256.66,1287.92ZM1088.16,1313.14L1091.1,1319.09L1097.67,1320.05L1092.92,1324.69L1094.04,1331.23L1088.16,1328.14L1082.28,1331.23L1083.4,1324.69L1078.65,1320.05L1085.22,1319.09ZM1119.33,1313.14L1122.27,1319.09L1128.84,1320.05L1124.09,1324.69L1125.21,1331.23L1119.33,1328.14L1113.45,1331.23L1114.57,1324.69L1109.82,1320.05L1116.39,1319.09ZM1150.5,1313.14L1153.44,1319.09L1160.01,1320.05L1155.26,1324.69L1156.38,1331.23L1150.5,1328.14L1144.62,1331.23L1145.74,1324.69L1140.99,1320.05L1147.56,1319.09ZM1181.67,1313.14L1184.61,1319.09L1191.18,1320.05L1186.43,1324.69L1187.55,1331.23L1181.67,1328.14L1175.79,1331.23L1176.91,1324.69L1172.16,1320.05L1178.73,1319.09ZM1212.84,1313.14L1215.78,1319.09L1222.35,1320.05L1217.6,1324.69L1218.72,1331.23L1212.84,1328.14L1206.96,1331.23L1208.08,1324.69L1203.33,1320.05L1209.9,1319.09ZM1244.01,1313.14L1246.95,1319.09L1253.52,1320.05L1248.77,1324.69L1249.89,1331.23L1244.01,1328.14L1238.13,1331.23L1239.25,1324.69L1234.5,1320.05L1241.07,1319.09ZM1275.18,1313.14L1278.12,1319.09L1284.69,1320.05L1279.94,1324.69L1281.06,1331.23L1275.18,1328.14L1269.3,1331.23L1270.42,1324.69L1265.67,1320.05L1272.24,1319.09Z" fill="rgb(128,128,128)" fill-opacity="0.35" stroke="rgb(128,128,128)" stroke-opacity="0.37" stroke-width="2.0"/>
<rect x="1139.1" y="1261.6" width="72.5" height="25.2" fill="none" stroke="rgb(128,128,128)" stroke-opacity="0.37" stroke-width="2.2"/>
<text x="1240.69" y="1287.4" font-size="36.36">Ananna+19</text>
<path d="M1142.23,1326.2 v-9.09 M1142.23,773.4 v9.09 M1321.87,1326.2 v-9.09 M1321.87,773.4 v9.09 M1501.51,1326.2 v-9.09 M1501.51,773.4 v9.09 M1681.15,1326.2 v-9.09 M1681.15,773.4 v9.09 M1860.79,1326.2 v-9.09 M1860.79,773.4 v9.09 M1106.3,1280.14 h9.09 M1896.9,1280.14 h-9.09 M1106.3,1164.99 h9.09 M1896.9,1164.99 h-9.09 M1106.3,1049.84 h9.09 M1896.9,1049.84 h-9.09 M1106.3,934.69 h9.09 M1896.9,934.69 h-9.09 M1106.3,819.54 h9.09 M1896.9,819.54 h-9.09" fill="none" stroke="#000" stroke-width="2.08"/>
<rect x="1106.3" y="773.4" width="790.6" height="552.8" fill="none" stroke="#000" stroke-width="2.08"/>
<text transform="translate(1142.23,1368.8) scale(1,1.04)" font-size="41.55" text-anchor="middle">42</text>
<text transform="translate(1321.87,1368.8) scale(1,1.04)" font-size="41.55" text-anchor="middle">43</text>
<text transform="translate(1501.51,1368.8) scale(1,1.04)" font-size="41.55" text-anchor="middle">44</text>
<text transform="translate(1681.15,1368.8) scale(1,1.04)" font-size="41.55" text-anchor="middle">45</text>
<text transform="translate(1860.79,1368.8) scale(1,1.04)" font-size="41.55" text-anchor="middle">46</text>
<text transform="translate(1096.71,1296.14) scale(1,1.04)" font-size="41.55" text-anchor="end">0.00</text>
<text transform="translate(1096.71,1180.99) scale(1,1.04)" font-size="41.55" text-anchor="end">0.25</text>
<text transform="translate(1096.71,1065.84) scale(1,1.04)" font-size="41.55" text-anchor="end">0.50</text>
<text transform="translate(1096.71,950.69) scale(1,1.04)" font-size="41.55" text-anchor="end">0.75</text>
<text transform="translate(1096.71,835.54) scale(1,1.04)" font-size="41.55" text-anchor="end">1.00</text>
<text transform="translate(1501.6,758.2) scale(1,1.05)" font-size="49.56" text-anchor="middle">3&lt;z&lt;4</text>
<text x="1279.5" y="1418" font-size="41.55" letter-spacing="0.14" xml:space="preserve">log Hard Lum [erg/s]</text>
</g>
</svg></body></html>
